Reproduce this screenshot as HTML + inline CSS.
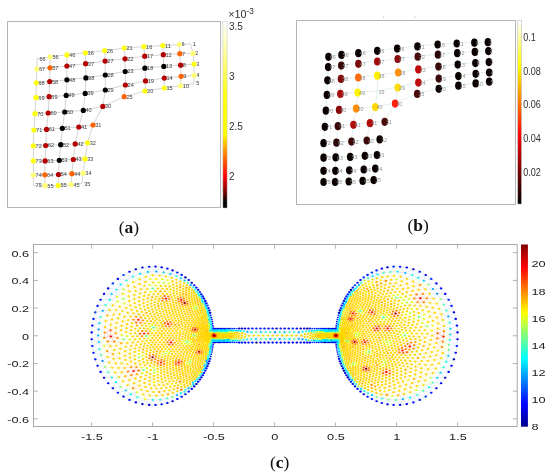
<!DOCTYPE html>
<html><head><meta charset="utf-8"><title>Figure</title>
<style>html,body{margin:0;padding:0;background:#fff}svg{display:block}</style></head>
<body><svg width="550" height="475" viewBox="0 0 550 475">
<defs>
<linearGradient id="gA" x1="0" y1="0" x2="0" y2="1">
<stop offset="0" stop-color="#fff"/><stop offset="0.40" stop-color="#ffff10"/><stop offset="0.605" stop-color="#ffff00"/><stop offset="0.71" stop-color="#ff8000"/><stop offset="0.83" stop-color="#ff0000"/><stop offset="0.91" stop-color="#800000"/><stop offset="0.97" stop-color="#000"/><stop offset="1" stop-color="#000"/>
</linearGradient>
<linearGradient id="gB" x1="0" y1="0" x2="0" y2="1">
<stop offset="0" stop-color="#fff"/><stop offset="0.25" stop-color="#ffff00"/><stop offset="0.625" stop-color="#ff0000"/><stop offset="1" stop-color="#000"/>
</linearGradient>
<linearGradient id="gC" x1="0" y1="0" x2="0" y2="1">
<stop offset="0" stop-color="#800000"/><stop offset="0.125" stop-color="#ff0000"/><stop offset="0.375" stop-color="#ffff00"/><stop offset="0.625" stop-color="#00ffff"/><stop offset="0.875" stop-color="#0000ff"/><stop offset="1" stop-color="#00008f"/>
</linearGradient>
</defs>
<rect width="550" height="475" fill="#fff"/>
<rect x="7.5" y="21.5" width="213" height="186" fill="#fff" stroke="#b4b4b4" stroke-width="1"/>
<path d="M37.2 58.8L50.2 56.9M50.2 56.9L66.9 54.9M66.9 54.9L85.4 52.8M85.4 52.8L104.6 50.6M104.6 50.6L124.2 48.1M124.2 48.1L143.9 46.6M143.9 46.6L162.8 45.6M162.8 45.6L179.3 44.5M179.3 44.5L190.5 43.8M36.8 69.1L50.0 67.8M50.0 67.8L66.9 66.0M66.9 66.0L85.6 63.7M85.6 63.7L105.1 61.1M105.1 61.1L125.0 58.8M125.0 58.8L144.7 56.2M144.7 56.2L163.3 54.7M163.3 54.7L179.8 53.7M179.8 53.7L193.0 53.4M36.3 82.8L49.7 81.6M49.7 81.6L66.9 79.8M66.9 79.8L85.9 77.9M85.9 77.9L105.3 75.0M105.3 75.0L125.2 71.5M125.2 71.5L144.9 68.2M144.9 68.2L163.8 66.4M163.8 66.4L180.6 65.2M180.6 65.2L194.1 64.1M36.1 97.7L49.1 96.7M49.1 96.7L66.2 95.4M66.2 95.4L85.2 93.4M85.2 93.4L105.3 90.0M105.3 90.0L125.4 85.0M125.4 85.0L145.5 80.9M145.5 80.9L164.3 78.1M164.3 78.1L181.1 76.3M181.1 76.3L194.1 75.3M35.0 113.7L48.2 113.0M48.2 113.0L64.7 112.0M64.7 112.0L83.3 110.4M83.3 110.4L102.8 106.4M102.8 106.4L124.2 96.7M124.2 96.7L144.9 91.1M144.9 91.1L164.3 88.0M164.3 88.0L180.6 85.8M180.6 85.8L194.0 83.5M33.9 130.0L46.5 129.4M46.5 129.4L62.3 128.3M62.3 128.3L78.8 127.0M78.8 127.0L93.0 125.0M33.4 145.8L45.7 145.5M45.7 145.5L60.7 144.7M60.7 144.7L75.2 143.9M75.2 143.9L87.5 142.8M33.4 160.9L45.1 160.9M45.1 160.9L59.3 160.3M59.3 160.3L73.3 159.5M73.3 159.5L85.0 158.9M33.4 175.1L44.8 174.8M44.8 174.8L58.5 174.5M58.5 174.5L71.9 173.7M71.9 173.7L83.1 173.2M33.4 185.5L45.1 185.7M45.1 185.7L58.2 185.5M58.2 185.5L71.1 184.7M71.1 184.7L82.0 183.6M37.2 58.8L36.8 69.1M50.2 56.9L50.0 67.8M66.9 54.9L66.9 66.0M85.4 52.8L85.6 63.7M104.6 50.6L105.1 61.1M124.2 48.1L125.0 58.8M143.9 46.6L144.7 56.2M162.8 45.6L163.3 54.7M179.3 44.5L179.8 53.7M190.5 43.8L193.0 53.4M36.8 69.1L36.3 82.8M50.0 67.8L49.7 81.6M66.9 66.0L66.9 79.8M85.6 63.7L85.9 77.9M105.1 61.1L105.3 75.0M125.0 58.8L125.2 71.5M144.7 56.2L144.9 68.2M163.3 54.7L163.8 66.4M179.8 53.7L180.6 65.2M193.0 53.4L194.1 64.1M36.3 82.8L36.1 97.7M49.7 81.6L49.1 96.7M66.9 79.8L66.2 95.4M85.9 77.9L85.2 93.4M105.3 75.0L105.3 90.0M125.2 71.5L125.4 85.0M144.9 68.2L145.5 80.9M163.8 66.4L164.3 78.1M180.6 65.2L181.1 76.3M194.1 64.1L194.1 75.3M36.1 97.7L35.0 113.7M49.1 96.7L48.2 113.0M66.2 95.4L64.7 112.0M85.2 93.4L83.3 110.4M105.3 90.0L102.8 106.4M125.4 85.0L124.2 96.7M145.5 80.9L144.9 91.1M164.3 78.1L164.3 88.0M181.1 76.3L180.6 85.8M194.1 75.3L194.0 83.5M35.0 113.7L33.9 130.0M48.2 113.0L46.5 129.4M64.7 112.0L62.3 128.3M83.3 110.4L78.8 127.0M102.8 106.4L93.0 125.0M33.9 130.0L33.4 145.8M46.5 129.4L45.7 145.5M62.3 128.3L60.7 144.7M78.8 127.0L75.2 143.9M93.0 125.0L87.5 142.8M33.4 145.8L33.4 160.9M45.7 145.5L45.1 160.9M60.7 144.7L59.3 160.3M75.2 143.9L73.3 159.5M87.5 142.8L85.0 158.9M33.4 160.9L33.4 175.1M45.1 160.9L44.8 174.8M59.3 160.3L58.5 174.5M73.3 159.5L71.9 173.7M85.0 158.9L83.1 173.2M33.4 175.1L33.4 185.5M44.8 174.8L45.1 185.7M58.5 174.5L58.2 185.5M71.9 173.7L71.1 184.7M83.1 173.2L82.0 183.6" stroke="#b8b8b8" stroke-width="0.6" fill="none"/>
<g font-family="'Liberation Sans',sans-serif" font-size="5.6" fill="#404040">
<text x="39.4" y="60.7">66</text>
<text x="52.4" y="58.8">56</text>
<text x="69.1" y="56.8">46</text>
<text x="87.6" y="54.7">36</text>
<text x="106.8" y="52.5">26</text>
<text x="126.4" y="50.0">21</text>
<text x="146.1" y="48.5">16</text>
<text x="165.0" y="47.5">11</text>
<text x="181.5" y="46.4">6</text>
<text x="192.7" y="45.7">1</text>
<text x="39.0" y="71.0">67</text>
<text x="52.2" y="69.7">57</text>
<text x="69.1" y="67.9">47</text>
<text x="87.8" y="65.6">37</text>
<text x="107.3" y="63.0">27</text>
<text x="127.2" y="60.7">22</text>
<text x="146.9" y="58.1">17</text>
<text x="165.5" y="56.6">12</text>
<text x="182.0" y="55.6">7</text>
<text x="195.2" y="55.3">2</text>
<text x="38.5" y="84.7">68</text>
<text x="51.9" y="83.5">58</text>
<text x="69.1" y="81.7">48</text>
<text x="88.1" y="79.8">38</text>
<text x="107.5" y="76.9">28</text>
<text x="127.4" y="73.4">23</text>
<text x="147.1" y="70.1">18</text>
<text x="166.0" y="68.3">13</text>
<text x="182.8" y="67.1">8</text>
<text x="196.3" y="66.0">3</text>
<text x="38.3" y="99.6">69</text>
<text x="51.3" y="98.6">59</text>
<text x="68.4" y="97.3">49</text>
<text x="87.4" y="95.3">39</text>
<text x="107.5" y="91.9">29</text>
<text x="127.6" y="86.9">24</text>
<text x="147.7" y="82.8">19</text>
<text x="166.5" y="80.0">14</text>
<text x="183.3" y="78.2">9</text>
<text x="196.3" y="77.2">4</text>
<text x="37.2" y="115.6">70</text>
<text x="50.4" y="114.9">60</text>
<text x="66.9" y="113.9">50</text>
<text x="85.5" y="112.3">40</text>
<text x="105.0" y="108.3">30</text>
<text x="126.4" y="98.6">25</text>
<text x="147.1" y="93.0">20</text>
<text x="166.5" y="89.9">15</text>
<text x="182.8" y="87.7">10</text>
<text x="196.2" y="85.4">5</text>
<text x="36.1" y="131.9">71</text>
<text x="48.7" y="131.3">61</text>
<text x="64.5" y="130.2">51</text>
<text x="81.0" y="128.9">41</text>
<text x="95.2" y="126.9">31</text>
<text x="35.6" y="147.7">72</text>
<text x="47.9" y="147.4">62</text>
<text x="62.9" y="146.6">52</text>
<text x="77.4" y="145.8">42</text>
<text x="89.7" y="144.7">32</text>
<text x="35.6" y="162.8">73</text>
<text x="47.3" y="162.8">63</text>
<text x="61.5" y="162.2">53</text>
<text x="75.5" y="161.4">43</text>
<text x="87.2" y="160.8">33</text>
<text x="35.6" y="177.0">74</text>
<text x="47.0" y="176.7">64</text>
<text x="60.7" y="176.4">54</text>
<text x="74.1" y="175.6">44</text>
<text x="85.3" y="175.1">34</text>
<text x="35.6" y="187.4">75</text>
<text x="47.3" y="187.6">65</text>
<text x="60.4" y="187.4">55</text>
<text x="73.3" y="186.6">45</text>
<text x="84.2" y="185.5">35</text>
</g>
<circle cx="50.2" cy="56.9" r="2.6" fill="#ffff78"/>
<circle cx="66.9" cy="54.9" r="2.6" fill="#ffff10"/>
<circle cx="85.4" cy="52.8" r="2.6" fill="#ffff10"/>
<circle cx="104.6" cy="50.6" r="2.6" fill="#ffff10"/>
<circle cx="124.2" cy="48.1" r="2.6" fill="#ffff10"/>
<circle cx="143.9" cy="46.6" r="2.6" fill="#ffff10"/>
<circle cx="162.8" cy="45.6" r="2.6" fill="#ffff10"/>
<circle cx="179.3" cy="44.5" r="2.6" fill="#ffff78"/>
<circle cx="36.8" cy="69.1" r="2.6" fill="#ffff78"/>
<circle cx="50.0" cy="67.8" r="2.6" fill="#ff6400"/>
<circle cx="66.9" cy="66.0" r="2.6" fill="#b40000"/>
<circle cx="85.6" cy="63.7" r="2.6" fill="#b40000"/>
<circle cx="105.1" cy="61.1" r="2.6" fill="#b40000"/>
<circle cx="125.0" cy="58.8" r="2.6" fill="#b40000"/>
<circle cx="144.7" cy="56.2" r="2.6" fill="#b40000"/>
<circle cx="163.3" cy="54.7" r="2.6" fill="#b40000"/>
<circle cx="179.8" cy="53.7" r="2.6" fill="#ff6400"/>
<circle cx="193.0" cy="53.4" r="2.6" fill="#ffff78"/>
<circle cx="36.3" cy="82.8" r="2.6" fill="#ffff10"/>
<circle cx="49.7" cy="81.6" r="2.6" fill="#b40000"/>
<circle cx="66.9" cy="79.8" r="2.6" fill="#000000"/>
<circle cx="85.9" cy="77.9" r="2.6" fill="#000000"/>
<circle cx="105.3" cy="75.0" r="2.6" fill="#000000"/>
<circle cx="125.2" cy="71.5" r="2.6" fill="#000000"/>
<circle cx="144.9" cy="68.2" r="2.6" fill="#000000"/>
<circle cx="163.8" cy="66.4" r="2.6" fill="#000000"/>
<circle cx="180.6" cy="65.2" r="2.6" fill="#b40000"/>
<circle cx="194.1" cy="64.1" r="2.6" fill="#ffff10"/>
<circle cx="36.1" cy="97.7" r="2.6" fill="#ffff10"/>
<circle cx="49.1" cy="96.7" r="2.6" fill="#b40000"/>
<circle cx="66.2" cy="95.4" r="2.6" fill="#000000"/>
<circle cx="85.2" cy="93.4" r="2.6" fill="#000000"/>
<circle cx="105.3" cy="90.0" r="2.6" fill="#000000"/>
<circle cx="125.4" cy="85.0" r="2.6" fill="#b40000"/>
<circle cx="145.5" cy="80.9" r="2.6" fill="#b40000"/>
<circle cx="164.3" cy="78.1" r="2.6" fill="#b40000"/>
<circle cx="181.1" cy="76.3" r="2.6" fill="#ff6400"/>
<circle cx="194.1" cy="75.3" r="2.6" fill="#ffff78"/>
<circle cx="35.0" cy="113.7" r="2.6" fill="#ffff10"/>
<circle cx="48.2" cy="113.0" r="2.6" fill="#b40000"/>
<circle cx="64.7" cy="112.0" r="2.6" fill="#000000"/>
<circle cx="83.3" cy="110.4" r="2.6" fill="#000000"/>
<circle cx="102.8" cy="106.4" r="2.6" fill="#b40000"/>
<circle cx="124.2" cy="96.7" r="2.6" fill="#ff6400"/>
<circle cx="144.9" cy="91.1" r="2.6" fill="#ffff10"/>
<circle cx="164.3" cy="88.0" r="2.6" fill="#ffff10"/>
<circle cx="180.6" cy="85.8" r="2.6" fill="#ffff78"/>
<circle cx="33.9" cy="130.0" r="2.6" fill="#ffff10"/>
<circle cx="46.5" cy="129.4" r="2.6" fill="#b40000"/>
<circle cx="62.3" cy="128.3" r="2.6" fill="#000000"/>
<circle cx="78.8" cy="127.0" r="2.6" fill="#b40000"/>
<circle cx="93.0" cy="125.0" r="2.6" fill="#ff6400"/>
<circle cx="33.4" cy="145.8" r="2.6" fill="#ffff10"/>
<circle cx="45.7" cy="145.5" r="2.6" fill="#b40000"/>
<circle cx="60.7" cy="144.7" r="2.6" fill="#000000"/>
<circle cx="75.2" cy="143.9" r="2.6" fill="#b40000"/>
<circle cx="87.5" cy="142.8" r="2.6" fill="#ffff10"/>
<circle cx="33.4" cy="160.9" r="2.6" fill="#ffff10"/>
<circle cx="45.1" cy="160.9" r="2.6" fill="#b40000"/>
<circle cx="59.3" cy="160.3" r="2.6" fill="#000000"/>
<circle cx="73.3" cy="159.5" r="2.6" fill="#b40000"/>
<circle cx="85.0" cy="158.9" r="2.6" fill="#ffff10"/>
<circle cx="33.4" cy="175.1" r="2.6" fill="#ffff78"/>
<circle cx="44.8" cy="174.8" r="2.6" fill="#ff6400"/>
<circle cx="58.5" cy="174.5" r="2.6" fill="#b40000"/>
<circle cx="71.9" cy="173.7" r="2.6" fill="#ff6400"/>
<circle cx="83.1" cy="173.2" r="2.6" fill="#ffff78"/>
<circle cx="45.1" cy="185.7" r="2.6" fill="#ffff78"/>
<circle cx="58.2" cy="185.5" r="2.6" fill="#ffff10"/>
<circle cx="71.1" cy="184.7" r="2.6" fill="#ffff78"/>
<rect x="222.9" y="21.5" width="4.2" height="186.5" fill="url(#gA)" stroke="#c0c0c0" stroke-width="0.5"/>
<g font-family="'Liberation Sans',sans-serif" font-size="10" fill="#303030">
<text x="229" y="29.7">3.5</text>
<text x="229" y="79.5">3</text>
<text x="229" y="129.5">2.5</text>
<text x="229" y="179.5">2</text>
<text x="228.2" y="18" font-size="10.8">×10<tspan dy="-4.4" font-size="8.2">-3</tspan></text>
</g>
<text x="128.9" y="232.6" text-anchor="middle" font-family="'Liberation Serif',serif" font-size="17.5" fill="#111">(<tspan font-weight="bold">a</tspan>)</text>
<rect x="296.5" y="20.5" width="219" height="184" fill="#fff" stroke="#b4b4b4" stroke-width="1"/>
<path d="M328.5 56.4L341.5 54.5M341.5 54.5L358.4 52.8M358.4 52.8L377.3 50.4M377.3 50.4L397.2 48.2M397.2 48.2L417.5 46.0M417.5 46.0L437.7 44.1M437.7 44.1L456.8 43.1M456.8 43.1L474.4 42.3M474.4 42.3L487.9 41.8M328.2 66.7L341.3 65.2M341.3 65.2L358.4 63.4M358.4 63.4L377.3 61.1M377.3 61.1L397.7 58.6M397.7 58.6L417.8 56.3M417.8 56.3L438.0 54.3M438.0 54.3L457.3 52.8M457.3 52.8L474.9 51.5M474.9 51.5L488.4 50.7M327.5 79.9L341.0 78.5M341.0 78.5L358.3 77.1M358.3 77.1L377.3 75.3M377.3 75.3L398.2 72.1M398.2 72.1L418.4 69.0M418.4 69.0L438.5 66.2M438.5 66.2L457.8 64.2M457.8 64.2L475.4 62.7M475.4 62.7L488.9 61.7M326.9 94.5L340.4 93.5M340.4 93.5L357.7 92.2M357.7 92.2L377.3 91.0M377.3 91.0L397.7 87.1M397.7 87.1L418.4 82.2M418.4 82.2L438.8 78.2M438.8 78.2L458.4 75.7M458.4 75.7L475.7 73.4M475.7 73.4L489.2 72.1M325.9 110.3L339.1 109.5M339.1 109.5L356.2 108.2M356.2 108.2L375.3 106.7M375.3 106.7L395.1 103.2M395.1 103.2L417.2 93.5M417.2 93.5L438.8 88.4M438.8 88.4L458.4 85.3M458.4 85.3L475.7 83.0M475.7 83.0L489.2 81.3M324.9 126.4L337.9 125.8M337.9 125.8L353.5 124.4M353.5 124.4L370.0 122.8M370.0 122.8L384.7 121.4M323.6 142.8L336.5 142.3M336.5 142.3L351.5 141.2M351.5 141.2L366.8 140.1M366.8 140.1L379.7 139.0M323.6 157.3L335.7 157.0M335.7 157.0L350.2 156.5M350.2 156.5L364.9 155.4M364.9 155.4L377.0 154.6M323.6 170.4L335.4 170.4M335.4 170.4L349.3 169.9M349.3 169.9L363.8 169.1M363.8 169.1L375.3 168.2M323.6 181.6L335.1 181.6M335.1 181.6L348.8 181.1M348.8 181.1L362.7 180.5M362.7 180.5L373.7 179.7M328.5 56.4L328.2 66.7M341.5 54.5L341.3 65.2M358.4 52.8L358.4 63.4M377.3 50.4L377.3 61.1M397.2 48.2L397.7 58.6M417.5 46.0L417.8 56.3M437.7 44.1L438.0 54.3M456.8 43.1L457.3 52.8M474.4 42.3L474.9 51.5M487.9 41.8L488.4 50.7M328.2 66.7L327.5 79.9M341.3 65.2L341.0 78.5M358.4 63.4L358.3 77.1M377.3 61.1L377.3 75.3M397.7 58.6L398.2 72.1M417.8 56.3L418.4 69.0M438.0 54.3L438.5 66.2M457.3 52.8L457.8 64.2M474.9 51.5L475.4 62.7M488.4 50.7L488.9 61.7M327.5 79.9L326.9 94.5M341.0 78.5L340.4 93.5M358.3 77.1L357.7 92.2M377.3 75.3L377.3 91.0M398.2 72.1L397.7 87.1M418.4 69.0L418.4 82.2M438.5 66.2L438.8 78.2M457.8 64.2L458.4 75.7M475.4 62.7L475.7 73.4M488.9 61.7L489.2 72.1M326.9 94.5L325.9 110.3M340.4 93.5L339.1 109.5M357.7 92.2L356.2 108.2M377.3 91.0L375.3 106.7M397.7 87.1L395.1 103.2M418.4 82.2L417.2 93.5M438.8 78.2L438.8 88.4M458.4 75.7L458.4 85.3M475.7 73.4L475.7 83.0M489.2 72.1L489.2 81.3M325.9 110.3L324.9 126.4M339.1 109.5L337.9 125.8M356.2 108.2L353.5 124.4M375.3 106.7L370.0 122.8M395.1 103.2L384.7 121.4M324.9 126.4L323.6 142.8M337.9 125.8L336.5 142.3M353.5 124.4L351.5 141.2M370.0 122.8L366.8 140.1M384.7 121.4L379.7 139.0M323.6 142.8L323.6 157.3M336.5 142.3L335.7 157.0M351.5 141.2L350.2 156.5M366.8 140.1L364.9 155.4M379.7 139.0L377.0 154.6M323.6 157.3L323.6 170.4M335.7 157.0L335.4 170.4M350.2 156.5L349.3 169.9M364.9 155.4L363.8 169.1M377.0 154.6L375.3 168.2M323.6 170.4L323.6 181.6M335.4 170.4L335.1 181.6M349.3 169.9L348.8 181.1M363.8 169.1L362.7 180.5M375.3 168.2L373.7 179.7" stroke="#d2e6e6" stroke-width="0.6" fill="none"/>
<ellipse cx="328.5" cy="56.8" rx="3.3" ry="4.1" fill="#0a0000"/>
<ellipse cx="341.5" cy="54.9" rx="3.3" ry="4.1" fill="#0a0000"/>
<ellipse cx="358.4" cy="53.2" rx="3.3" ry="4.1" fill="#0a0000"/>
<ellipse cx="377.3" cy="50.8" rx="3.3" ry="4.1" fill="#0a0000"/>
<ellipse cx="397.2" cy="48.6" rx="3.3" ry="4.1" fill="#0a0000"/>
<ellipse cx="417.5" cy="46.4" rx="3.3" ry="4.1" fill="#0a0000"/>
<ellipse cx="437.7" cy="44.5" rx="3.3" ry="4.1" fill="#0a0000"/>
<ellipse cx="456.8" cy="43.5" rx="3.3" ry="4.1" fill="#0a0000"/>
<ellipse cx="474.4" cy="42.7" rx="3.3" ry="4.1" fill="#0a0000"/>
<ellipse cx="487.9" cy="42.2" rx="3.3" ry="4.1" fill="#0a0000"/>
<ellipse cx="328.2" cy="67.1" rx="3.3" ry="4.1" fill="#0a0000"/>
<ellipse cx="341.3" cy="65.6" rx="3.3" ry="4.1" fill="#3a0808"/>
<ellipse cx="358.4" cy="63.8" rx="3.3" ry="4.1" fill="#7a0c0c"/>
<ellipse cx="377.3" cy="61.5" rx="3.3" ry="4.1" fill="#a00c0c"/>
<ellipse cx="397.7" cy="59.0" rx="3.3" ry="4.1" fill="#8a0c0c"/>
<ellipse cx="417.8" cy="56.7" rx="3.3" ry="4.1" fill="#4a0a0a"/>
<ellipse cx="438.0" cy="54.7" rx="3.3" ry="4.1" fill="#2a0606"/>
<ellipse cx="457.3" cy="53.2" rx="3.3" ry="4.1" fill="#0a0000"/>
<ellipse cx="474.9" cy="51.9" rx="3.3" ry="4.1" fill="#0a0000"/>
<ellipse cx="488.4" cy="51.1" rx="3.3" ry="4.1" fill="#0a0000"/>
<ellipse cx="327.5" cy="80.3" rx="3.3" ry="4.1" fill="#0a0000"/>
<ellipse cx="341.0" cy="78.9" rx="3.3" ry="4.1" fill="#800c0c"/>
<ellipse cx="358.3" cy="77.5" rx="3.3" ry="4.1" fill="#ff6a10"/>
<ellipse cx="377.3" cy="75.7" rx="3.3" ry="4.1" fill="#fff000"/>
<ellipse cx="398.2" cy="72.5" rx="3.3" ry="4.1" fill="#ff9010"/>
<ellipse cx="418.4" cy="69.4" rx="3.3" ry="4.1" fill="#c00c0c"/>
<ellipse cx="438.5" cy="66.6" rx="3.3" ry="4.1" fill="#3a0808"/>
<ellipse cx="457.8" cy="64.6" rx="3.3" ry="4.1" fill="#0a0000"/>
<ellipse cx="475.4" cy="63.1" rx="3.3" ry="4.1" fill="#0a0000"/>
<ellipse cx="488.9" cy="62.1" rx="3.3" ry="4.1" fill="#0a0000"/>
<ellipse cx="326.9" cy="94.9" rx="3.3" ry="4.1" fill="#0a0000"/>
<ellipse cx="340.4" cy="93.9" rx="3.3" ry="4.1" fill="#a80c0c"/>
<ellipse cx="357.7" cy="92.6" rx="3.3" ry="4.1" fill="#fff200"/>
<ellipse cx="397.7" cy="87.5" rx="3.3" ry="4.1" fill="#ffdc10"/>
<ellipse cx="418.4" cy="82.6" rx="3.3" ry="4.1" fill="#c00c0c"/>
<ellipse cx="438.8" cy="78.6" rx="3.3" ry="4.1" fill="#3a0808"/>
<ellipse cx="458.4" cy="76.1" rx="3.3" ry="4.1" fill="#0a0000"/>
<ellipse cx="475.7" cy="73.8" rx="3.3" ry="4.1" fill="#0a0000"/>
<ellipse cx="489.2" cy="72.5" rx="3.3" ry="4.1" fill="#0a0000"/>
<ellipse cx="325.9" cy="110.7" rx="3.3" ry="4.1" fill="#0a0000"/>
<ellipse cx="339.1" cy="109.9" rx="3.3" ry="4.1" fill="#8a0a0a"/>
<ellipse cx="356.2" cy="108.6" rx="3.3" ry="4.1" fill="#ff8c00"/>
<ellipse cx="375.3" cy="107.1" rx="3.3" ry="4.1" fill="#ffd800"/>
<ellipse cx="395.1" cy="103.6" rx="3.3" ry="4.1" fill="#ff2010"/>
<ellipse cx="417.2" cy="93.9" rx="3.3" ry="4.1" fill="#4a0a0a"/>
<ellipse cx="438.8" cy="88.8" rx="3.3" ry="4.1" fill="#0a0000"/>
<ellipse cx="458.4" cy="85.7" rx="3.3" ry="4.1" fill="#0a0000"/>
<ellipse cx="475.7" cy="83.4" rx="3.3" ry="4.1" fill="#0a0000"/>
<ellipse cx="489.2" cy="81.7" rx="3.3" ry="4.1" fill="#0a0000"/>
<ellipse cx="324.9" cy="126.8" rx="3.3" ry="4.1" fill="#0a0000"/>
<ellipse cx="337.9" cy="126.2" rx="3.3" ry="4.1" fill="#3a0808"/>
<ellipse cx="353.5" cy="124.8" rx="3.3" ry="4.1" fill="#b00c0c"/>
<ellipse cx="370.0" cy="123.2" rx="3.3" ry="4.1" fill="#b00c0c"/>
<ellipse cx="384.7" cy="121.8" rx="3.3" ry="4.1" fill="#4a0a0a"/>
<ellipse cx="323.6" cy="143.2" rx="3.3" ry="4.1" fill="#0a0000"/>
<ellipse cx="336.5" cy="142.7" rx="3.3" ry="4.1" fill="#2a0606"/>
<ellipse cx="351.5" cy="141.6" rx="3.3" ry="4.1" fill="#3a0808"/>
<ellipse cx="366.8" cy="140.5" rx="3.3" ry="4.1" fill="#3a0808"/>
<ellipse cx="379.7" cy="139.4" rx="3.3" ry="4.1" fill="#0a0000"/>
<ellipse cx="323.6" cy="157.7" rx="3.3" ry="4.1" fill="#0a0000"/>
<ellipse cx="335.7" cy="157.4" rx="3.3" ry="4.1" fill="#0a0000"/>
<ellipse cx="350.2" cy="156.9" rx="3.3" ry="4.1" fill="#0a0000"/>
<ellipse cx="364.9" cy="155.8" rx="3.3" ry="4.1" fill="#0a0000"/>
<ellipse cx="377.0" cy="155.0" rx="3.3" ry="4.1" fill="#0a0000"/>
<ellipse cx="323.6" cy="170.8" rx="3.3" ry="4.1" fill="#0a0000"/>
<ellipse cx="335.4" cy="170.8" rx="3.3" ry="4.1" fill="#0a0000"/>
<ellipse cx="349.3" cy="170.3" rx="3.3" ry="4.1" fill="#0a0000"/>
<ellipse cx="363.8" cy="169.5" rx="3.3" ry="4.1" fill="#0a0000"/>
<ellipse cx="375.3" cy="168.6" rx="3.3" ry="4.1" fill="#0a0000"/>
<ellipse cx="323.6" cy="182.0" rx="3.3" ry="4.1" fill="#0a0000"/>
<ellipse cx="335.1" cy="182.0" rx="3.3" ry="4.1" fill="#0a0000"/>
<ellipse cx="348.8" cy="181.5" rx="3.3" ry="4.1" fill="#0a0000"/>
<ellipse cx="362.7" cy="180.9" rx="3.3" ry="4.1" fill="#0a0000"/>
<ellipse cx="373.7" cy="180.1" rx="3.3" ry="4.1" fill="#0a0000"/>
<g font-family="'Liberation Sans',sans-serif" font-size="6.2" fill="#8a8a8a" fill-opacity="0.9">
<text transform="translate(329.8,59.0) scale(0.85,1)">66</text>
<text transform="translate(342.8,57.1) scale(0.85,1)">56</text>
<text transform="translate(359.7,55.4) scale(0.85,1)">46</text>
<text transform="translate(378.6,53.0) scale(0.85,1)">36</text>
<text transform="translate(398.5,50.8) scale(0.85,1)">26</text>
<text transform="translate(418.8,48.6) scale(0.85,1)">21</text>
<text transform="translate(439.0,46.7) scale(0.85,1)">16</text>
<text transform="translate(458.1,45.7) scale(0.85,1)">11</text>
<text transform="translate(475.7,44.9) scale(0.85,1)">6</text>
<text transform="translate(489.2,44.4) scale(0.85,1)">1</text>
<text transform="translate(329.5,69.3) scale(0.85,1)">67</text>
<text transform="translate(342.6,67.8) scale(0.85,1)">57</text>
<text transform="translate(359.7,66.0) scale(0.85,1)">47</text>
<text transform="translate(378.6,63.7) scale(0.85,1)">37</text>
<text transform="translate(399.0,61.2) scale(0.85,1)">27</text>
<text transform="translate(419.1,58.9) scale(0.85,1)">22</text>
<text transform="translate(439.3,56.9) scale(0.85,1)">17</text>
<text transform="translate(458.6,55.4) scale(0.85,1)">12</text>
<text transform="translate(476.2,54.1) scale(0.85,1)">7</text>
<text transform="translate(489.7,53.3) scale(0.85,1)">2</text>
<text transform="translate(328.8,82.5) scale(0.85,1)">68</text>
<text transform="translate(342.3,81.1) scale(0.85,1)">58</text>
<text transform="translate(359.6,79.7) scale(0.85,1)">48</text>
<text transform="translate(378.6,77.9) scale(0.85,1)">38</text>
<text transform="translate(399.5,74.7) scale(0.85,1)">28</text>
<text transform="translate(419.7,71.6) scale(0.85,1)">23</text>
<text transform="translate(439.8,68.8) scale(0.85,1)">18</text>
<text transform="translate(459.1,66.8) scale(0.85,1)">13</text>
<text transform="translate(476.7,65.3) scale(0.85,1)">8</text>
<text transform="translate(490.2,64.3) scale(0.85,1)">3</text>
<text transform="translate(328.2,97.1) scale(0.85,1)">69</text>
<text transform="translate(341.7,96.1) scale(0.85,1)">59</text>
<text transform="translate(359.0,94.8) scale(0.85,1)">49</text>
<text transform="translate(378.6,93.6) scale(0.85,1)">39</text>
<text transform="translate(399.0,89.7) scale(0.85,1)">29</text>
<text transform="translate(419.7,84.8) scale(0.85,1)">24</text>
<text transform="translate(440.1,80.8) scale(0.85,1)">19</text>
<text transform="translate(459.7,78.3) scale(0.85,1)">14</text>
<text transform="translate(477.0,76.0) scale(0.85,1)">9</text>
<text transform="translate(490.5,74.7) scale(0.85,1)">4</text>
<text transform="translate(327.2,112.9) scale(0.85,1)">70</text>
<text transform="translate(340.4,112.1) scale(0.85,1)">60</text>
<text transform="translate(357.5,110.8) scale(0.85,1)">50</text>
<text transform="translate(376.6,109.3) scale(0.85,1)">40</text>
<text transform="translate(396.4,105.8) scale(0.85,1)">30</text>
<text transform="translate(418.5,96.1) scale(0.85,1)">25</text>
<text transform="translate(440.1,91.0) scale(0.85,1)">20</text>
<text transform="translate(459.7,87.9) scale(0.85,1)">15</text>
<text transform="translate(477.0,85.6) scale(0.85,1)">10</text>
<text transform="translate(490.5,83.9) scale(0.85,1)">5</text>
<text transform="translate(326.2,129.0) scale(0.85,1)">71</text>
<text transform="translate(339.2,128.4) scale(0.85,1)">61</text>
<text transform="translate(354.8,127.0) scale(0.85,1)">51</text>
<text transform="translate(371.3,125.4) scale(0.85,1)">41</text>
<text transform="translate(386.0,124.0) scale(0.85,1)">31</text>
<text transform="translate(324.9,145.4) scale(0.85,1)">72</text>
<text transform="translate(337.8,144.9) scale(0.85,1)">62</text>
<text transform="translate(352.8,143.8) scale(0.85,1)">52</text>
<text transform="translate(368.1,142.7) scale(0.85,1)">42</text>
<text transform="translate(381.0,141.6) scale(0.85,1)">32</text>
<text transform="translate(324.9,159.9) scale(0.85,1)">73</text>
<text transform="translate(337.0,159.6) scale(0.85,1)">63</text>
<text transform="translate(351.5,159.1) scale(0.85,1)">53</text>
<text transform="translate(366.2,158.0) scale(0.85,1)">43</text>
<text transform="translate(378.3,157.2) scale(0.85,1)">33</text>
<text transform="translate(324.9,173.0) scale(0.85,1)">74</text>
<text transform="translate(336.7,173.0) scale(0.85,1)">64</text>
<text transform="translate(350.6,172.5) scale(0.85,1)">54</text>
<text transform="translate(365.1,171.7) scale(0.85,1)">44</text>
<text transform="translate(376.6,170.8) scale(0.85,1)">34</text>
<text transform="translate(324.9,184.2) scale(0.85,1)">75</text>
<text transform="translate(336.4,184.2) scale(0.85,1)">65</text>
<text transform="translate(350.1,183.7) scale(0.85,1)">55</text>
<text transform="translate(364.0,183.1) scale(0.85,1)">45</text>
<text transform="translate(375.0,182.3) scale(0.85,1)">35</text>
</g>
<circle cx="383.7" cy="17" r="0.6" fill="#999"/><circle cx="415" cy="17" r="0.6" fill="#999"/>
<rect x="517.8" y="20.5" width="3.6" height="183.5" fill="url(#gB)" stroke="#b0b0b0" stroke-width="0.5"/>
<g font-family="'Liberation Sans',sans-serif" font-size="10.4" fill="#303030">
<text transform="translate(523.3,41.0) scale(0.87,1)">0.1</text>
<text transform="translate(523.3,74.7) scale(0.87,1)">0.08</text>
<text transform="translate(523.3,108.3) scale(0.87,1)">0.06</text>
<text transform="translate(523.3,141.9) scale(0.87,1)">0.04</text>
<text transform="translate(523.3,175.6) scale(0.87,1)">0.02</text>
</g>
<text x="418.2" y="230.6" text-anchor="middle" font-family="'Liberation Serif',serif" font-size="17.5" fill="#111">(<tspan font-weight="bold">b</tspan>)</text>
<rect x="33.5" y="244.5" width="483.7" height="182" fill="#fff" stroke="#a8a8a8" stroke-width="1"/>
<path d="M91.6 426.5v-4.2M91.6 244.5v4.2M152.6 426.5v-4.2M152.6 244.5v4.2M213.6 426.5v-4.2M213.6 244.5v4.2M274.6 426.5v-4.2M274.6 244.5v4.2M335.6 426.5v-4.2M335.6 244.5v4.2M396.6 426.5v-4.2M396.6 244.5v4.2M457.6 426.5v-4.2M457.6 244.5v4.2M33.5 418.9h4.4M517.2 418.9h-4.4M33.5 391.2h4.4M517.2 391.2h-4.4M33.5 363.5h4.4M517.2 363.5h-4.4M33.5 335.8h4.4M517.2 335.8h-4.4M33.5 308.1h4.4M517.2 308.1h-4.4M33.5 280.4h4.4M517.2 280.4h-4.4M33.5 252.7h4.4M517.2 252.7h-4.4" stroke="#a0a0a0" stroke-width="0.8" fill="none"/>
<g stroke-width="0.5" fill="none" stroke-opacity="0.8">
<path d="M196.4 384.0L198.2 381.7M194.2 386.4L196.4 384.0M210.8 356.4L211.4 354.2M343.9 370.7L342.8 368.4M345.1 373.0L343.9 370.7M304.2 328.5L307.2 328.5" stroke="#b4ceee"/>
<path d="M142.4 404.1L149.1 404.9M108.1 288.4L104.1 293.9M454.0 312.3L455.7 318.9M210.8 315.2L210.1 312.8M172.6 270.4L167.4 268.6M448.7 371.9L445.1 377.7M445.1 377.7L441.1 383.2M210.1 358.8L210.8 356.4M455.7 352.7L454.0 359.3M454.0 359.3L451.6 365.7M212.6 323.5L212.3 321.6M212.3 321.6L211.9 319.6M347.8 377.4L346.4 375.2M339.9 310.4L340.7 308.0M339.1 312.8L339.9 310.4M336.6 323.5L336.9 321.6M346.4 375.2L345.1 373.0M300.7 328.5L304.2 328.5M296.8 328.5L300.7 328.5M256.4 342.6L260.5 342.6M252.4 342.6L256.4 342.6M307.2 328.5L309.9 328.5" stroke="#b4ceee"/>
<path d="M149.1 404.9L155.6 405.0M135.8 402.4L142.4 404.1M93.5 318.9L92.3 325.6M92.3 325.6L91.7 332.4M108.1 383.2L112.8 388.2M393.6 405.0L387.5 404.3M387.5 404.3L381.8 403.0M135.8 269.2L129.5 271.7M181.6 396.7L185.4 394.2M100.5 371.9L104.1 377.7M91.7 332.4L91.7 339.2M441.1 383.2L436.4 388.2M381.8 403.0L376.6 401.2M387.5 267.3L393.6 266.6M167.4 268.6L161.7 267.3M177.3 399.1L181.6 396.7M172.6 401.2L177.3 399.1M436.4 283.4L441.1 288.4M112.8 283.4L108.1 288.4M406.8 267.5L413.4 269.2M91.7 339.2L92.3 346.0M104.1 377.7L108.1 383.2M376.6 401.2L371.9 399.1M451.6 305.9L454.0 312.3M381.8 268.6L387.5 267.3M206.4 303.2L205.3 300.9M142.4 267.5L135.8 269.2M177.3 272.5L172.6 270.4M413.4 402.4L406.8 404.1M167.4 403.0L172.6 401.2M441.1 288.4L445.1 293.9M97.6 365.7L100.5 371.9M436.4 388.2L431.3 392.7M204.1 373.0L205.3 370.7M349.3 292.1L351.0 289.9M351.0 289.9L352.8 287.6M204.1 298.6L202.8 296.4M155.6 266.6L149.1 266.7M161.7 267.3L155.6 266.6M406.8 404.1L400.1 404.9M445.1 293.9L448.7 299.7M419.7 271.7L425.7 275.0M413.4 269.2L419.7 271.7M95.2 359.3L97.6 365.7M211.4 317.4L210.8 315.2M360.4 391.6L357.5 388.9M367.6 396.7L363.8 394.2M211.4 354.2L211.9 352.0M191.7 388.9L194.2 386.4M455.7 318.9L456.9 325.6M205.3 300.9L204.1 298.6M149.1 266.7L142.4 267.5M185.4 277.4L181.6 274.9M191.7 282.7L188.8 280.0M400.1 404.9L393.6 405.0M451.6 365.7L448.7 371.9M211.9 319.6L211.4 317.4M363.8 394.2L360.4 391.6M211.9 352.0L212.3 350.0M212.3 350.0L212.6 348.1M198.2 381.7L199.9 379.5M199.9 379.5L201.4 377.4M202.8 375.2L204.1 373.0M457.5 332.4L457.5 339.2M188.8 280.0L185.4 277.4M456.9 346.0L455.7 352.7M340.7 363.6L339.9 361.2M349.3 379.5L347.8 377.4M208.5 363.6L209.3 361.2M207.5 366.1L208.5 363.6M201.4 377.4L202.8 375.2M343.9 300.9L345.1 298.6M338.4 315.2L339.1 312.8M345.1 298.6L346.4 296.4M339.1 358.8L338.4 356.4M339.9 361.2L339.1 358.8M338.4 356.4L337.8 354.2M337.3 319.6L337.8 317.4M337.8 317.4L338.4 315.2M336.9 321.6L337.3 319.6M456.9 325.6L457.5 332.4M357.5 282.7L360.4 280.0M337.8 354.2L337.3 352.0M194.2 285.2L191.7 282.7M210.1 312.8L209.3 310.4M264.5 328.5L268.5 328.5M242.0 328.5L245.0 328.5M245.0 328.5L248.5 328.5M248.5 328.5L252.4 328.5M239.3 328.5L242.0 328.5M268.5 342.6L272.6 342.6M264.5 342.6L268.5 342.6M239.3 342.6L242.0 342.6M272.6 328.5L276.6 328.5M276.6 328.5L280.7 328.5M300.7 342.6L304.2 342.6M260.5 342.6L264.5 342.6M245.0 342.6L248.5 342.6M284.7 328.5L288.7 328.5M280.7 328.5L284.7 328.5M272.6 342.6L276.6 342.6M276.6 342.6L280.7 342.6M284.7 342.6L288.7 342.6M288.7 342.6L292.8 342.6M307.2 342.6L309.9 342.6M304.2 342.6L307.2 342.6M292.8 342.6L296.8 342.6" stroke="#b4ceee"/>
<path d="M92.3 346.0L93.5 352.7M393.6 266.6L400.1 266.7M129.5 271.7L123.5 275.0M104.1 293.9L100.5 299.7M425.7 275.0L431.3 278.9M117.9 278.9L112.8 283.4M117.9 392.7L123.5 396.6M123.5 396.6L129.5 399.9M112.8 388.2L117.9 392.7M360.4 280.0L363.8 277.4M208.5 308.0L207.5 305.5M161.7 404.3L167.4 403.0M155.6 405.0L161.7 404.3M431.3 278.9L436.4 283.4M123.5 275.0L117.9 278.9M400.1 266.7L406.8 267.5M93.5 352.7L95.2 359.3M129.5 399.9L135.8 402.4M376.6 270.4L381.8 268.6M207.5 305.5L206.4 303.2M97.6 305.9L95.2 312.3M100.5 299.7L97.6 305.9M457.5 339.2L456.9 346.0M431.3 392.7L425.7 396.6M205.3 370.7L206.4 368.4M196.4 384.0L195.4 381.2M196.4 384.0L193.3 384.5M181.6 274.9L177.3 272.5M419.7 399.9L413.4 402.4M357.5 388.9L355.0 386.4M371.9 399.1L367.6 396.7M209.3 361.2L210.1 358.8M196.4 384.0L193.0 382.5M185.4 394.2L188.8 391.6M95.2 312.3L93.5 318.9M425.7 396.6L419.7 399.9M448.7 299.7L451.6 305.9M351.0 381.7L349.3 379.5M188.8 391.6L191.7 388.9M340.7 308.0L341.7 305.5M346.4 296.4L347.8 294.2M337.3 352.0L336.9 350.0M352.8 384.0L351.0 381.7M347.8 294.2L349.3 292.1M342.8 368.4L341.7 366.1M341.7 366.1L340.7 363.6M336.9 350.0L336.6 348.1M355.0 386.4L352.8 384.0M206.4 368.4L207.5 366.1M209.3 310.4L208.5 308.0M199.9 292.1L198.2 289.9M202.8 296.4L201.4 294.2M201.4 294.2L199.9 292.1M196.4 287.6L194.2 285.2M198.2 289.9L196.4 287.6M268.5 328.5L272.6 328.5M252.4 328.5L256.4 328.5M260.5 328.5L264.5 328.5M256.4 328.5L260.5 328.5M248.5 342.6L252.4 342.6M300.7 328.5L298.8 332.2M288.7 328.5L292.8 328.5M242.0 342.6L245.0 342.6M296.8 342.6L300.7 342.6M292.8 328.5L296.8 328.5M256.4 342.6L256.0 339.0M280.7 342.6L284.7 342.6" stroke="#b4ceee"/>
<path d="M92.3 325.6L98.6 329.4M91.7 332.4L98.6 329.4M436.4 283.4L433.0 289.0M413.4 269.2L405.2 272.9M455.7 318.9L448.3 316.4M454.0 312.3L448.3 316.4M210.1 312.8L208.7 315.0M445.1 293.9L437.1 293.8M371.9 272.5L376.6 270.4M351.0 289.9L353.9 290.2M161.7 267.3L156.4 271.5M406.8 404.1L402.8 399.2M97.6 365.7L102.6 361.0M210.8 356.4L208.3 357.7M210.8 356.4L208.0 355.9M363.8 277.4L367.6 274.9M367.6 274.9L371.9 272.5M342.8 303.2L343.9 300.9M352.8 287.6L355.0 285.2M185.4 277.4L180.8 278.3M454.0 359.3L448.3 355.8M341.7 305.5L342.8 303.2M185.4 277.4L184.6 280.5M343.9 370.7L345.2 368.9M191.7 282.7L190.8 285.0M355.0 285.2L357.5 282.7M245.0 328.5L247.4 331.8M248.5 328.5L247.4 331.8M268.5 342.6L270.3 338.9M272.6 342.6L270.3 338.9M300.7 328.5L302.6 331.8M276.6 328.5L275.0 332.2M307.2 328.5L309.0 331.1M307.2 328.5L306.1 331.3" stroke="#b4ceee"/>
<path d="M149.1 404.9L152.9 399.9M92.3 325.6L99.4 323.2M93.5 318.9L99.4 323.2M135.8 269.2L132.9 276.6M104.1 293.9L109.7 299.7M181.6 396.7L180.9 393.2M181.6 396.7L176.9 395.1M425.7 275.0L423.8 280.7M117.9 278.9L120.7 284.5M91.7 332.4L98.2 335.5M91.7 339.2L98.2 335.5M123.5 396.6L125.8 390.4M135.8 269.2L140.1 273.8M167.4 268.6L163.7 272.4M161.7 267.3L163.7 272.4M104.1 293.9L111.6 294.0M108.1 288.4L111.6 294.0M177.3 399.1L176.9 395.1M441.1 288.4L433.0 289.0M108.1 288.4L116.4 289.6M400.1 266.7L405.2 272.9M406.8 267.5L405.2 272.9M91.7 339.2L99.0 342.0M436.4 388.2L429.0 387.3M454.0 312.3L446.4 310.4M142.4 267.5L140.1 273.8M167.4 268.6L170.4 274.0M172.6 270.4L170.4 274.0M97.6 305.9L102.7 310.8M95.2 312.3L102.7 310.8M406.8 404.1L410.1 397.5M441.1 288.4L437.1 293.8M425.7 275.0L418.2 277.8M445.1 377.7L440.6 372.7M448.7 371.9L440.6 372.7M211.9 319.6L210.3 321.1M211.9 319.6L209.2 319.8M204.1 373.0L202.7 370.6M205.3 370.7L204.1 368.9M198.2 381.7L195.4 381.2M194.2 386.4L193.3 384.5M455.7 318.9L449.6 322.6M205.3 300.9L202.4 301.8M351.0 289.9L352.0 291.7M352.8 287.6L353.9 290.2M149.1 266.7L156.4 271.5M155.6 266.6L156.4 271.5M400.1 404.9L402.8 399.2M413.4 269.2L412.2 275.1M95.2 359.3L102.6 361.0M445.1 377.7L437.3 377.8M441.1 383.2L437.3 377.8M357.5 388.9L361.1 388.8M360.4 391.6L361.1 388.8M367.6 396.7L372.1 395.0M209.3 361.2L206.4 360.5M198.2 381.7L197.3 379.5M149.1 266.7L147.8 272.0M142.4 267.5L147.8 272.0M181.6 274.9L180.8 278.3M455.7 352.7L448.3 355.8M454.0 359.3L446.2 361.7M349.3 379.5L352.1 380.0M212.3 350.0L210.1 351.3M212.3 350.0L210.6 348.2M209.3 361.2L207.0 362.3M199.9 379.5L197.3 379.5M191.7 388.9L188.5 388.3M188.8 391.6L188.5 388.3M457.5 339.2L450.3 334.4M457.5 332.4L450.3 334.4M340.7 308.0L341.9 309.8M340.7 363.6L341.8 361.9M347.8 377.4L350.5 377.6M207.5 366.1L204.5 365.4M339.1 358.8L341.5 359.7M339.9 361.2L341.5 359.7M337.8 317.4L340.0 316.3M207.5 366.1L205.2 367.1M456.9 325.6L450.4 328.7M457.5 332.4L450.4 328.7M355.0 285.2L358.9 284.9M357.5 282.7L358.9 284.9M345.1 373.0L348.3 374.0M345.1 373.0L346.2 370.7M345.1 373.0L347.6 372.3M194.2 285.2L190.8 285.0M201.4 294.2L200.8 296.1M201.4 294.2L198.8 295.2M210.1 312.8L207.8 311.7M264.5 328.5L260.9 332.1M245.0 328.5L244.0 331.1M248.5 328.5L251.4 332.3M239.3 328.5L240.8 330.9M260.5 328.5L260.9 332.1M272.6 328.5L275.0 332.2M304.2 328.5L302.6 331.8M296.8 328.5L298.8 332.2M312.3 328.5L311.8 330.7M288.7 328.5L284.5 332.2M300.7 342.6L302.5 339.3M304.2 342.6L302.5 339.3M296.8 342.6L298.7 338.8M300.7 342.6L298.7 338.8M239.3 328.5L238.3 330.7M252.4 342.6L256.0 339.0M318.3 328.5L316.6 330.3M314.5 328.5L316.6 330.3M284.7 328.5L284.5 332.2M321.6 342.6L320.1 341.0M318.3 342.6L320.1 341.0M276.6 342.6L279.7 339.0M280.7 342.6L279.7 339.0M314.5 342.6L313.9 340.6M312.3 342.6L313.9 340.6M304.2 342.6L306.0 339.7M234.7 342.6L232.8 340.9" stroke="#b4ceee"/>
<path d="M155.6 405.0L152.9 399.9M108.1 383.2L115.9 382.3M112.8 388.2L115.9 382.3M393.6 266.6L397.7 271.8M400.1 266.7L397.7 271.8M129.5 271.7L132.9 276.6M100.5 299.7L109.7 299.7M185.4 394.2L180.9 393.2M431.3 278.9L423.8 280.7M112.8 283.4L120.7 284.5M100.5 371.9L108.2 372.3M104.1 377.7L108.2 372.3M117.9 392.7L125.8 390.4M129.5 399.9L130.8 394.2M123.5 396.6L130.8 394.2M441.1 383.2L432.6 382.6M436.4 388.2L432.6 382.6M376.6 401.2L382.3 398.4M381.8 403.0L382.3 398.4M387.5 267.3L390.4 271.9M208.5 308.0L205.7 306.5M167.4 403.0L160.2 399.6M155.6 405.0L160.2 399.6M172.6 401.2L172.3 396.9M117.9 278.9L126.3 280.4M112.8 283.4L116.4 289.6M92.3 346.0L99.0 342.0M135.8 402.4L137.5 397.3M104.1 377.7L111.8 377.5M108.1 383.2L111.8 377.5M451.6 305.9L446.4 310.4M381.8 268.6L383.7 272.9M387.5 267.3L383.7 272.9M177.3 272.5L170.4 274.0M97.6 305.9L105.6 304.9M413.4 402.4L410.1 397.5M172.6 401.2L166.8 398.4M457.5 339.2L449.7 339.8M431.3 392.7L429.0 387.3M376.6 270.4L377.7 274.4M349.3 292.1L352.0 291.7M352.8 287.6L355.5 288.7M177.3 272.5L176.4 276.1M181.6 274.9L176.4 276.1M419.7 399.9L410.1 397.5M419.7 271.7L418.2 277.8M419.7 271.7L412.2 275.1M367.6 396.7L367.9 393.1M363.8 394.2L367.9 393.1M371.9 399.1L372.1 395.0M456.9 325.6L449.6 322.6M367.6 274.9L372.6 276.2M343.9 300.9L345.3 303.3M352.8 287.6L357.0 286.9M205.3 300.9L202.3 300.0M191.7 282.7L187.9 282.7M93.5 318.9L100.6 316.9M393.6 405.0L395.7 400.0M451.6 365.7L446.2 361.7M448.7 371.9L443.6 367.3M451.6 365.7L443.6 367.3M360.4 391.6L364.3 391.0M363.8 394.2L364.3 391.0M351.0 381.7L352.1 380.0M199.9 379.5L198.8 377.6M341.7 305.5L343.0 308.0M347.8 294.2L348.6 296.3M188.8 280.0L184.6 280.5M337.3 352.0L338.9 350.1M349.3 379.5L350.5 377.6M201.4 377.4L200.3 375.6M343.9 300.9L346.7 300.0M341.7 305.5L344.1 306.5M346.4 296.4L347.6 298.2M337.3 319.6L339.7 318.1M337.3 319.6L338.9 321.3M352.8 384.0L355.9 384.0M208.5 308.0L207.1 309.8M347.8 294.2L350.5 294.9M360.4 280.0L361.4 282.7M198.2 289.9L196.7 291.6M337.3 352.0L339.5 353.3M201.4 294.2L198.2 293.3M242.0 328.5L240.8 330.9M242.0 328.5L244.0 331.1M268.5 328.5L270.3 332.2M268.5 328.5L265.7 332.1M264.5 328.5L265.7 332.1M252.4 328.5L251.4 332.3M288.7 328.5L289.4 332.1M245.0 342.6L243.5 339.9M312.3 328.5L314.3 330.5M280.7 328.5L284.5 332.2M280.7 328.5L279.7 332.1M276.6 328.5L279.7 332.1M296.8 328.5L294.1 332.1M232.7 328.5L233.9 330.4M234.7 328.5L233.9 330.4M236.9 328.5L238.3 330.7M256.4 342.6L260.9 339.0M245.0 342.6L247.1 339.3M309.9 328.5L309.0 331.1M309.9 328.5L311.8 330.7M304.2 328.5L306.1 331.3M314.5 328.5L314.3 330.5M288.7 342.6L289.4 339.0M288.7 342.6L284.5 338.9M236.9 328.5L235.9 330.6M234.7 328.5L235.9 330.6M316.5 342.6L318.2 340.9M276.6 342.6L275.0 338.9M280.7 342.6L284.5 338.9M292.8 342.6L289.4 339.0M316.5 342.6L316.1 340.7M314.5 342.6L316.1 340.7M312.3 342.6L311.5 340.4M309.9 342.6L311.5 340.4M307.2 342.6L306.0 339.7M239.3 342.6L237.6 340.5M236.9 342.6L237.6 340.5M236.9 342.6L235.1 340.7" stroke="#b4ceee"/>
<path d="M93.5 352.7L99.5 349.2M92.3 346.0L99.5 349.2M99.4 323.2L98.6 329.4M387.5 404.3L388.5 399.6M393.6 405.0L388.5 399.6M123.5 275.0L132.9 276.6M98.6 329.4L98.2 335.5M93.5 352.7L101.0 354.9M112.8 388.2L120.6 386.7M393.6 266.6L390.4 271.9M100.5 299.7L105.6 304.9M161.7 404.3L160.2 399.6M177.3 399.1L172.3 396.9M436.4 283.4L428.3 284.6M123.5 275.0L126.3 280.4M95.2 359.3L101.0 354.9M129.5 399.9L137.5 397.3M376.6 270.4L383.7 272.9M167.4 403.0L166.8 398.4M433.0 289.0L437.1 293.8M97.6 365.7L105.1 366.9M456.9 346.0L449.7 339.8M431.3 392.7L423.2 390.8M425.7 396.6L423.2 390.8M371.9 272.5L377.7 274.4M163.7 272.4L156.4 271.5M194.2 386.4L191.0 386.4M191.7 388.9L191.0 386.4M188.8 391.6L184.4 391.7M185.4 394.2L184.4 391.7M188.8 391.6L185.7 389.6M363.8 277.4L368.2 278.3M367.6 274.9L368.2 278.3M371.9 272.5L372.6 276.2M355.0 285.2L357.0 286.9M188.8 280.0L187.9 282.7M95.2 312.3L100.6 316.9M419.7 399.9L417.2 394.9M425.7 396.6L417.2 394.9M400.1 404.9L395.7 400.0M451.6 305.9L443.8 304.6M448.7 299.7L443.8 304.6M455.7 352.7L448.7 350.0M352.8 384.0L353.9 381.9M351.0 381.7L353.9 381.9M207.0 362.3L206.5 364.4M347.8 294.2L350.3 293.4M341.7 366.1L344.0 367.1M339.8 355.2L340.3 357.3M355.0 386.4L355.9 384.0M357.5 282.7L361.4 282.7M199.9 292.1L196.7 291.6M198.2 289.9L195.2 289.5M194.2 285.2L193.1 287.5M196.4 287.6L195.2 289.5M196.4 287.6L193.1 287.5M272.6 328.5L270.3 332.2M256.4 328.5L256.1 332.2M252.4 328.5L256.1 332.2M260.5 328.5L256.1 332.2M264.5 342.6L265.7 339.0M268.5 342.6L265.7 339.0M239.3 342.6L240.3 340.3M242.0 342.6L243.5 339.9M248.5 342.6L251.2 338.9M252.4 342.6L251.2 338.9M264.5 342.6L260.9 339.0M298.7 338.8L302.5 339.3M292.8 328.5L294.1 332.1M260.5 342.6L260.9 339.0M248.5 342.6L247.1 339.3M272.6 342.6L275.0 338.9M284.7 342.6L284.5 338.9M309.9 342.6L308.8 340.0M307.2 342.6L308.8 340.0M292.8 342.6L294.1 338.9M296.8 342.6L294.1 338.9M232.7 342.6L230.7 341.1" stroke="#b4ceee"/>
<path d="M142.4 404.1L145.3 399.2M149.1 404.9L145.3 399.2M381.8 403.0L388.5 399.6M180.9 393.2L176.9 395.1M431.3 278.9L428.3 284.6M125.8 390.4L130.8 394.2M117.9 392.7L120.6 386.7M360.4 280.0L364.4 280.5M397.7 271.8L405.2 272.9M98.2 335.5L99.0 342.0M376.6 401.2L376.8 396.9M371.9 399.1L376.8 396.9M446.4 310.4L448.3 316.4M205.2 304.6L205.7 306.5M204.5 302.6L205.2 304.6M170.4 274.0L163.7 272.4M105.6 304.9L102.7 310.8M418.2 277.8L423.8 280.7M100.5 371.9L105.1 366.9M456.9 346.0L448.9 344.8M448.3 316.4L449.6 322.6M353.9 290.2L355.5 288.7M410.1 397.5L402.8 399.2M445.1 293.9L440.8 299.1M448.7 299.7L440.8 299.1M405.2 272.9L412.2 275.1M440.6 372.7L437.3 377.8M355.0 386.4L358.2 386.5M357.5 388.9L358.2 386.5M197.3 379.5L195.4 381.2M195.4 381.2L193.0 382.5M193.0 382.5L193.3 384.5M201.6 298.1L202.3 300.0M156.4 271.5L147.8 272.0M147.8 272.0L140.1 273.8M102.7 310.8L100.6 316.9M198.8 377.6L197.3 379.5M184.6 280.5L180.8 278.3M456.9 346.0L448.7 350.0M340.5 314.2L340.0 316.3M341.1 312.0L341.9 309.8M340.3 357.3L341.5 359.7M341.7 366.1L345.1 365.6M205.2 367.1L204.1 368.9M450.4 328.7L450.3 334.4M200.8 296.1L201.6 298.1M357.0 286.9L358.9 284.9M340.7 363.6L343.8 362.7M348.3 374.0L348.9 375.9M345.2 368.9L346.2 370.7M346.2 370.7L347.6 372.3M190.8 285.0L193.1 287.5M244.0 331.1L247.4 331.8M251.4 332.3L247.4 331.8M242.0 342.6L240.3 340.3M270.3 332.2L275.0 332.2M302.6 331.8L298.8 332.2M292.8 328.5L289.4 332.1M279.7 332.1L275.0 332.2M294.1 332.1L298.8 332.2M311.8 330.7L309.0 331.1M306.0 339.7L302.5 339.3" stroke="#b4ceee"/>
<path d="M135.8 402.4L145.3 399.2M176.9 395.1L172.3 396.9M363.8 277.4L364.4 280.5M140.1 273.8L132.9 276.6M111.6 294.0L109.7 299.7M109.7 299.7L105.6 304.9M126.3 280.4L120.7 284.5M132.9 276.6L126.3 280.4M120.7 284.5L116.4 289.6M116.4 289.6L111.6 294.0M99.0 342.0L99.5 349.2M130.8 394.2L137.5 397.3M111.8 377.5L115.9 382.3M204.1 368.9L202.7 370.6M352.0 291.7L353.9 290.2M176.4 276.1L170.4 274.0M412.2 275.1L418.2 277.8M101.0 354.9L102.6 361.0M367.9 393.1L372.1 395.0M180.9 393.2L184.4 391.7M204.1 373.0L201.0 372.0M372.6 276.2L377.7 274.4M357.0 286.9L355.5 288.7M180.8 278.3L176.4 276.1M100.6 316.9L99.4 323.2M402.8 399.2L395.7 400.0M448.3 355.8L446.2 361.7M443.6 367.3L440.6 372.7M446.2 361.7L443.6 367.3M361.1 388.8L364.3 391.0M188.5 388.3L185.7 389.6M450.3 334.4L449.7 339.8M343.0 308.0L341.9 309.8M348.9 375.9L350.5 377.6M350.5 377.6L352.1 380.0M200.3 375.6L198.8 377.6M201.7 373.7L200.3 375.6M341.1 312.0L340.5 314.2M348.6 296.3L347.6 298.2M347.6 298.2L346.7 300.0M341.5 359.7L341.8 361.9M344.0 367.1L345.2 368.9M449.6 322.6L450.4 328.7M190.8 285.0L187.9 282.7M358.9 284.9L361.4 282.7M198.2 293.3L198.8 295.2M240.8 330.9L244.0 331.1M260.9 332.1L265.7 332.1M265.7 339.0L270.3 338.9M279.7 332.1L284.5 332.2M251.2 338.9L256.0 339.0M302.6 331.8L306.1 331.3M306.1 331.3L309.0 331.1M270.3 338.9L275.0 338.9M275.0 338.9L279.7 339.0M279.7 339.0L284.5 338.9M294.1 338.9L298.7 338.8" stroke="#b4ceee"/>
<path d="M120.6 386.7L125.8 390.4M390.4 271.9L397.7 271.8M160.2 399.6L152.9 399.9M428.3 284.6L433.0 289.0M108.2 372.3L111.8 377.5M432.6 382.6L429.0 387.3M429.0 387.3L423.2 390.8M377.7 274.4L383.7 272.9M437.1 293.8L440.8 299.1M102.6 361.0L105.1 366.9M437.3 377.8L432.6 382.6M358.2 386.5L361.1 388.8M193.3 384.5L191.0 386.4M185.7 389.6L184.4 391.7M368.2 278.3L372.6 276.2M417.2 394.9L410.1 397.5M364.3 391.0L367.9 393.1M191.0 386.4L188.5 388.3M187.9 282.7L184.6 280.5M448.7 350.0L448.3 355.8M352.1 380.0L353.9 381.9M207.0 362.3L204.6 363.4M352.0 291.7L350.3 293.4M196.7 291.6L195.2 289.5M193.1 287.5L195.2 289.5M196.7 291.6L198.2 293.3M207.8 311.7L207.1 309.8M270.3 332.2L265.7 332.1M251.4 332.3L256.1 332.2M260.9 332.1L256.1 332.2M289.4 332.1L284.5 332.2M294.1 332.1L289.4 332.1M260.9 339.0L256.0 339.0M247.1 339.3L243.5 339.9M289.4 339.0L284.5 338.9M316.6 330.3L315.8 332.2" stroke="#b4ceee"/>
<path d="M423.8 280.7L428.3 284.6M99.5 349.2L101.0 354.9M115.9 382.3L120.6 386.7M383.7 272.9L390.4 271.9M205.2 304.6L202.8 303.8M160.2 399.6L166.8 398.4M172.3 396.9L166.8 398.4M449.7 339.8L448.9 344.8M202.4 301.8L202.8 303.8M437.3 377.8L430.5 377.6M372.1 395.0L376.8 396.9M423.2 390.8L417.2 394.9M443.8 304.6L446.4 310.4M342.3 315.4L340.0 316.3M204.6 363.4L204.5 365.4M341.5 359.7L344.0 360.7M344.0 360.7L341.8 361.9M353.9 381.9L355.9 384.0M355.9 384.0L358.2 386.5M348.3 374.0L350.9 374.9M198.8 295.2L199.0 297.4M201.6 298.1L199.0 297.4M240.3 340.3L243.5 339.9M275.0 332.2L272.7 335.6M314.3 330.5L313.4 332.4M311.8 330.7L313.4 332.4M277.4 335.5L275.0 332.2M232.0 330.2L233.0 332.0M247.1 339.3L251.2 338.9M314.3 330.5L315.8 332.2M308.8 340.0L311.5 340.4M306.0 339.7L308.8 340.0M289.4 339.0L294.1 338.9M240.3 340.3L237.6 340.5M315.4 338.7L313.9 340.6M233.7 339.1L235.1 340.7" stroke="#b4ceee"/>
<path d="M145.3 399.2L152.9 399.9M172.9 392.9L176.9 395.1M127.7 385.1L125.8 390.4M382.3 398.4L388.5 399.6M99.0 342.0L104.1 345.8M136.8 392.2L130.8 394.2M382.3 398.4L376.8 396.9M177.2 391.3L176.9 395.1M117.0 296.8L109.7 299.7M109.7 299.7L117.5 301.7M111.6 294.0L117.0 296.8M116.4 289.6L117.0 296.8M400.7 276.5L405.2 272.9M405.2 272.9L407.0 278.7M105.1 366.9L108.2 372.3M441.5 314.2L448.3 316.4M109.5 310.0L102.7 310.8M433.0 289.0L425.4 289.3M107.4 357.0L102.6 361.0M102.6 361.0L109.2 362.5M448.3 316.4L443.0 319.9M368.2 278.3L364.4 280.5M156.4 271.5L152.8 275.3M105.0 327.0L98.6 329.4M395.7 400.0L388.5 399.6M398.2 395.3L402.8 399.2M404.2 394.0L402.8 399.2M440.8 299.1L443.8 304.6M429.7 293.8L437.1 293.8M433.0 289.0L429.7 293.8M361.6 386.2L361.1 388.8M207.9 354.0L208.0 355.9M204.6 361.6L207.0 362.3M203.2 305.8L205.7 306.5M346.1 301.7L347.9 303.3M344.0 304.8L346.7 305.0M170.4 274.0L171.6 277.8M159.6 275.6L156.4 271.5M184.6 280.5L184.0 283.4M437.1 293.8L433.5 298.6M448.9 344.8L448.7 350.0M364.7 388.0L361.1 388.8M353.0 378.3L350.5 377.6M203.4 359.9L206.4 360.5M199.2 373.7L200.3 375.6M197.3 379.5L194.5 379.0M193.0 382.5L190.2 384.0M187.7 385.7L188.5 388.3M340.5 314.2L342.9 313.4M341.9 309.8L343.5 311.5M352.0 291.7L352.9 293.7M180.8 278.3L180.5 281.5M120.7 284.5L123.5 289.2M123.5 289.2L116.4 289.6M102.7 310.8L107.2 315.4M196.2 377.3L197.3 379.5M184.7 387.3L188.5 388.3M190.8 285.0L187.1 285.3M343.0 308.0L344.3 309.8M352.9 293.7L350.5 294.9M358.9 284.9L362.6 285.3M361.4 282.7L364.4 280.5M350.9 374.9L350.5 377.6M353.9 290.2L354.9 292.3M358.9 284.9L360.4 287.2M190.8 285.0L189.8 287.2M268.0 335.6L270.3 338.9M270.3 338.9L272.7 335.6M247.4 331.8L248.7 335.7M260.9 339.0L265.7 339.0M298.8 332.2L301.2 335.5M301.2 335.5L302.5 339.3M301.2 335.5L298.7 338.8M298.8 332.2L296.5 335.5M296.5 335.5L298.7 338.8M253.6 335.6L256.0 339.0M247.4 331.8L245.2 334.2M258.4 335.6L256.0 339.0M304.7 337.0L302.5 339.3M277.4 335.5L279.7 339.0M282.2 335.5L279.7 339.0M235.9 338.8L237.6 340.5M235.9 338.8L235.1 340.7M315.4 338.7L316.1 340.7M313.1 338.6L313.9 340.6" stroke="#b4ceee"/>
<path d="M104.8 332.6L98.2 335.5M98.2 335.5L104.2 337.8M98.6 329.4L104.8 332.6M149.9 395.5L152.9 399.9M156.4 395.8L152.9 399.9M133.3 281.9L126.3 280.4M132.9 276.6L133.3 281.9M104.1 345.8L99.5 349.2M136.8 392.2L137.5 397.3M137.5 397.3L145.3 399.2M115.2 372.5L111.8 377.5M111.8 377.5L118.8 377.1M118.8 377.1L115.9 382.3M430.5 377.6L432.6 382.6M177.2 391.3L180.9 393.2M393.9 275.7L397.7 271.8M109.7 299.7L112.9 305.3M112.9 305.3L105.6 304.9M418.2 277.8L413.0 281.4M397.7 271.8L400.7 276.5M115.9 382.3L122.9 381.3M423.4 385.1L429.0 387.3M122.6 293.9L116.4 289.6M105.6 304.9L109.5 310.0M407.0 278.7L412.2 275.1M412.2 275.1L413.0 281.4M433.1 373.0L437.3 377.8M440.6 372.7L433.1 373.0M436.0 368.4L440.6 372.7M376.3 393.0L372.1 395.0M372.0 391.4L372.1 395.0M372.0 391.4L367.9 393.1M205.9 358.8L208.3 357.7M201.5 368.7L202.7 370.6M202.7 366.7L204.1 368.9M192.3 380.4L195.4 381.2M192.3 380.4L193.0 382.5M443.0 319.9L449.6 322.6M377.7 274.4L382.2 277.0M372.6 276.2L372.6 279.6M353.9 290.2L357.0 290.9M355.5 288.7L357.0 290.9M202.3 300.0L199.6 299.3M152.8 275.3L147.8 272.0M147.8 272.0L145.7 276.8M140.1 273.8L145.7 276.8M140.1 273.8L139.5 279.2M139.5 279.2L132.9 276.6M170.4 274.0L165.9 276.4M165.9 276.4L163.7 272.4M99.4 323.2L105.0 327.0M105.8 321.0L99.4 323.2M410.3 392.3L410.1 397.5M392.2 396.1L395.7 400.0M410.1 397.5L404.2 394.0M441.2 358.3L448.3 355.8M441.2 358.3L446.2 361.7M436.0 368.4L443.6 367.3M189.8 381.7L193.0 382.5M199.8 370.2L202.7 370.6M372.6 276.2L377.0 278.3M377.7 274.4L377.0 278.3M345.3 303.3L347.9 303.3M345.3 303.3L346.7 305.0M176.4 276.1L171.6 277.8M163.7 272.4L159.6 275.6M180.8 278.3L176.4 279.6M126.3 280.4L128.2 285.7M128.2 285.7L120.7 284.5M423.2 390.8L416.3 390.1M416.3 390.1L417.2 394.9M438.9 363.4L443.6 367.3M438.9 363.4L446.2 361.7M364.7 388.0L364.3 391.0M204.5 365.4L202.7 366.7M194.5 379.0L195.4 381.2M190.2 384.0L193.3 384.5M346.7 300.0L348.7 301.5M346.7 300.0L349.4 299.8M344.1 306.5L346.7 305.0M355.5 288.7L358.6 289.1M357.0 286.9L358.6 289.1M347.6 298.2L349.4 299.8M155.6 285.5L152.7 288.4M152.7 288.4L150.5 291.7M149.8 285.1L152.7 288.4M184.6 280.5L180.5 281.5M446.4 310.4L439.2 308.9M344.0 367.1L346.8 367.1M346.8 367.1L345.2 368.9M345.8 363.9L343.1 364.5M368.1 389.8L367.9 393.1M353.0 376.3L350.5 377.6M355.1 379.8L352.1 380.0M207.1 309.8L204.5 309.5M196.2 377.3L198.8 377.6M444.0 325.9L449.6 322.6M450.4 328.7L443.9 331.2M444.0 325.9L450.4 328.7M350.5 294.9L353.3 295.5M348.6 296.3L350.2 298.1M442.8 353.0L448.3 355.8M350.5 372.9L348.3 374.0M197.7 375.6L198.8 377.6M344.1 306.5L345.4 308.3M352.0 291.7L354.9 292.3M357.0 286.9L360.4 287.2M344.5 358.9L341.5 359.7M350.5 372.9L347.6 372.3M347.8 368.8L345.2 368.9M347.8 368.8L346.2 370.7M207.1 309.8L205.3 311.2M198.2 293.3L194.3 293.3M196.7 291.6L194.3 293.3M198.8 295.2L196.3 294.5M207.8 311.7L205.3 311.2M383.4 317.3L382.1 319.6M383.4 317.3L385.7 319.4M383.4 317.3L387.3 317.2M380.8 315.1L383.4 317.3M152.1 325.0L153.6 327.4M156.9 327.9L153.6 327.4M153.6 327.4L149.8 326.5M153.6 327.4L151.4 329.0M153.6 327.4L154.1 330.6M207.8 311.7L205.8 313.0M198.8 295.2L196.6 296.5M202.3 300.0L200.0 301.2M385.2 315.3L383.4 317.3M202.4 301.8L200.4 303.1M251.4 332.3L253.6 335.6M240.8 330.9L242.1 333.1M244.0 331.1L242.1 333.1M260.9 332.1L263.2 335.6M268.0 335.6L265.7 332.1M251.4 332.3L248.7 335.7M241.4 337.9L243.5 339.9M284.5 332.2L287.0 335.5M282.2 335.5L284.5 332.2M279.7 332.1L282.2 335.5M277.4 335.5L279.7 332.1M302.6 331.8L301.2 335.5M302.6 331.8L305.0 334.2M294.1 332.1L296.5 335.5M233.9 330.4L234.9 332.7M244.0 331.1L245.2 334.2M305.0 334.2L306.1 331.3M306.1 331.3L308.1 333.8M309.0 331.1L308.1 333.8M289.4 339.0L291.7 335.5M287.0 335.5L289.4 339.0M238.3 330.7L237.1 332.5M235.9 330.6L237.1 332.5M235.9 330.6L234.9 332.7M260.9 332.1L258.4 335.6M240.8 330.9L239.4 333.4M238.3 330.7L239.4 333.4M310.9 333.0L309.0 331.1M311.8 330.7L310.9 333.0M304.7 337.0L306.0 339.7M307.8 336.9L306.0 339.7M238.5 338.3L237.6 340.5M311.5 340.4L313.1 338.6" stroke="#b8ffa0"/>
<path d="M156.4 395.8L160.2 399.6M112.0 367.6L108.2 372.3M115.2 372.5L108.2 372.3M99.0 342.0L107.8 341.5M104.2 337.8L99.0 342.0M147.0 371.9L143.6 370.0M143.6 370.0L142.1 373.3M147.2 368.2L143.6 370.0M143.3 394.4L137.5 397.3M425.4 380.4L432.6 382.6M390.4 271.9L393.9 275.7M181.3 389.7L180.9 393.2M168.1 394.2L166.8 398.4M420.1 284.9L423.8 280.7M418.2 277.8L420.1 284.9M101.0 354.9L107.4 357.0M153.6 367.5L154.5 370.2M133.1 388.2L130.8 394.2M133.1 388.2L125.8 390.4M417.1 385.9L423.2 390.8M423.4 385.1L423.2 390.8M432.6 382.6L423.4 385.1M193.9 335.5L191.0 336.0M193.8 333.4L193.9 335.5M189.9 361.8L189.7 364.2M189.9 361.8L187.1 362.9M446.4 310.4L441.5 314.2M387.7 276.4L390.4 271.9M383.7 272.9L387.7 276.4M127.2 336.2L123.7 339.4M129.7 339.5L123.7 339.4M162.6 395.3L166.8 398.4M160.2 399.6L162.6 395.3M141.5 367.4L143.6 370.0M142.6 355.6L139.0 357.4M138.8 353.9L139.0 357.4M382.3 398.4L381.1 394.4M196.1 334.4L193.9 335.5M193.9 335.5L193.0 337.5M368.2 278.3L372.6 279.6M368.2 278.3L368.4 281.3M383.7 272.9L382.2 277.0M123.2 298.9L117.0 296.8M123.2 298.9L117.5 301.7M121.7 334.9L123.7 339.4M100.6 316.9L105.8 321.0M417.2 394.9L410.3 392.3M392.2 396.1L388.5 399.6M398.2 395.3L395.7 400.0M342.1 356.0L342.4 357.9M190.6 359.6L189.9 361.8M187.1 341.8L185.1 343.6M187.1 341.8L188.3 343.9M187.1 341.8L190.7 342.7M189.7 340.8L187.1 341.8M188.1 339.1L187.1 341.8M193.9 335.5L195.4 337.8M176.4 276.1L176.4 279.6M187.9 282.7L184.0 283.4M123.2 298.9L124.2 303.5M449.7 339.8L442.8 341.7M341.7 354.1L342.1 356.0M187.1 341.8L183.6 341.5M450.3 334.4L443.9 331.2M422.4 323.1L426.8 326.3M426.8 326.3L432.6 325.6M413.8 318.5L418.9 316.9M187.9 282.7L187.1 285.3M342.3 315.4L342.9 313.4M158.0 288.5L152.7 288.4M152.7 288.4L147.3 288.9M107.2 315.4L100.6 316.9M443.8 304.6L439.2 308.9M436.7 303.6L443.8 304.6M418.9 316.9L424.1 314.6M418.9 316.9L423.9 318.9M366.3 350.6L369.2 351.9M369.5 349.6L369.2 351.9M356.6 334.6L356.5 336.7M356.6 334.6L358.9 335.7M368.1 389.8L364.3 391.0M355.9 384.0L359.0 384.1M355.1 379.8L353.9 381.9M185.5 339.9L187.1 341.8M146.3 336.0L148.5 338.3M150.4 335.7L146.3 336.0M184.7 387.3L185.7 389.6M360.3 311.3L363.5 311.0M361.5 309.2L360.3 311.3M360.3 311.3L362.3 313.1M361.4 282.7L362.6 285.3M361.4 282.7L365.3 283.4M152.7 288.4L155.5 291.3M154.5 370.2L154.1 372.9M154.5 370.2L157.8 371.8M369.2 351.9L372.6 350.7M369.2 351.9L371.6 353.4M369.2 351.9L368.6 354.5M369.2 351.9L366.0 353.0M344.0 360.7L343.8 362.7M358.4 309.4L360.3 311.3M357.3 311.5L360.3 311.3M360.3 311.3L359.1 313.4M397.8 294.8L396.4 297.8M396.4 297.8L400.8 297.5M393.5 295.4L396.4 297.8M354.8 333.1L356.6 334.6M357.4 332.5L356.6 334.6M359.2 333.8L356.6 334.6M353.9 381.9L356.9 381.7M356.9 381.7L355.9 384.0M196.6 307.8L194.5 309.3M193.8 307.3L196.6 307.8M404.8 335.5L402.2 337.5M400.9 334.7L404.8 335.5M407.4 333.3L404.8 335.5M195.2 289.5L191.8 289.7M193.1 287.5L191.8 289.7M353.2 363.8L350.5 364.6M355.5 364.9L353.2 363.8M356.1 362.9L353.2 363.8M403.4 332.6L404.8 335.5M193.1 287.5L189.8 287.2M195.2 289.5L193.9 291.3M196.7 291.6L193.9 291.3M379.9 317.5L383.4 317.3M155.7 325.3L153.6 327.4M196.0 305.8L196.6 307.8M265.7 332.1L263.2 335.6M270.3 332.2L268.0 335.6M270.3 332.2L272.7 335.6M268.0 335.6L265.7 339.0M265.7 339.0L263.2 335.6M253.6 335.6L251.2 338.9M248.7 335.7L251.2 338.9M244.8 337.1L243.5 339.9M289.4 332.1L287.0 335.5M289.4 332.1L291.7 335.5M294.1 332.1L291.7 335.5M248.7 335.7L247.1 339.3M244.8 337.1L247.1 339.3M277.4 335.5L275.0 338.9M275.0 338.9L272.7 335.6M282.2 335.5L284.5 338.9M287.0 335.5L284.5 338.9M256.1 332.2L258.4 335.6M310.5 338.0L311.5 340.4M296.5 335.5L294.1 338.9" stroke="#d0ff87"/>
<path d="M172.9 392.9L172.3 396.9M168.1 394.2L172.3 396.9M127.7 385.1L120.6 386.7M107.0 351.1L101.0 354.9M99.5 349.2L107.0 351.1M117.0 296.8L117.5 301.7M117.5 337.9L123.7 339.4M123.7 339.4L121.3 343.3M105.1 366.9L112.0 367.6M109.2 362.5L105.1 366.9M138.8 353.9L142.6 355.6M157.6 368.9L154.5 370.2M150.7 370.0L154.5 370.2M122.9 381.3L120.6 386.7M191.4 334.1L193.9 335.5M187.1 362.9L189.7 364.2M187.7 360.3L189.9 361.8M188.3 343.9L185.1 343.6M167.1 351.3L165.7 353.6M165.7 353.6L162.6 354.5M127.2 336.2L129.7 339.5M428.3 284.6L425.4 289.3M141.5 367.4L147.2 368.2M139.0 357.4L139.2 360.9M139.0 357.4L135.0 359.3M139.0 357.4L143.1 359.0M134.6 355.6L139.0 357.4M127.3 342.9L123.7 339.4M376.3 393.0L376.8 396.9M381.1 394.4L376.8 396.9M196.6 336.2L193.9 335.5M192.9 361.1L189.9 361.8M189.9 361.8L192.3 363.1M181.3 389.7L184.4 391.7M181.3 389.7L185.7 389.6M165.7 353.6L169.0 353.2M167.1 351.3L169.0 353.2M122.6 293.9L123.2 298.9M127.2 336.2L121.7 334.9M344.6 356.9L342.4 357.9M387.2 342.2L389.9 340.3M387.2 342.2L384.4 343.9M387.2 342.2L387.9 344.7M383.7 341.5L387.2 342.2M361.6 386.2L358.2 386.5M359.0 384.1L358.2 386.5M386.8 395.0L382.3 398.4M189.7 340.8L190.7 342.7M190.7 342.7L188.3 343.9M202.8 303.8L203.2 305.8M423.9 318.9L422.4 323.1M128.7 296.3L123.2 298.9M129.2 301.0L123.2 298.9M124.2 303.5L117.5 301.7M418.7 313.0L418.9 316.9M414.2 315.2L418.9 316.9M433.5 298.6L440.8 299.1M442.8 341.7L448.9 344.8M345.1 365.6L347.9 365.3M345.1 365.6L346.8 367.1M384.2 359.9L385.0 362.3M381.9 362.0L385.0 362.3M385.0 362.3L382.8 364.7M387.2 342.2L390.6 342.8M389.9 340.3L390.6 342.8M390.6 342.8L387.9 344.7M342.3 315.4L342.0 317.3M202.4 362.4L204.6 363.4M202.3 364.4L204.6 363.4M183.6 341.5L185.1 343.6M150.4 335.7L148.5 338.3M190.2 384.0L191.0 386.4M187.7 385.7L191.0 386.4M426.8 326.3L428.0 322.0M342.3 315.4L344.8 314.6M155.6 285.5L149.8 285.1M440.8 299.1L436.7 303.6M410.0 313.3L409.6 316.6M410.0 313.3L413.9 311.8M424.1 314.6L423.9 318.9M396.5 279.4L401.7 281.3M369.5 349.6L366.3 350.6M358.9 335.7L356.5 336.7M353.0 378.3L355.6 377.6M185.5 339.9L183.6 341.5M206.8 322.9L209.1 324.0M426.8 326.3L431.7 330.4M426.8 326.3L424.9 330.1M426.8 326.3L421.0 326.9M162.2 279.3L158.8 282.5M158.8 282.5L155.6 285.5M168.7 283.5L163.9 282.8M165.4 286.0L163.9 282.8M163.9 282.8L158.8 282.5M162.2 279.3L163.9 282.8M163.9 282.8L160.7 285.7M393.5 295.4L397.8 294.8M410.0 313.3L411.7 308.9M157.8 371.8L154.1 372.9M448.7 350.0L442.8 353.0M448.9 344.8L442.0 346.9M366.3 350.6L366.0 353.0M356.1 362.9L355.5 364.9M385.0 362.3L386.0 364.5M388.5 362.8L385.0 362.3M193.8 307.3L194.5 309.3M154.1 330.6L151.4 329.0M146.3 336.0L144.3 338.6M410.0 313.3L405.9 314.5M358.4 309.4L357.3 311.5M358.4 309.4L361.5 309.2M167.5 280.1L163.9 282.8M168.7 283.5L167.5 280.1M167.5 280.1L162.2 279.3M397.8 294.8L400.8 297.5M396.4 297.8L399.0 300.8M396.4 297.8L394.8 300.3M391.9 298.3L396.4 297.8M406.8 302.5L409.7 305.3M406.8 302.5L412.0 302.1M354.8 333.1L357.4 332.5M357.4 332.5L359.2 333.8M359.2 333.8L358.9 335.7M344.5 358.9L344.0 360.7M196.6 307.8L197.3 309.9M199.3 308.4L196.6 307.8M156.9 327.9L154.1 330.6M404.8 335.5L406.2 338.3M404.8 335.5L409.2 336.2M400.9 334.7L402.2 337.5M418.9 316.9L418.3 320.5M403.7 300.0L402.0 303.2M402.0 303.2L406.8 302.5M403.7 300.0L406.8 302.5M400.8 297.5L403.7 300.0M406.8 302.5L404.9 305.6M353.2 363.8L352.7 365.9M351.0 362.5L353.2 363.8M353.8 361.6L353.2 363.8M152.1 325.0L149.8 326.5M149.8 326.5L151.4 329.0M198.7 306.4L196.6 307.8M403.4 332.6L400.9 334.7M403.4 332.6L407.4 333.3M344.0 360.7L346.2 361.9M387.3 317.2L385.7 319.4M382.1 319.6L385.7 319.4M196.0 305.8L193.8 307.3M408.8 299.1L412.0 302.1M408.8 299.1L406.8 302.5M403.7 300.0L408.8 299.1M385.2 315.3L387.3 317.2M380.8 315.1L385.2 315.3M256.1 332.2L253.6 335.6M260.9 339.0L263.2 335.6M241.4 337.9L240.3 340.3M313.4 332.4L312.9 334.6M313.4 332.4L315.0 334.2M233.0 332.0L233.3 334.0M258.4 335.6L260.9 339.0M307.8 336.9L308.8 340.0M310.5 338.0L308.8 340.0M315.8 332.2L315.0 334.2M310.9 333.0L313.4 332.4M291.7 335.5L294.1 338.9M238.5 338.3L240.3 340.3" stroke="#e9ff6e"/>
<path d="M149.9 395.5L145.3 399.2M143.3 394.4L145.3 399.2M142.1 373.3L145.8 375.4M142.1 373.3L140.8 377.0M110.4 346.2L104.1 345.8M147.2 368.2L147.0 371.9M147.2 368.2L150.7 370.0M147.0 371.9L142.1 373.3M150.1 365.9L147.2 368.2M136.8 392.2L143.3 394.4M430.5 377.6L425.4 380.4M191.0 336.0L188.5 334.7M191.0 336.0L188.0 336.8M167.1 351.3L163.6 351.6M165.4 349.1L167.1 351.3M117.5 301.7L112.9 305.3M420.1 284.9L428.3 284.6M393.9 275.7L396.5 279.4M396.5 279.4L400.7 276.5M138.8 370.5L143.6 370.0M138.8 353.9L134.6 355.6M134.6 351.9L138.8 353.9M142.8 352.4L142.6 355.6M146.3 354.0L142.6 355.6M142.8 352.4L138.8 353.9M153.6 367.5L157.6 368.9M153.6 367.5L150.1 365.9M153.6 367.5L150.7 370.0M141.4 389.6L136.8 392.2M426.3 374.2L430.5 377.6M433.1 373.0L430.5 377.6M191.4 334.1L191.0 336.0M169.0 349.1L167.1 351.3M167.1 351.3L170.7 351.3M187.1 362.9L187.3 365.5M189.7 364.2L187.3 365.5M187.1 362.9L184.5 364.8M187.7 360.3L187.1 362.9M184.8 360.7L187.1 362.9M185.1 343.6L186.3 345.7M188.3 343.9L186.3 345.7M185.1 343.6L183.1 345.6M163.6 351.6L165.7 353.6M163.6 351.6L162.6 354.5M165.7 353.6L165.1 356.2M162.6 354.5L165.1 356.2M165.7 353.6L168.4 355.4M368.4 281.3L372.3 282.5M372.6 279.6L372.3 282.5M122.6 293.9L117.0 296.8M140.1 364.3L141.5 367.4M142.6 355.6L143.1 359.0M129.7 339.5L132.9 342.5M129.7 339.5L127.3 342.9M139.0 350.6L138.8 353.9M157.4 366.2L153.6 367.5M198.5 332.8L196.1 334.4M192.3 363.1L189.7 364.2M189.7 364.2L192.5 365.1M191.6 339.4L189.7 340.8M189.7 340.8L192.7 341.2M191.0 336.0L193.0 337.5M184.1 362.8L187.1 362.9M188.3 343.9L189.4 345.9M188.3 343.9L191.7 344.6M185.1 343.6L181.7 343.5M135.1 339.4L129.7 339.5M198.2 371.8L199.2 373.7M201.0 372.0L199.2 373.7M189.7 364.2L190.2 366.5M169.0 353.2L168.4 355.4M170.7 351.3L169.0 353.2M172.1 354.0L169.0 353.2M162.6 354.5L162.0 357.1M423.9 318.9L428.0 322.0M429.9 316.6L423.9 318.9M364.4 280.5L368.4 281.3M359.6 307.3L361.5 309.2M362.6 307.0L361.5 309.2M150.4 279.3L145.7 276.8M152.8 275.3L150.4 279.3M156.4 279.0L150.4 279.3M393.5 392.3L392.2 396.1M398.2 395.3L392.2 396.1M181.1 384.0L181.3 386.7M178.1 385.2L181.1 384.0M181.1 384.0L184.3 384.8M144.9 365.4L141.5 367.4M144.9 365.4L147.2 368.2M154.1 364.7L153.6 367.5M342.1 356.0L344.6 356.9M383.7 341.5L384.4 343.9M381.0 343.1L383.7 341.5M386.5 339.7L389.9 340.3M389.2 337.7L389.9 340.3M392.6 338.2L389.9 340.3M386.5 339.7L387.2 342.2M384.4 343.9L387.9 344.7M386.5 339.7L383.7 341.5M386.8 395.0L388.5 399.6M193.5 359.0L190.6 359.6M190.6 359.6L192.9 361.1M190.6 359.6L187.7 360.3M191.2 357.3L190.6 359.6M192.7 341.2L190.7 342.7M190.7 342.7L191.7 344.6M189.7 340.8L188.1 339.1M193.8 343.0L190.7 342.7M203.2 305.8L203.7 307.6M203.2 305.8L201.2 307.0M150.4 335.7L152.4 338.0M154.2 335.5L150.4 335.7M132.7 336.5L127.2 336.2M132.7 336.5L129.7 339.5M162.6 354.5L159.3 355.6M159.9 353.1L162.6 354.5M450.3 334.4L443.5 336.5M443.5 336.5L449.7 339.8M422.4 323.1L428.0 322.0M396.5 279.4L395.9 283.1M391.1 279.8L396.5 279.4M368.4 281.3L369.1 284.2M372.3 282.5L369.1 284.2M372.3 282.5L373.2 285.0M369.1 284.2L373.2 285.0M369.1 284.2L370.0 286.9M150.4 279.3L145.5 281.7M149.8 285.1L144.4 285.8M145.5 281.7L149.8 285.1M162.2 279.3L156.4 279.0M159.6 275.6L162.2 279.3M165.9 276.4L162.2 279.3M155.6 285.5L158.0 288.5M160.7 285.7L155.6 285.5M120.9 330.3L121.7 334.9M129.2 301.0L124.2 303.5M417.1 385.9L416.3 390.1M416.3 390.1L410.3 392.3M410.6 387.4L416.3 390.1M389.3 296.1L393.5 295.4M391.9 298.3L393.5 295.4M390.7 293.0L393.5 295.4M395.1 292.1L393.5 295.4M380.9 359.5L384.2 359.9M384.2 359.9L381.9 362.0M379.6 363.8L382.8 364.7M381.9 362.0L382.8 364.7M385.2 346.4L387.9 344.7M387.9 344.7L388.6 347.3M393.3 340.9L389.9 340.3M393.3 340.9L390.6 342.8M390.6 342.8L394.1 343.5M368.8 382.0L368.1 384.3M380.2 390.7L384.7 391.5M182.5 339.1L183.6 341.5M183.6 341.5L180.4 341.3M183.6 341.5L181.7 343.5M191.0 336.0L190.3 337.8M195.4 337.8L194.2 339.5M194.5 309.3L192.4 310.9M191.7 308.8L194.5 309.3M152.2 333.2L150.4 335.7M152.4 338.0L148.5 338.3M148.5 338.3L150.6 340.4M130.6 333.6L127.2 336.2M433.1 320.8L432.6 325.6M428.0 322.0L432.6 325.6M432.6 325.6L438.3 323.4M414.2 315.2L413.8 318.5M409.6 316.6L413.8 318.5M343.5 311.5L342.9 313.4M149.8 285.1L147.3 288.9M156.4 279.0L153.2 282.4M150.4 279.3L153.2 282.4M155.6 285.5L153.2 282.4M153.2 282.4L149.8 285.1M147.3 288.9L150.5 291.7M168.7 283.5L165.4 286.0M168.7 283.5L169.7 286.5M129.4 291.4L123.5 289.2M123.5 289.2L122.6 293.9M128.2 285.7L123.5 289.2M124.2 303.5L130.4 305.4M410.0 313.3L414.2 315.2M424.1 314.6L429.9 316.6M418.7 313.0L424.1 314.6M369.5 347.2L369.5 349.6M369.5 349.6L372.7 348.2M366.4 348.4L366.3 350.6M366.4 348.4L369.5 349.6M356.5 336.7L358.0 338.9M356.5 336.7L355.3 338.5M356.5 336.7L353.7 336.7M354.1 335.0L356.5 336.7M363.3 351.6L366.3 350.6M390.6 342.8L391.3 345.4M387.9 344.7L391.3 345.4M383.0 339.1L383.7 341.5M353.0 376.3L353.0 378.3M353.0 378.3L355.1 379.8M188.1 339.1L185.5 339.9M185.3 337.8L185.5 339.9M185.5 339.9L182.5 339.1M188.3 357.9L190.6 359.6M194.5 309.3L195.2 311.4M197.3 309.9L194.5 309.3M146.3 336.0L142.0 336.3M148.3 333.5L146.3 336.0M148.5 338.3L146.7 340.8M126.0 332.1L121.7 334.9M126.0 332.1L127.2 336.2M196.6 373.6L199.2 373.7M183.6 382.2L181.1 384.0M432.6 325.6L431.7 330.4M422.4 323.1L421.0 326.9M363.5 311.0L362.3 313.1M362.3 313.1L365.6 312.8M361.5 309.2L363.5 311.0M352.9 293.7L355.6 294.4M364.4 280.5L365.3 283.4M150.5 291.7L145.2 292.2M158.8 282.5L153.2 282.4M158.8 282.5L156.4 279.0M158.8 282.5L160.7 285.7M155.5 291.3L150.5 291.7M153.6 294.2L150.5 291.7M173.0 284.5L168.7 283.5M124.2 303.5L119.7 306.5M117.5 301.7L119.7 306.5M124.2 303.5L126.2 308.0M428.6 311.6L424.1 314.6M395.1 292.1L397.8 294.8M399.6 291.6L397.8 294.8M411.7 308.9L413.9 311.8M411.7 308.9L417.1 309.1M407.5 308.2L411.7 308.9M407.1 311.2L411.7 308.9M407.1 311.2L410.0 313.3M154.1 372.9L157.7 374.7M154.1 372.9L153.9 376.0M150.2 373.9L154.1 372.9M150.7 370.0L154.1 372.9M157.8 371.8L161.2 373.2M161.0 370.4L157.8 371.8M157.8 371.8L157.7 374.7M157.6 368.9L157.8 371.8M442.0 346.9L448.7 350.0M369.5 349.6L372.6 350.7M368.6 354.5L371.6 353.4M371.6 353.4L374.3 355.0M374.4 352.5L371.6 353.4M372.6 350.7L371.6 353.4M366.0 353.0L368.6 354.5M363.3 351.6L366.0 353.0M366.0 353.0L363.0 354.0M356.5 336.7L360.1 337.4M358.0 330.3L357.4 332.5M355.5 331.1L357.4 332.5M360.0 331.6L357.4 332.5M353.8 361.6L356.1 362.9M356.7 360.7L356.1 362.9M359.1 362.1L356.1 362.9M356.1 362.9L358.6 364.2M358.6 364.2L355.5 364.9M355.5 364.9L358.0 366.1M348.4 363.3L350.5 364.6M347.9 365.3L350.5 364.6M382.8 364.7L386.0 364.5M382.8 364.7L386.2 366.8M382.8 364.7L383.1 367.7M358.9 335.7L362.0 335.5M341.1 328.7L339.5 330.5M348.3 342.5L349.9 344.4M368.1 384.3L368.2 386.9M368.1 384.3L364.9 385.4M350.9 374.9L353.0 376.3M353.3 374.2L350.9 374.9M350.5 372.9L350.9 374.9M193.8 307.3L191.7 308.8M154.1 330.6L152.2 333.2M154.1 330.6L155.8 333.0M154.1 330.6L150.1 331.2M151.4 329.0L150.1 331.2M148.5 338.3L144.3 338.6M199.2 373.7L197.7 375.6M432.6 325.6L437.9 328.5M403.0 312.1L405.9 314.5M402.0 315.1L405.9 314.5M405.9 314.5L405.3 317.7M407.1 311.2L405.9 314.5M405.9 314.5L409.6 316.6M417.2 324.1L422.4 323.1M199.0 297.4L196.9 298.5M199.0 297.4L199.6 299.3M356.5 307.7L358.4 309.4M358.4 309.4L355.4 309.7M355.4 309.7L357.3 311.5M359.6 307.3L358.4 309.4M357.3 311.5L359.1 313.4M359.1 313.4L362.3 313.1M342.9 313.4L345.5 312.6M361.5 309.2L364.7 308.8M352.9 293.7L354.9 292.3M360.4 287.2L361.5 289.6M150.5 291.7L148.8 294.9M172.3 281.3L168.7 283.5M171.6 277.8L167.5 280.1M165.9 276.4L167.5 280.1M172.3 281.3L167.5 280.1M414.7 305.6L411.7 308.9M397.8 294.8L402.5 294.0M400.8 297.5L402.5 294.0M400.8 297.5L399.0 300.8M399.0 300.8L402.0 303.2M398.0 304.4L402.0 303.2M402.0 303.2L400.8 306.6M412.0 302.1L409.7 305.3M412.0 302.1L414.7 305.6M409.7 305.3L411.7 308.9M142.6 355.6L146.1 357.1M371.6 353.4L371.4 356.0M355.5 331.1L354.8 333.1M354.8 333.1L354.1 335.0M354.8 333.1L352.3 333.6M360.0 331.6L359.2 333.8M359.2 333.8L362.0 335.5M383.4 357.5L384.2 359.9M351.0 362.5L350.5 364.6M366.0 353.0L365.6 355.4M365.4 382.8L368.1 384.3M382.8 364.7L380.2 366.4M148.9 323.6L149.8 326.5M149.8 326.5L146.2 325.9M193.8 307.3L191.0 306.6M193.3 305.2L193.8 307.3M157.7 330.5L154.1 330.6M156.9 327.9L157.7 330.5M402.2 337.5L403.2 340.3M399.4 339.5L402.2 337.5M398.5 336.8L402.2 337.5M402.2 337.5L406.2 338.3M400.9 334.7L398.5 336.8M397.4 334.0L400.9 334.7M399.7 331.8L400.9 334.7M418.3 320.5L422.4 323.1M418.3 320.5L423.9 318.9M413.8 318.5L418.3 320.5M409.0 319.7L413.8 318.5M407.4 333.3L409.2 336.2M407.4 333.3L411.8 333.5M409.8 330.9L407.4 333.3M406.0 330.4L407.4 333.3M362.3 313.1L364.5 314.9M362.3 313.1L361.0 315.2M363.1 292.9L366.1 292.3M364.4 290.5L366.1 292.3M366.1 292.3L365.9 294.5M366.3 286.1L369.1 284.2M422.7 310.2L424.1 314.6M399.0 300.8L403.7 300.0M402.0 303.2L404.9 305.6M387.5 360.4L385.0 362.3M384.2 359.9L387.5 360.4M386.7 357.8L384.2 359.9M352.7 365.9L350.5 364.6M355.5 364.9L352.7 365.9M346.6 360.0L344.0 360.7M379.9 317.5L382.1 319.6M378.5 319.8L382.1 319.6M155.7 325.3L156.9 327.9M159.1 325.6L156.9 327.9M148.9 323.6L152.1 325.0M153.7 323.1L152.1 325.0M155.7 325.3L152.1 325.0M149.8 326.5L147.8 328.7M151.4 329.0L147.8 328.7M160.1 328.5L156.9 327.9M399.7 331.8L403.4 332.6M402.1 329.8L403.4 332.6M406.0 330.4L403.4 332.6M368.5 291.0L366.1 292.3M366.1 292.3L369.1 293.4M400.8 297.5L405.6 296.5M405.6 296.5L403.7 300.0M346.2 361.9L343.8 362.7M350.5 364.6L349.8 366.9M380.8 315.1L379.9 317.5M377.3 315.6L380.8 315.1M378.0 313.4L380.8 315.1M380.8 312.3L380.8 315.1M383.3 313.6L380.8 315.1M388.6 314.8L387.3 317.2M387.3 317.2L390.8 316.8M198.7 306.4L196.0 305.8M193.3 305.2L196.0 305.8M199.0 297.4L196.6 296.5M405.6 296.5L408.8 299.1M410.6 295.2L408.8 299.1M382.1 319.6L380.5 321.9M385.2 315.3L388.6 314.8M386.4 312.9L385.2 315.3M383.3 313.6L385.2 315.3M413.8 318.5L413.3 321.7M387.3 317.2L389.5 319.2M385.7 319.4L389.5 319.2M385.7 319.4L388.0 321.5M382.1 319.6L384.3 321.7M385.7 319.4L384.3 321.7M202.8 303.8L200.4 303.1M203.2 305.8L200.8 305.1M202.8 303.8L200.8 305.1M195.5 303.8L196.0 305.8M355.5 364.9L355.3 367.0M317.8 331.8L317.2 333.8M323.1 331.7L323.8 333.6M314.6 336.5L315.4 338.7M235.9 338.8L238.5 338.3M236.6 336.7L235.9 338.8M234.3 337.2L233.7 339.1M234.3 337.2L235.9 338.8" stroke="#fffb59"/>
<path d="M153.5 391.9L156.4 395.8M159.3 392.0L156.4 395.8M153.5 391.9L159.3 392.0M168.1 394.2L172.9 392.9M145.8 375.4L149.7 377.4M145.8 375.4L145.0 379.1M149.7 377.4L145.0 379.1M139.8 381.1L144.5 383.0M139.8 381.1L139.3 385.5M144.5 383.0L139.3 385.5M144.5 383.0L145.5 386.9M145.5 386.9L139.3 385.5M145.0 379.1L144.5 383.0M139.8 381.1L145.0 379.1M143.3 394.4L149.9 395.5M149.9 395.5L156.4 395.8M153.5 391.9L149.9 395.5M147.4 391.2L149.9 395.5M147.4 391.2L143.3 394.4M147.4 391.2L153.5 391.9M140.8 377.0L139.8 381.1M140.8 377.0L145.0 379.1M145.8 375.4L140.8 377.0M139.8 381.1L134.0 383.2M134.0 383.2L139.3 385.5M121.7 372.3L118.8 377.1M115.2 372.5L121.7 372.3M115.2 372.5L118.8 377.1M119.6 358.4L125.4 359.9M124.8 355.6L125.4 359.9M124.8 355.6L119.6 358.4M112.0 367.6L115.2 372.5M107.8 341.5L104.1 345.8M104.1 345.8L107.0 351.1M109.2 362.5L112.0 367.6M115.8 363.3L112.0 367.6M109.2 362.5L115.8 363.3M130.1 357.5L125.4 359.9M124.8 355.6L130.1 357.5M150.7 370.0L147.0 371.9M147.0 371.9L145.8 375.4M150.1 365.9L150.7 370.0M130.2 349.6L125.1 351.3M125.7 346.8L130.2 349.6M125.7 346.8L125.1 351.3M125.1 351.3L119.3 353.4M119.3 353.4L124.8 355.6M125.1 351.3L124.8 355.6M119.3 353.4L119.6 358.4M119.3 353.4L112.9 354.3M129.3 380.0L134.0 383.2M129.3 380.0L127.7 385.1M134.0 383.2L127.7 385.1M188.5 334.7L188.0 336.8M188.5 334.7L185.5 335.5M185.5 335.5L188.0 336.8M164.0 366.5L160.8 367.6M160.8 367.6L164.1 369.1M164.0 366.5L164.1 369.1M177.2 391.3L172.9 392.9M162.1 349.0L158.3 349.0M158.3 349.0L160.4 350.9M162.1 349.0L160.4 350.9M160.3 346.8L162.1 349.0M160.3 346.8L158.3 349.0M165.4 349.1L163.6 351.6M162.1 349.0L163.6 351.6M163.6 351.6L160.4 350.9M165.4 349.1L162.1 349.0M172.1 354.0L168.4 355.4M171.1 356.6L168.4 355.4M172.1 354.0L171.1 356.6M384.0 291.5L387.9 290.5M384.0 291.5L386.7 293.7M386.7 293.7L387.9 290.5M384.0 291.5L382.8 294.4M382.8 294.4L386.7 293.7M139.5 284.0L134.6 286.9M139.5 284.0L133.3 281.9M133.3 281.9L134.6 286.9M160.6 296.1L159.2 298.8M151.0 388.2L147.4 391.2M145.5 386.9L151.0 388.2M145.5 386.9L147.4 391.2M151.0 388.2L153.5 391.9M393.9 275.7L400.7 276.5M400.7 276.5L407.0 278.7M142.1 373.3L136.9 374.3M140.8 377.0L135.3 378.5M139.8 381.1L135.3 378.5M129.3 380.0L135.3 378.5M135.3 378.5L134.0 383.2M121.7 372.3L125.3 376.3M125.3 376.3L118.8 377.1M125.3 376.3L129.3 380.0M125.4 359.9L121.6 363.4M127.4 364.1L121.6 363.4M125.4 359.9L127.4 364.1M119.6 358.4L121.6 363.4M119.6 358.4L115.8 363.3M121.6 363.4L115.8 363.3M116.5 345.6L110.4 346.2M121.3 343.3L116.5 345.6M110.4 346.2L114.2 350.0M116.5 345.6L114.2 350.0M119.3 353.4L114.2 350.0M112.9 354.3L107.4 357.0M113.7 358.8L119.6 358.4M113.7 358.8L115.8 363.3M113.7 358.8L109.2 362.5M112.9 354.3L113.7 358.8M107.4 357.0L113.7 358.8M107.4 357.0L109.2 362.5M134.6 355.6L130.1 357.5M135.0 359.3L130.1 357.5M134.6 355.6L135.0 359.3M130.2 349.6L130.0 353.5M134.6 351.9L130.0 353.5M134.6 351.9L130.2 349.6M125.1 351.3L130.0 353.5M130.0 353.5L134.6 355.6M134.6 351.9L134.6 355.6M130.0 353.5L130.1 357.5M130.0 353.5L124.8 355.6M125.4 359.9L131.0 361.5M131.0 361.5L127.4 364.1M130.1 357.5L131.0 361.5M135.0 359.3L131.0 361.5M135.2 363.5L131.0 361.5M135.0 359.3L135.2 363.5M135.2 363.5L140.1 364.3M146.3 354.0L142.8 352.4M139.2 360.9L140.1 364.3M143.6 362.2L140.1 364.3M139.2 360.9L143.6 362.2M139.2 360.9L135.2 363.5M135.0 359.3L139.2 360.9M143.1 359.0L139.2 360.9M143.1 359.0L143.6 362.2M135.1 348.4L130.2 349.6M135.1 348.4L134.6 351.9M149.7 377.4L149.4 380.8M145.0 379.1L149.4 380.8M144.5 383.0L149.4 380.8M141.4 389.6L147.4 391.2M141.4 389.6L143.3 394.4M145.5 386.9L141.4 389.6M139.3 385.5L141.4 389.6M133.1 388.2L136.8 392.2M118.8 377.1L122.9 381.3M129.3 380.0L122.9 381.3M122.9 381.3L127.7 385.1M125.3 376.3L122.9 381.3M423.4 385.1L417.1 385.9M425.4 380.4L423.4 385.1M433.1 373.0L426.3 374.2M426.3 374.2L425.4 380.4M418.7 381.4L423.4 385.1M425.4 380.4L418.7 381.4M418.7 381.4L417.1 385.9M418.7 381.4L412.1 383.0M417.1 385.9L412.1 383.0M418.7 381.4L414.0 378.7M414.0 378.7L412.1 383.0M186.0 333.3L188.5 334.7M189.1 332.6L188.5 334.7M189.1 332.6L186.0 333.3M186.0 333.3L185.5 335.5M198.4 334.7L196.6 336.2M201.4 335.2L198.4 334.7M201.4 335.2L199.1 336.4M191.4 334.1L188.5 334.7M189.1 332.6L191.4 334.1M191.8 332.0L191.4 334.1M191.8 332.0L189.1 332.6M191.8 332.0L193.8 333.4M204.4 330.6L201.8 331.0M194.8 354.6L196.8 356.3M203.7 355.9L203.6 357.9M205.9 356.9L203.6 357.9M203.7 355.9L201.4 356.9M201.4 356.9L203.6 357.9M200.0 365.1L202.7 366.7M172.5 349.3L169.0 349.1M170.8 347.0L172.5 349.3M170.8 347.0L169.0 349.1M165.4 349.1L169.0 349.1M170.7 351.3L172.1 354.0M174.0 351.6L172.1 354.0M174.0 351.6L170.7 351.3M169.0 349.1L170.7 351.3M172.5 349.3L170.7 351.3M172.5 349.3L174.0 351.6M175.7 353.7L172.1 354.0M174.0 351.6L175.7 353.7M177.5 351.6L175.7 353.7M174.0 351.6L177.5 351.6M175.7 353.7L179.2 353.6M177.5 351.6L179.2 353.6M187.3 365.5L184.5 364.8M184.8 360.7L187.7 360.3M186.3 345.7L183.1 345.6M183.1 345.6L184.5 347.7M186.3 345.7L184.5 347.7M193.1 352.9L192.0 355.1M193.1 352.9L190.0 353.4M190.0 353.4L192.0 355.1M194.8 354.6L192.0 355.1M193.1 352.9L194.8 354.6M184.5 347.7L186.0 349.8M184.5 347.7L182.8 349.8M186.0 349.8L182.8 349.8M164.0 366.5L167.1 367.8M167.1 367.8L164.1 369.1M170.4 359.1L170.0 361.7M170.4 359.1L167.4 360.2M167.4 360.2L170.0 361.7M170.0 361.7L167.1 362.8M167.1 362.8L170.0 364.2M170.0 361.7L170.0 364.2M167.4 360.2L167.1 362.8M158.3 349.0L157.0 351.4M160.4 350.9L157.0 351.4M146.9 348.4L150.7 350.1M150.2 347.5L150.7 350.1M150.2 347.5L146.9 348.4M163.8 346.8L162.1 349.0M163.8 346.8L160.3 346.8M163.8 346.8L165.4 349.1M168.4 355.4L165.1 356.2M368.4 281.3L372.6 279.6M387.7 276.4L393.9 275.7M380.2 292.6L384.0 291.5M380.2 292.6L382.8 294.4M112.9 305.3L109.5 310.0M144.1 306.6L140.5 308.6M144.1 306.6L139.6 305.0M139.6 305.0L140.5 308.6M140.5 308.6L145.0 309.8M140.5 308.6L141.9 311.9M145.0 309.8L141.9 311.9M144.1 306.6L145.0 309.8M178.1 385.2L181.3 386.7M156.4 395.8L162.6 395.3M159.3 392.0L162.6 395.3M168.1 394.2L162.6 395.3M407.0 278.7L413.0 281.4M118.6 367.9L121.7 372.3M118.6 367.9L115.2 372.5M112.0 367.6L118.6 367.9M115.8 363.3L118.6 367.9M121.6 363.4L118.6 367.9M120.4 348.7L119.3 353.4M120.4 348.7L125.1 351.3M120.4 348.7L114.2 350.0M116.5 345.6L120.4 348.7M125.7 346.8L120.4 348.7M121.3 343.3L125.7 346.8M121.3 343.3L120.4 348.7M151.2 362.9L147.6 363.3M147.6 363.3L150.1 365.9M151.2 362.9L150.1 365.9M141.5 367.4L136.5 367.1M132.9 342.5L127.3 342.9M127.3 342.9L125.7 346.8M127.3 342.9L121.3 343.3M135.1 348.4L139.0 350.6M134.6 351.9L139.0 350.6M139.0 350.6L142.8 352.4M143.1 349.4L139.0 350.6M139.7 347.4L139.0 350.6M139.7 347.4L143.1 349.4M139.7 347.4L135.1 348.4M135.1 348.4L131.2 345.9M131.2 345.9L130.2 349.6M125.7 346.8L131.2 345.9M127.3 342.9L131.2 345.9M132.9 342.5L131.2 345.9M157.8 377.8L161.7 379.2M157.8 377.8L158.2 381.1M161.7 379.2L158.2 381.1M157.4 366.2L157.6 368.9M157.4 366.2L160.8 367.6M157.6 368.9L160.8 367.6M436.0 368.4L433.1 373.0M386.0 377.7L389.5 379.5M389.5 376.3L389.5 379.5M389.5 376.3L386.0 377.7M372.0 336.8L375.6 337.2M374.2 334.9L375.6 337.2M374.2 334.9L372.0 336.8M371.8 388.1L375.8 389.5M375.2 386.4L375.8 389.5M415.2 374.5L409.8 375.9M410.4 372.0L415.2 374.5M410.4 372.0L409.8 375.9M409.8 375.9L414.0 378.7M415.2 374.5L414.0 378.7M405.6 373.3L409.8 375.9M410.4 372.0L405.6 373.3M376.3 393.0L372.0 391.4M375.8 389.5L376.3 393.0M375.8 389.5L372.0 391.4M371.8 388.1L372.0 391.4M376.3 393.0L381.1 394.4M186.0 333.3L183.1 334.1M183.1 334.1L185.5 335.5M183.1 334.1L182.6 336.6M185.5 335.5L182.6 336.6M182.5 339.1L179.4 339.3M179.4 339.3L180.4 341.3M182.5 339.1L180.4 341.3M198.5 332.8L198.4 334.7M198.9 357.7L196.8 356.3M196.8 356.3L196.2 358.4M198.9 357.7L196.2 358.4M198.9 357.7L198.4 359.8M196.2 358.4L198.4 359.8M192.9 361.1L192.3 363.1M192.3 363.1L192.5 365.1M198.4 359.8L195.7 360.6M195.7 360.6L197.9 361.9M198.4 359.8L197.9 361.9M196.2 358.4L195.7 360.6M193.5 359.0L195.7 360.6M196.2 358.4L193.5 359.0M193.5 359.0L192.9 361.1M195.7 360.6L192.9 361.1M200.7 361.0L198.4 359.8M200.7 361.0L197.9 361.9M198.6 368.4L201.5 368.7M200.3 367.0L201.5 368.7M202.7 366.7L201.5 368.7M200.7 361.0L200.0 363.1M197.9 361.9L200.0 363.1M200.0 365.1L197.7 366.3M197.7 366.3L200.3 367.0M197.7 366.3L198.6 368.4M191.6 339.4L192.7 341.2M196.6 336.2L197.8 337.9M183.5 354.2L181.3 351.9M181.3 351.9L179.2 353.6M183.5 354.2L179.2 353.6M181.3 351.9L177.5 351.6M172.1 354.0L174.3 356.0M171.1 356.6L174.3 356.0M175.7 353.7L174.3 356.0M176.8 357.8L176.1 360.0M183.5 354.2L180.9 355.4M179.2 353.6L180.9 355.4M184.8 360.7L184.1 362.8M184.1 362.8L184.5 364.8M186.8 353.8L189.0 355.6M190.0 353.4L189.0 355.6M190.0 353.4L186.8 353.8M192.0 355.1L189.0 355.6M189.0 355.6L191.2 357.3M192.0 355.1L191.2 357.3M192.0 355.1L194.1 356.8M191.2 357.3L194.1 356.8M194.1 356.8L193.5 359.0M191.2 357.3L193.5 359.0M196.8 356.3L194.1 356.8M194.8 354.6L194.1 356.8M196.2 358.4L194.1 356.8M189.4 345.9L186.3 345.7M191.7 344.6L189.4 345.9M186.3 345.7L187.5 347.7M187.5 347.7L184.5 347.7M187.5 347.7L186.0 349.8M189.4 345.9L187.5 347.7M190.5 347.7L187.5 347.7M189.4 345.9L190.5 347.7M178.2 343.1L176.2 345.1M179.7 345.4L176.2 345.1M178.2 343.1L179.7 345.4M174.3 347.1L170.8 347.0M176.2 345.1L174.3 347.1M174.3 347.1L172.5 349.3M181.7 343.5L183.1 345.6M181.7 343.5L179.7 345.4M183.1 345.6L179.7 345.4M178.2 343.1L181.7 343.5M180.4 341.3L181.7 343.5M180.4 341.3L178.2 343.1M191.1 351.3L193.1 352.9M191.1 351.3L190.0 353.4M153.4 347.2L150.7 350.1M150.2 347.5L153.4 347.2M158.4 344.6L154.9 344.7M156.4 342.4L158.4 344.6M156.4 342.4L154.9 344.7M160.1 342.3L158.4 344.6M160.1 342.3L156.4 342.4M152.8 342.5L154.9 344.7M156.4 342.4L152.8 342.5M154.4 340.2L152.8 342.5M154.4 340.2L156.4 342.4M154.4 340.2L150.6 340.4M150.6 340.4L152.8 342.5M135.1 339.4L132.9 342.5M137.9 341.9L132.9 342.5M135.1 339.4L137.9 341.9M167.0 365.3L167.1 367.8M167.0 365.3L164.0 366.5M167.1 362.8L167.0 365.3M170.0 364.2L167.0 365.3M170.1 366.6L167.1 367.8M167.1 367.8L170.3 369.1M170.1 366.6L170.3 369.1M170.1 366.6L173.0 365.4M170.0 364.2L173.0 365.4M170.0 364.2L170.1 366.6M167.0 365.3L170.1 366.6M170.0 361.7L172.9 363.1M172.9 363.1L170.0 364.2M172.9 363.1L173.0 365.4M198.2 371.8L201.0 372.0M192.5 365.1L193.1 367.3M195.2 365.5L193.1 367.3M195.2 365.5L192.5 365.1M187.3 365.5L190.2 366.5M192.5 365.1L190.2 366.5M190.2 366.5L193.1 367.3M190.2 366.5L190.7 368.7M193.1 367.3L190.7 368.7M150.7 350.1L146.8 351.1M146.9 348.4L146.8 351.1M146.8 351.1L142.8 352.4M146.8 351.1L146.3 354.0M146.9 348.4L143.1 349.4M143.1 349.4L146.8 351.1M157.0 351.4L156.5 353.9M157.0 351.4L153.6 352.0M153.6 352.0L156.5 353.9M162.0 344.5L163.8 346.8M165.6 344.5L163.8 346.8M162.0 344.5L165.6 344.5M162.0 344.5L160.3 346.8M162.0 344.5L158.4 344.6M158.4 344.6L160.3 346.8M160.1 342.3L162.0 344.5M167.3 346.9L169.0 349.1M167.3 346.9L165.4 349.1M167.3 346.9L163.8 346.8M170.8 347.0L167.3 346.9M165.6 344.5L167.3 346.9M164.7 358.7L167.4 360.2M165.1 356.2L162.0 357.1M162.0 357.1L164.7 358.7M165.1 356.2L164.7 358.7M162.0 357.1L158.7 358.2M441.5 314.2L443.0 319.9M436.8 317.5L441.5 314.2M436.8 317.5L443.0 319.9M429.9 316.6L433.1 320.8M436.8 317.5L433.1 320.8M429.9 316.6L436.8 317.5M433.1 320.8L428.0 322.0M429.9 316.6L428.0 322.0M424.9 330.1L422.0 333.7M422.0 333.7L427.5 333.7M424.9 330.1L427.5 333.7M372.3 282.5L376.6 282.0M382.2 277.0L387.7 276.4M382.2 277.0L380.9 280.3M363.7 323.2L365.3 325.4M363.7 323.2L362.5 325.4M362.5 325.4L365.3 325.4M359.6 307.3L362.6 307.0M384.8 288.3L389.0 287.1M384.8 288.3L387.9 290.5M389.0 287.1L387.9 290.5M384.8 288.3L384.0 291.5M139.5 284.0L141.1 289.1M141.1 289.1L134.6 286.9M141.1 289.1L135.7 290.9M135.7 290.9L134.6 286.9M162.7 288.7L158.0 288.5M160.7 285.7L162.7 288.7M160.7 285.7L158.0 288.5M152.8 275.3L145.7 276.8M145.7 276.8L139.5 279.2M139.5 279.2L133.3 281.9M139.5 279.2L139.5 284.0M152.8 275.3L156.4 279.0M135.7 290.9L129.4 291.4M134.4 294.9L129.4 291.4M135.7 290.9L134.4 294.9M134.6 286.9L129.4 291.4M121.7 334.9L117.5 337.9M121.7 334.9L115.8 333.1M110.8 324.6L105.0 327.0M105.8 321.0L105.0 327.0M105.8 321.0L110.8 324.6M105.8 321.0L112.0 319.5M112.0 319.5L110.8 324.6M116.8 322.9L112.0 319.5M118.2 318.3L116.8 322.9M118.2 318.3L112.0 319.5M116.8 322.9L110.8 324.6M110.8 324.6L115.8 327.8M116.8 322.9L115.8 327.8M121.5 325.8L115.8 327.8M121.5 325.8L116.8 322.9M131.6 326.5L126.5 328.2M131.1 330.2L126.5 328.2M131.6 326.5L131.1 330.2M139.1 301.2L143.5 303.2M139.1 301.2L139.6 305.0M143.5 303.2L139.6 305.0M143.5 303.2L144.1 306.6M139.1 301.2L134.7 303.2M139.6 305.0L134.7 303.2M134.2 299.0L134.7 303.2M134.2 299.0L129.2 301.0M129.2 301.0L134.7 303.2M139.1 301.2L134.2 299.0M151.2 303.4L147.6 304.9M147.4 301.6L151.2 303.4M147.4 301.6L147.6 304.9M147.6 304.9L143.5 303.2M147.4 301.6L143.5 303.2M147.6 304.9L144.1 306.6M151.5 306.4L147.6 304.9M151.5 306.4L151.2 303.4M116.0 310.1L109.5 310.0M112.9 305.3L116.0 310.1M148.3 308.0L145.0 309.8M149.2 310.9L145.0 309.8M148.3 308.0L149.2 310.9M152.3 309.2L149.2 310.9M152.3 309.2L148.3 308.0M151.5 306.4L148.3 308.0M151.5 306.4L152.3 309.2M147.6 304.9L148.3 308.0M148.3 308.0L144.1 306.6M398.2 395.3L393.5 392.3M410.3 392.3L404.2 394.0M398.2 395.3L404.2 394.0M184.3 384.8L181.3 386.7M154.0 382.3L159.0 384.7M158.2 381.1L159.0 384.7M158.2 381.1L154.0 382.3M154.0 382.3L154.5 385.5M159.0 384.7L154.5 385.5M144.5 383.0L149.6 384.4M145.5 386.9L149.6 384.4M149.4 380.8L149.6 384.4M149.6 384.4L151.0 388.2M149.6 384.4L154.5 385.5M151.0 388.2L154.5 385.5M154.0 382.3L149.6 384.4M149.4 380.8L154.0 382.3M425.4 289.3L429.7 293.8M393.8 286.3L390.1 283.5M390.1 283.5L389.0 287.1M393.8 286.3L389.0 287.1M393.8 286.3L395.9 283.1M390.1 283.5L395.9 283.1M406.9 283.8L413.0 281.4M407.0 278.7L406.9 283.8M406.9 283.8L408.1 288.0M406.9 283.8L403.0 289.0M403.0 289.0L408.1 288.0M413.0 281.4L413.6 286.3M406.9 283.8L413.6 286.3M413.6 286.3L408.1 288.0M387.9 290.5L390.7 293.0M386.7 293.7L390.7 293.0M389.3 296.1L390.7 293.0M386.7 293.7L389.3 296.1M124.7 367.9L121.7 372.3M124.7 367.9L118.6 367.9M127.4 364.1L124.7 367.9M121.6 363.4L124.7 367.9M144.9 365.4L150.1 365.9M147.6 363.3L144.9 365.4M143.6 362.2L147.6 363.3M143.6 362.2L144.9 365.4M140.1 364.3L144.9 365.4M136.3 345.1L139.7 347.4M136.3 345.1L135.1 348.4M132.9 342.5L136.3 345.1M137.9 341.9L136.3 345.1M136.3 345.1L131.2 345.9M167.6 373.0L170.9 374.1M170.6 371.6L170.9 374.1M170.6 371.6L167.6 373.0M164.3 371.8L167.6 373.0M164.3 371.8L164.5 374.6M167.6 373.0L164.5 374.6M161.0 370.4L164.3 371.8M164.1 369.1L164.3 371.8M164.1 369.1L161.0 370.4M160.8 367.6L161.0 370.4M157.6 368.9L161.0 370.4M173.6 389.2L177.2 391.3M173.6 389.2L172.9 392.9M171.8 383.8L170.3 386.8M167.5 384.0L171.8 383.8M167.5 384.0L170.3 386.8M161.3 376.2L161.7 379.2M161.3 376.2L157.8 377.8M154.1 364.7L157.4 366.2M154.1 364.7L150.1 365.9M151.2 362.9L154.1 364.7M428.2 369.3L426.3 374.2M428.2 369.3L433.1 373.0M436.0 368.4L428.2 369.3M206.6 329.3L204.4 330.6M401.2 345.0L398.3 346.8M400.3 342.3L401.2 345.0M403.9 343.1L401.2 345.0M400.3 342.3L403.9 343.1M395.5 348.5L396.4 350.9M395.5 348.5L392.9 350.5M392.9 350.5L396.4 350.9M398.3 346.8L395.5 348.5M343.8 354.8L344.6 356.9M397.2 373.2L393.3 374.8M393.3 374.8L397.1 376.3M397.2 373.2L397.1 376.3M400.8 368.4L397.1 370.2M396.6 367.3L400.8 368.4M396.6 367.3L397.1 370.2M401.4 371.5L397.1 370.2M400.8 368.4L401.4 371.5M397.1 370.2L397.2 373.2M401.4 371.5L397.2 373.2M382.8 376.0L382.5 378.9M382.8 376.0L379.4 376.9M379.4 376.9L382.5 378.9M386.0 377.7L382.5 378.9M382.8 376.0L386.0 377.7M393.2 369.0L397.1 370.2M396.6 367.3L393.2 369.0M377.2 351.3L377.2 353.7M377.2 351.3L374.4 352.5M374.4 352.5L377.2 353.7M377.6 342.2L378.3 344.8M381.0 343.1L378.3 344.8M377.6 342.2L381.0 343.1M377.6 342.2L375.0 344.0M375.0 344.0L378.3 344.8M370.7 334.5L372.0 336.8M370.7 334.5L374.2 334.9M375.6 337.2L373.2 339.1M372.0 336.8L373.2 339.1M373.2 339.1L376.7 339.7M375.6 337.2L376.7 339.7M381.0 343.1L384.4 343.9M389.2 337.7L386.5 339.7M389.2 337.7L392.6 338.2M360.0 326.6L358.7 328.4M356.7 327.0L360.0 326.6M356.7 327.0L358.7 328.4M374.1 323.9L371.9 325.9M370.5 323.7L374.1 323.9M370.5 323.7L371.9 325.9M373.8 316.0L377.3 315.6M368.5 325.7L371.9 325.9M370.5 323.7L368.5 325.7M368.5 325.7L366.4 327.6M365.3 325.4L368.5 325.7M365.3 325.4L366.4 327.6M385.8 384.2L382.1 385.0M382.0 381.9L385.8 384.2M382.0 381.9L382.1 385.0M382.1 385.0L384.7 387.8M385.8 384.2L384.7 387.8M359.0 384.1L361.6 386.2M369.3 379.5L368.8 382.0M371.9 381.5L368.8 382.0M369.3 379.5L371.9 381.5M369.3 379.5L372.5 378.7M372.5 378.7L371.9 381.5M372.5 378.7L375.2 380.4M375.2 380.4L371.9 381.5M378.9 379.5L375.2 380.4M375.2 380.4L378.1 382.0M378.9 379.5L378.1 382.0M382.5 378.9L378.9 379.5M379.4 376.9L378.9 379.5M382.0 381.9L378.1 382.0M378.9 379.5L382.0 381.9M382.5 378.9L382.0 381.9M414.0 378.7L408.2 380.1M408.2 380.1L412.1 383.0M409.8 375.9L408.2 380.1M393.1 377.9L389.5 379.5M389.5 376.3L393.1 377.9M393.3 374.8L393.1 377.9M397.1 376.3L393.1 377.9M393.3 374.8L389.5 376.3M417.1 385.9L410.6 387.4M412.1 383.0L410.6 387.4M420.5 377.0L418.7 381.4M420.5 377.0L414.0 378.7M415.2 374.5L420.5 377.0M420.5 377.0L425.4 380.4M426.3 374.2L420.5 377.0M405.6 373.3L405.1 377.1M409.8 375.9L405.1 377.1M405.1 377.1L408.2 380.1M389.2 390.1L393.5 392.3M386.8 395.0L392.2 396.1M384.7 387.8L384.7 391.5M389.2 390.1L384.7 391.5M384.7 387.8L389.2 390.1M384.7 391.5L381.1 394.4M183.1 334.1L179.9 335.0M183.1 334.1L180.7 332.7M180.7 332.7L179.9 335.0M179.9 335.0L182.6 336.6M199.3 355.6L196.8 356.3M199.3 355.6L198.9 357.7M201.4 356.9L198.9 357.7M199.3 355.6L201.4 356.9M203.7 352.0L203.7 353.9M195.2 362.9L192.5 365.1M195.2 362.9L195.2 365.5M195.2 362.9L192.3 363.1M195.7 360.6L195.2 362.9M197.9 361.9L195.2 362.9M192.9 361.1L195.2 362.9M203.6 357.9L201.1 358.9M201.4 356.9L201.1 358.9M198.9 357.7L201.1 358.9M201.1 358.9L198.4 359.8M201.1 358.9L200.7 361.0M202.3 364.4L202.7 366.7M200.0 363.1L202.3 364.4M202.4 362.4L202.3 364.4M200.0 363.1L200.0 365.1M191.6 339.4L188.1 339.1M192.7 341.2L193.8 343.0M193.8 343.0L191.7 344.6M184.7 351.9L181.3 351.9M184.7 351.9L183.5 354.2M183.5 354.2L186.8 353.8M184.7 351.9L186.8 353.8M186.0 349.8L184.7 351.9M182.8 349.8L184.7 351.9M182.8 349.8L181.3 351.9M174.3 356.0L173.5 358.3M176.8 357.8L173.5 358.3M174.3 356.0L176.8 357.8M173.5 358.3L176.1 360.0M173.5 358.3L170.4 359.1M171.1 356.6L173.5 358.3M171.1 356.6L170.4 359.1M173.0 360.7L170.0 361.7M170.4 359.1L173.0 360.7M173.5 358.3L173.0 360.7M176.1 360.0L173.0 360.7M173.0 360.7L172.9 363.1M177.7 355.7L180.9 355.4M179.2 353.6L177.7 355.7M175.7 353.7L177.7 355.7M177.7 355.7L174.3 356.0M177.7 355.7L176.8 357.8M179.9 357.6L176.8 357.8M177.7 355.7L179.9 357.6M180.9 355.4L179.9 357.6M183.5 354.2L186.0 356.1M186.8 353.8L186.0 356.1M189.0 355.6L186.0 356.1M187.5 347.7L189.2 349.7M190.5 347.7L189.2 349.7M186.0 349.8L189.2 349.7M178.2 343.1L176.7 340.9M179.4 339.3L176.7 340.9M180.4 341.3L176.7 340.9M174.3 347.1L175.9 349.5M175.9 349.5L172.5 349.3M175.9 349.5L174.0 351.6M175.9 349.5L177.5 351.6M162.4 309.1L163.2 311.6M165.8 309.9L163.2 311.6M165.8 309.9L162.4 309.1M149.2 310.9L153.2 311.8M152.3 309.2L153.2 311.8M156.1 310.1L153.2 311.8M156.1 310.1L152.3 309.2M156.9 312.7L153.2 311.8M156.1 310.1L156.9 312.7M145.0 309.8L146.3 312.9M146.3 312.9L141.9 311.9M149.2 310.9L146.3 312.9M160.5 313.4L157.9 315.1M160.5 313.4L156.9 312.7M156.9 312.7L157.9 315.1M161.5 315.9L157.9 315.1M160.5 313.4L161.5 315.9M156.7 346.9L153.4 347.2M154.9 344.7L156.7 346.9M154.9 344.7L153.4 347.2M158.4 344.6L156.7 346.9M156.7 346.9L158.3 349.0M160.3 346.8L156.7 346.9M154.6 349.4L157.0 351.4M154.6 349.4L153.6 352.0M154.6 349.4L150.7 350.1M150.7 350.1L153.6 352.0M154.6 349.4L153.4 347.2M158.3 349.0L154.6 349.4M156.7 346.9L154.6 349.4M155.8 333.0L158.0 335.4M155.8 333.0L154.2 335.5M158.0 335.4L154.2 335.5M158.0 340.1L160.1 342.3M158.0 340.1L156.4 342.4M158.0 340.1L154.4 340.2M154.2 335.5L152.4 338.0M152.4 338.0L154.4 340.2M152.4 338.0L150.6 340.4M132.7 336.5L135.1 339.4M169.1 330.9L165.6 330.8M165.6 330.8L167.2 333.2M169.1 330.9L167.2 333.2M167.4 328.5L169.1 330.9M167.4 328.5L165.6 330.8M193.3 376.9L189.4 376.9M191.7 375.2L193.3 376.9M191.7 375.2L189.4 376.9M192.3 380.4L189.8 381.7M189.3 379.4L192.3 380.4M189.3 379.4L189.8 381.7M180.7 376.8L180.8 379.3M180.7 376.8L178.1 378.2M178.1 378.2L180.8 379.3M176.8 380.4L180.8 379.3M178.1 378.2L176.8 380.4M180.1 374.4L180.7 376.8M183.3 375.3L180.7 376.8M180.1 374.4L183.3 375.3M170.1 366.6L173.2 367.8M173.2 367.8L170.3 369.1M173.0 365.4L173.2 367.8M189.4 376.9L186.7 378.4M186.7 378.4L189.3 379.4M189.4 376.9L189.3 379.4M188.7 374.6L189.4 376.9M188.7 374.6L191.7 375.2M195.5 371.7L193.7 373.5M193.0 371.5L193.7 373.5M196.8 369.9L195.5 371.7M195.5 371.7L198.2 371.8M196.8 369.9L198.2 371.8M201.5 368.7L199.8 370.2M198.6 368.4L199.8 370.2M196.8 369.9L199.8 370.2M198.6 368.4L196.8 369.9M199.8 370.2L198.2 371.8M199.8 370.2L201.0 372.0M197.7 366.3L195.8 367.9M195.2 365.5L197.7 366.3M195.2 365.5L195.8 367.9M193.1 367.3L195.8 367.9M195.8 367.9L198.6 368.4M195.8 367.9L196.8 369.9M159.3 355.6L162.0 357.1M159.3 355.6L158.7 358.2M157.0 351.4L159.9 353.1M160.4 350.9L159.9 353.1M159.9 353.1L156.5 353.9M159.9 353.1L159.3 355.6M156.5 353.9L159.3 355.6M163.6 351.6L159.9 353.1M163.8 342.3L162.0 344.5M163.8 342.3L165.6 344.5M165.7 340.1L163.8 342.3M160.1 342.3L163.8 342.3M167.8 357.7L170.4 359.1M167.8 357.7L167.4 360.2M167.8 357.7L164.7 358.7M165.1 356.2L167.8 357.7M168.4 355.4L167.8 357.7M171.1 356.6L167.8 357.7M443.0 319.9L438.3 323.4M436.8 317.5L438.3 323.4M433.1 320.8L438.3 323.4M372.6 279.6L377.0 278.3M377.0 278.3L376.6 282.0M376.6 282.0L380.9 280.3M377.0 278.3L380.9 280.3M377.0 278.3L382.2 277.0M391.1 279.8L390.1 283.5M387.7 276.4L391.1 279.8M391.1 279.8L395.9 283.1M391.1 279.8L393.9 275.7M385.3 284.8L390.1 283.5M385.3 284.8L389.0 287.1M385.3 284.8L384.8 288.3M385.3 284.8L381.2 286.6M381.2 286.6L384.8 288.3M346.7 305.0L349.0 306.7M363.7 323.2L367.1 323.4M367.1 323.4L365.3 325.4M367.1 323.4L368.5 325.7M367.1 323.4L370.5 323.7M370.7 301.6L373.0 303.2M370.7 301.6L370.0 304.0M370.0 304.0L373.0 303.2M373.0 303.2L376.0 302.4M373.0 303.2L375.6 304.8M376.0 302.4L375.6 304.8M367.7 302.5L366.9 304.6M366.9 304.6L370.0 304.0M367.7 302.5L370.0 304.0M367.7 302.5L370.7 301.6M389.3 296.1L388.0 299.1M388.0 299.1L391.9 298.3M389.3 296.1L391.9 298.3M366.9 304.6L369.1 306.2M370.0 304.0L369.1 306.2M373.0 303.2L372.4 305.6M372.4 305.6L375.6 304.8M370.0 304.0L372.4 305.6M369.1 306.2L372.4 305.6M369.1 306.2L371.4 307.9M372.4 305.6L371.4 307.9M349.6 304.9L349.0 306.7M349.0 306.7L351.7 306.4M349.6 304.9L351.7 306.4M349.6 304.9L350.7 303.0M347.9 303.3L350.7 303.0M347.9 303.3L349.6 304.9M346.7 305.0L349.6 304.9M348.7 301.5L350.7 303.0M373.2 285.0L376.6 282.0M373.2 285.0L370.0 286.9M144.4 285.8L141.1 289.1M139.5 284.0L144.4 285.8M162.7 293.7L158.2 293.8M158.2 293.8L160.6 296.1M162.7 293.7L160.6 296.1M162.7 288.7L160.4 291.2M162.7 293.7L160.4 291.2M160.4 291.2L158.2 293.8M165.0 291.4L160.4 291.2M165.0 291.4L162.7 288.7M165.0 291.4L162.7 293.7M139.5 279.2L145.5 281.7M145.7 276.8L145.5 281.7M145.5 281.7L139.5 284.0M145.5 281.7L144.4 285.8M171.6 277.8L165.9 276.4M159.6 275.6L152.8 275.3M159.6 275.6L156.4 279.0M165.9 276.4L159.6 275.6M173.6 287.5L173.8 290.5M176.9 288.8L173.8 290.5M176.9 288.8L173.6 287.5M165.4 286.0L162.7 288.7M165.4 286.0L160.7 285.7M176.4 279.6L171.6 277.8M169.7 291.9L167.0 293.9M169.7 291.9L165.0 291.4M165.0 291.4L167.0 293.9M167.0 293.9L162.7 293.7M167.0 289.0L169.7 291.9M167.0 289.0L165.0 291.4M165.4 286.0L167.0 289.0M169.7 286.5L167.0 289.0M169.7 286.5L165.4 286.0M167.0 289.0L162.7 288.7M175.6 311.8L173.1 313.5M175.6 311.8L172.4 311.2M172.4 311.2L173.1 313.5M168.5 308.2L169.1 310.6M168.5 308.2L165.8 309.9M169.1 310.6L165.8 309.9M164.2 302.7L161.2 303.9M164.6 305.1L161.2 303.9M164.6 305.1L164.2 302.7M170.6 304.1L171.1 306.5M173.7 304.7L171.1 306.5M173.7 304.7L170.6 304.1M129.4 291.4L128.7 296.3M134.4 294.9L128.7 296.3M129.4 291.4L122.6 293.9M128.7 296.3L122.6 293.9M128.7 296.3L129.2 301.0M128.7 296.3L134.2 299.0M134.4 294.9L134.2 299.0M128.2 285.7L129.4 291.4M134.6 286.9L128.2 285.7M133.3 281.9L128.2 285.7M122.7 321.2L116.8 322.9M122.7 321.2L118.2 318.3M122.7 321.2L121.5 325.8M124.6 316.7L122.7 321.2M124.6 316.7L118.2 318.3M128.2 320.1L122.7 321.2M124.6 316.7L128.2 320.1M131.9 323.1L128.2 320.1M120.9 330.3L115.8 327.8M121.5 325.8L120.9 330.3M126.5 328.2L120.9 330.3M121.5 325.8L126.5 328.2M140.5 308.6L135.6 307.2M139.6 305.0L135.6 307.2M134.7 303.2L135.6 307.2M154.7 304.9L151.2 303.4M154.7 304.9L151.5 306.4M154.7 302.1L154.7 304.9M154.7 302.1L151.2 303.4M140.5 308.6L137.0 310.9M141.9 311.9L137.0 310.9M135.6 307.2L137.0 310.9M133.6 313.4L130.5 316.5M133.6 313.4L127.8 312.8M127.8 312.8L130.5 316.5M130.5 316.5L124.6 316.7M127.8 312.8L124.6 316.7M130.5 316.5L128.2 320.1M116.0 310.1L113.5 314.6M109.5 310.0L113.5 314.6M113.5 314.6L112.0 319.5M118.2 318.3L113.5 314.6M410.6 387.4L410.3 392.3M399.3 390.8L398.2 395.3M399.3 390.8L393.5 392.3M399.3 390.8L404.2 394.0M161.7 379.2L162.4 382.3M158.2 381.1L162.4 382.3M162.4 382.3L159.0 384.7M413.9 311.8L418.7 313.0M417.1 309.1L418.7 313.0M417.1 309.1L413.9 311.8M418.7 313.0L414.2 315.2M413.9 311.8L414.2 315.2M429.7 293.8L433.5 298.6M392.3 289.6L390.7 293.0M392.3 289.6L387.9 290.5M395.1 292.1L390.7 293.0M392.3 289.6L395.1 292.1M389.0 287.1L392.3 289.6M393.8 286.3L392.3 289.6M392.3 289.6L397.3 288.6M397.3 288.6L395.1 292.1M393.8 286.3L397.3 288.6M400.6 285.4L406.9 283.8M400.6 285.4L403.0 289.0M400.6 285.4L397.3 288.6M397.3 288.6L403.0 289.0M393.8 286.3L400.6 285.4M395.9 283.1L400.6 285.4M413.6 286.3L412.4 291.0M408.1 288.0L412.4 291.0M146.8 351.1L150.0 352.8M150.0 352.8L146.3 354.0M150.7 350.1L150.0 352.8M153.6 352.0L150.0 352.8M152.8 342.5L149.0 342.9M150.6 340.4L149.0 342.9M140.9 344.3L136.3 345.1M137.9 341.9L140.9 344.3M140.9 344.3L139.7 347.4M142.4 341.4L140.9 344.3M142.4 341.4L137.9 341.9M145.0 343.5L140.9 344.3M142.4 341.4L145.0 343.5M167.3 370.4L167.6 373.0M167.3 370.4L164.3 371.8M167.1 367.8L167.3 370.4M170.3 369.1L167.3 370.4M167.3 370.4L170.6 371.6M170.3 369.1L170.6 371.6M164.1 369.1L167.3 370.4M174.8 377.9L176.8 380.4M178.1 378.2L174.8 377.9M167.6 373.0L167.9 375.7M164.5 374.6L167.9 375.7M170.9 374.1L167.9 375.7M147.0 371.9L150.2 373.9M150.7 370.0L150.2 373.9M150.2 373.9L153.9 376.0M150.2 373.9L149.7 377.4M149.7 377.4L153.9 376.0M150.2 373.9L145.8 375.4M153.9 376.0L153.9 379.2M157.8 377.8L153.9 379.2M153.9 376.0L157.8 377.8M153.9 379.2L158.2 381.1M153.9 379.2L154.0 382.3M149.7 377.4L153.9 379.2M153.9 379.2L149.4 380.8M169.3 390.4L168.1 394.2M169.3 390.4L172.9 392.9M169.3 390.4L173.6 389.2M170.3 386.8L173.6 389.2M170.3 386.8L169.3 390.4M174.5 386.0L173.6 389.2M174.5 386.0L170.3 386.8M171.8 383.8L174.5 386.0M174.5 386.0L178.1 385.2M159.0 384.7L156.6 388.6M154.5 385.5L156.6 388.6M156.6 388.6L161.4 388.2M159.0 384.7L161.4 388.2M156.6 388.6L159.3 392.0M156.6 388.6L153.5 391.9M151.0 388.2L156.6 388.6M176.0 383.1L174.5 386.0M176.0 383.1L178.1 385.2M171.8 383.8L176.0 383.1M169.4 381.4L171.8 383.8M169.4 381.4L167.5 384.0M161.3 376.2L164.9 377.5M164.9 377.5L161.7 379.2M164.5 374.6L164.9 377.5M164.5 374.6L161.3 376.2M167.9 375.7L164.9 377.5M164.9 377.5L168.3 378.5M167.9 375.7L168.3 378.5M161.0 370.4L161.2 373.2M164.3 371.8L161.2 373.2M161.2 373.2L164.5 374.6M161.2 373.2L161.3 376.2M441.2 358.3L436.3 355.3M436.3 355.3L434.4 360.0M441.2 358.3L434.4 360.0M431.8 364.7L428.2 369.3M431.8 364.7L436.0 368.4M415.8 370.4L415.2 374.5M415.8 370.4L410.4 372.0M438.9 363.4L436.0 368.4M438.9 363.4L431.8 364.7M438.9 363.4L434.4 360.0M434.4 360.0L431.8 364.7M441.2 358.3L438.9 363.4M414.9 354.8L412.7 358.1M410.0 355.0L414.9 354.8M410.0 355.0L412.7 358.1M405.6 369.7L405.6 373.3M405.6 369.7L401.4 371.5M401.4 371.5L405.6 373.3M405.6 369.7L400.8 368.4M405.6 369.7L410.4 372.0M403.6 366.1L405.6 369.7M403.6 366.1L400.8 368.4M407.6 366.6L405.6 369.7M407.6 366.6L403.6 366.1M406.8 363.5L407.6 366.6M406.8 363.5L403.6 366.1M410.1 361.0L406.8 363.5M405.3 360.5L410.1 361.0M405.3 360.5L406.8 363.5M411.6 364.4L407.6 366.6M406.8 363.5L411.6 364.4M410.1 361.0L411.6 364.4M416.7 333.6L419.2 336.7M422.0 333.7L419.2 336.7M422.0 333.7L416.7 333.6M366.4 346.3L369.1 344.9M360.6 348.0L363.4 349.1M360.6 348.0L360.5 350.3M363.4 349.1L360.5 350.3M371.6 343.2L372.3 345.7M371.6 343.2L369.1 344.9M369.1 344.9L372.3 345.7M375.0 344.0L372.3 345.7M371.6 343.2L375.0 344.0M370.7 340.9L371.6 343.2M369.7 338.6L370.7 340.9M369.7 338.6L373.2 339.1M372.0 336.8L369.7 338.6M370.7 340.9L373.2 339.1M363.1 337.7L361.0 339.5M352.3 333.6L354.1 335.0M359.0 341.1L359.8 343.3M361.0 339.5L359.0 341.1M392.0 363.7L395.7 364.5M394.7 361.8L395.7 364.5M394.7 361.8L392.0 363.7M395.7 364.5L399.5 365.3M395.7 364.5L396.6 367.3M399.5 365.3L396.6 367.3M399.5 365.3L400.8 368.4M399.5 365.3L403.6 366.1M396.4 350.9L394.8 352.9M392.9 350.5L394.8 352.9M394.8 352.9L391.0 352.7M392.9 350.5L391.0 352.7M397.5 344.2L401.2 345.0M397.5 344.2L398.3 346.8M400.3 342.3L397.5 344.2M397.5 344.2L394.1 343.5M396.7 341.5L397.5 344.2M396.7 341.5L394.1 343.5M400.3 342.3L396.7 341.5M394.7 346.0L395.5 348.5M394.7 346.0L398.3 346.8M397.5 344.2L394.7 346.0M394.1 343.5L394.7 346.0M394.8 352.9L397.3 354.8M397.3 354.8L395.6 357.1M399.3 357.4L395.6 357.1M397.3 354.8L399.3 357.4M347.9 365.3L346.8 367.1M345.8 363.9L347.9 365.3M360.2 355.1L359.9 357.5M360.2 355.1L357.5 356.2M357.5 356.2L359.9 357.5M361.0 366.1L358.1 367.9M360.8 368.5L358.1 367.9M361.0 366.1L360.8 368.5M352.0 358.3L349.2 359.1M349.2 359.1L351.5 360.4M352.0 358.3L351.5 360.4M352.7 353.9L350.3 355.1M350.4 353.0L352.7 353.9M350.4 353.0L350.3 355.1M352.7 353.9L355.1 355.0M355.2 352.7L355.1 355.0M355.2 352.7L352.7 353.9M352.7 351.7L355.2 350.5M352.7 351.7L355.2 352.7M355.2 350.5L355.2 352.7M350.2 351.0L352.7 351.7M350.2 351.0L350.4 353.0M352.7 351.7L350.4 353.0M352.7 351.7L352.7 353.9M389.5 379.5L385.8 380.9M386.0 377.7L385.8 380.9M382.5 378.9L385.8 380.9M385.8 380.9L382.0 381.9M385.8 380.9L385.8 384.2M367.0 364.2L369.7 365.6M380.9 359.5L381.9 362.0M393.2 369.0L393.4 371.8M397.2 373.2L393.4 371.8M393.4 371.8L393.3 374.8M397.1 370.2L393.4 371.8M381.9 362.0L379.6 363.8M360.4 352.7L360.2 355.1M363.0 354.0L360.2 355.1M360.4 352.7L363.0 354.0M379.7 349.8L377.2 351.3M376.0 349.1L379.7 349.8M376.0 349.1L377.2 351.3M378.3 344.8L381.7 345.6M381.0 343.1L381.7 345.6M384.4 343.9L381.7 345.6M392.0 348.0L395.5 348.5M392.0 348.0L392.9 350.5M394.7 346.0L392.0 348.0M381.7 345.6L385.2 346.4M381.7 345.6L382.4 348.1M385.2 346.4L382.4 348.1M384.4 343.9L385.2 346.4M385.2 346.4L388.6 347.3M392.6 338.2L393.3 340.9M393.3 340.9L394.1 343.5M393.3 340.9L396.7 341.5M399.4 339.5L400.3 342.3M399.4 339.5L396.7 341.5M385.9 337.3L389.2 337.7M388.3 335.2L389.2 337.7M385.9 337.3L388.3 335.2M385.9 337.3L386.5 339.7M381.9 330.6L379.7 332.8M379.7 332.8L383.4 332.8M381.9 330.6L383.4 332.8M379.7 332.8L381.2 334.9M383.4 332.8L381.2 334.9M376.3 332.8L379.7 332.8M377.8 335.2L375.6 337.2M374.2 334.9L377.8 335.2M376.3 332.8L377.8 335.2M376.3 332.8L374.2 334.9M379.7 332.8L377.8 335.2M381.2 334.9L377.8 335.2M360.0 326.6L363.0 327.5M362.5 325.4L363.0 327.5M362.5 325.4L360.0 326.6M363.0 327.5L365.3 325.4M363.0 327.5L366.4 327.6M360.0 331.6L361.7 333.4M363.0 331.4L361.7 333.4M363.0 331.4L360.0 331.6M355.7 328.9L358.7 328.4M356.7 327.0L355.7 328.9M372.9 321.8L374.1 323.9M372.9 321.8L370.5 323.7M377.3 315.6L376.3 317.8M373.8 316.0L376.3 317.8M365.6 312.8L367.8 314.7M372.7 318.0L376.3 317.8M372.7 318.0L373.8 316.0M372.7 318.0L374.9 319.9M376.3 317.8L374.9 319.9M371.9 325.9L369.8 327.9M368.5 325.7L369.8 327.9M366.4 327.6L369.8 327.9M366.4 327.6L367.9 329.8M369.8 327.9L367.9 329.8M355.3 346.1L355.2 348.3M355.3 346.1L353.0 347.1M353.0 347.1L355.2 348.3M359.8 343.3L357.6 344.8M364.7 388.0L361.6 386.2M364.9 385.4L364.7 388.0M364.9 385.4L361.6 386.2M378.1 382.0L378.2 384.6M382.0 381.9L378.2 384.6M378.2 384.6L382.1 385.0M371.5 385.0L368.1 384.3M369.7 377.0L372.5 378.7M373.0 376.1L372.5 378.7M369.7 377.0L373.0 376.1M369.7 377.0L369.3 379.5M379.7 374.3L376.3 375.3M376.3 375.3L379.4 376.9M379.7 374.3L379.4 376.9M376.7 372.8L379.7 374.3M376.7 372.8L376.3 375.3M379.7 374.3L382.8 376.0M375.8 377.8L372.5 378.7M373.0 376.1L375.8 377.8M376.3 375.3L375.8 377.8M376.3 375.3L373.0 376.1M375.8 377.8L375.2 380.4M379.4 376.9L375.8 377.8M375.8 377.8L378.9 379.5M405.1 377.1L403.1 381.5M400.8 378.4L405.1 377.1M400.8 378.4L403.1 381.5M408.2 380.1L403.1 381.5M394.6 388.3L393.5 392.3M394.6 388.3L389.2 390.1M394.6 388.3L399.3 390.8M394.2 384.8L394.6 388.3M400.1 386.4L394.6 388.3M400.1 386.4L394.2 384.8M400.1 386.4L399.3 390.8M384.7 387.8L389.6 386.4M389.6 386.4L389.2 390.1M385.8 384.2L389.6 386.4M394.6 388.3L389.6 386.4M385.8 380.9L389.7 382.9M389.5 379.5L389.7 382.9M389.7 382.9L385.8 384.2M389.7 382.9L389.6 386.4M389.7 382.9L394.2 384.8M400.8 378.4L396.9 379.6M397.1 376.3L400.8 378.4M397.1 376.3L396.9 379.6M393.1 377.9L396.9 379.6M401.2 374.8L405.6 373.3M401.4 371.5L401.2 374.8M401.2 374.8L405.1 377.1M397.2 373.2L401.2 374.8M401.2 374.8L397.1 376.3M401.2 374.8L400.8 378.4M384.7 387.8L380.2 390.7M380.2 390.7L376.3 393.0M380.2 390.7L375.8 389.5M380.2 390.7L381.1 394.4M179.9 335.0L179.3 337.1M182.6 336.6L179.3 337.1M179.3 337.1L182.5 339.1M182.6 336.6L182.5 339.1M179.3 337.1L179.4 339.3M177.6 333.3L179.9 335.0M180.7 332.7L177.6 333.3M205.8 355.0L205.9 356.9M203.7 353.9L203.7 355.9M205.8 353.0L205.8 355.0M201.6 354.8L201.4 356.9M200.0 363.1L197.5 364.1M197.5 364.1L200.0 365.1M195.2 362.9L197.5 364.1M197.5 364.1L195.2 365.5M197.9 361.9L197.5 364.1M197.5 364.1L197.7 366.3M201.1 358.9L203.4 359.9M203.6 357.9L203.4 359.9M205.9 358.8L203.4 359.9M203.4 359.9L200.7 361.0M203.4 359.9L202.4 362.4M190.3 337.8L188.1 339.1M190.3 337.8L188.0 336.8M188.0 336.8L188.1 339.1M193.0 337.5L190.3 337.8M193.0 337.5L191.6 339.4M185.3 337.8L188.1 339.1M188.0 336.8L185.3 337.8M182.6 336.6L185.3 337.8M185.3 337.8L182.5 339.1M185.5 335.5L185.3 337.8M193.0 337.5L194.2 339.5M194.2 339.5L192.7 341.2M199.4 342.8L201.3 344.1M197.9 341.3L196.7 343.1M199.4 342.8L196.7 343.1M189.4 345.9L192.9 346.7M192.9 346.7L190.5 347.7M191.7 344.6L192.9 346.7M196.7 344.9L195.7 346.8M198.3 346.4L195.7 346.8M179.9 357.6L182.3 359.2M184.8 360.7L182.3 359.2M185.4 358.5L187.7 360.3M185.4 358.5L184.8 360.7M185.4 358.5L182.3 359.2M191.1 351.3L187.9 351.7M187.9 351.7L190.0 353.4M189.2 349.7L187.9 351.7M189.2 349.7L191.1 351.3M187.9 351.7L186.8 353.8M186.0 349.8L187.9 351.7M187.9 351.7L184.7 351.9M177.8 347.4L175.9 349.5M177.8 347.4L174.3 347.1M176.2 345.1L177.8 347.4M179.7 345.4L177.8 347.4M169.2 319.6L165.7 319.0M159.0 317.6L162.3 318.5M161.5 315.9L162.3 318.5M161.5 315.9L159.0 317.6M157.9 315.1L159.0 317.6M159.0 317.6L155.3 316.9M155.3 316.9L156.6 319.1M159.0 317.6L156.6 319.1M157.9 315.1L155.3 316.9M159.0 317.6L159.6 320.4M156.6 319.1L159.6 320.4M162.3 318.5L159.6 320.4M163.3 320.9L162.3 318.5M165.7 319.0L163.3 320.9M165.7 319.0L162.3 318.5M163.3 320.9L159.6 320.4M158.7 301.3L161.2 303.9M159.2 298.8L158.7 301.3M159.2 298.8L155.4 299.4M158.7 301.3L155.4 299.4M158.7 301.3L154.7 302.1M155.4 299.4L154.7 302.1M164.0 314.1L160.5 313.4M164.0 314.1L161.5 315.9M163.2 311.6L164.0 314.1M163.2 311.6L160.5 313.4M164.8 316.6L162.3 318.5M161.5 315.9L164.8 316.6M165.7 319.0L164.8 316.6M164.0 314.1L164.8 316.6M167.3 314.7L164.8 316.6M167.3 314.7L164.0 314.1M166.5 312.3L163.2 311.6M165.8 309.9L166.5 312.3M169.1 310.6L166.5 312.3M166.5 312.3L164.0 314.1M166.5 312.3L167.3 314.7M161.2 303.9L161.8 306.6M164.6 305.1L161.8 306.6M161.2 303.9L158.4 306.0M161.8 306.6L158.4 306.0M138.1 331.0L135.1 333.2M153.2 311.8L150.4 313.7M149.2 310.9L150.4 313.7M150.4 313.7L146.3 312.9M155.3 316.9L153.0 318.9M156.6 319.1L153.0 318.9M155.3 316.9L151.6 316.4M153.0 318.9L151.6 316.4M161.8 306.6L159.0 308.4M158.4 306.0L159.0 308.4M162.4 309.1L159.0 308.4M161.8 306.6L162.4 309.1M157.9 315.1L154.2 314.4M156.9 312.7L154.2 314.4M155.3 316.9L154.2 314.4M153.2 311.8L154.2 314.4M154.2 314.4L151.6 316.4M154.2 314.4L150.4 313.7M150.4 313.7L151.6 316.4M190.3 312.6L191.2 314.8M193.2 313.1L191.2 314.8M193.2 313.1L190.3 312.6M203.7 307.6L204.5 309.5M172.5 320.1L169.2 319.6M171.5 317.7L172.5 320.1M171.5 317.7L169.2 319.6M184.3 311.4L181.2 310.8M183.5 309.1L184.3 311.4M183.5 309.1L181.2 310.8M192.4 310.9L190.3 312.6M192.4 310.9L193.2 313.1M191.7 308.8L192.4 310.9M156.1 337.8L158.0 340.1M156.1 337.8L154.4 340.2M156.1 337.8L152.4 338.0M154.2 335.5L156.1 337.8M158.0 335.4L156.1 337.8M152.2 333.2L154.2 335.5M155.8 333.0L152.2 333.2M139.9 339.0L142.4 341.4M139.9 339.0L137.9 341.9M139.9 339.0L135.1 339.4M135.1 333.2L130.6 333.6M131.1 330.2L135.1 333.2M131.1 330.2L130.6 333.6M130.6 333.6L132.7 336.5M135.1 333.2L132.7 336.5M170.9 328.7L169.1 330.9M170.9 328.7L167.4 328.5M194.5 379.0L192.3 380.4M193.7 373.5L194.9 375.3M193.7 373.5L191.7 375.2M194.9 375.3L191.7 375.2M194.9 375.3L193.3 376.9M186.7 380.8L189.8 381.7M189.3 379.4L186.7 380.8M186.7 378.4L186.7 380.8M183.9 379.9L186.7 378.4M183.9 379.9L186.7 380.8M186.7 380.8L187.0 383.2M189.8 381.7L187.0 383.2M189.8 381.7L190.2 384.0M187.0 383.2L190.2 384.0M190.2 384.0L187.7 385.7M187.0 383.2L187.7 385.7M187.0 383.2L184.3 384.8M184.3 384.8L187.7 385.7M183.9 379.9L180.8 379.3M176.8 380.4L176.0 383.1M179.9 381.7L181.1 384.0M177.4 375.9L180.7 376.8M177.4 375.9L178.1 378.2M180.1 374.4L177.4 375.9M177.4 375.9L174.8 377.9M173.5 370.2L170.6 371.6M170.3 369.1L173.5 370.2M173.2 367.8L173.5 370.2M184.5 364.8L181.8 366.1M181.8 366.1L179.1 367.4M173.0 365.4L176.1 366.5M176.1 366.5L173.2 367.8M176.1 366.5L179.1 367.4M180.7 376.8L183.6 377.6M183.3 375.3L183.6 377.6M183.6 377.6L186.7 378.4M183.6 377.6L183.9 379.9M183.6 377.6L180.8 379.3M190.9 373.1L188.7 374.6M188.2 372.3L190.9 373.1M188.2 372.3L188.7 374.6M190.9 373.1L193.7 373.5M193.0 371.5L190.9 373.1M190.9 373.1L191.7 375.2M190.5 370.8L190.9 373.1M190.5 370.8L188.2 372.3M185.8 373.8L188.7 374.6M188.2 372.3L185.8 373.8M186.3 376.1L186.7 378.4M186.3 376.1L189.4 376.9M188.7 374.6L186.3 376.1M185.8 373.8L186.3 376.1M185.8 373.8L183.3 375.3M186.3 376.1L183.6 377.6M190.2 366.5L187.7 367.8M187.7 367.8L190.7 368.7M187.3 365.5L187.7 367.8M187.9 370.0L190.5 370.8M187.9 370.0L188.2 372.3M187.7 367.8L187.9 370.0M187.7 367.8L185.0 369.3M185.0 369.3L187.9 370.0M190.7 368.7L190.5 370.8M190.7 368.7L187.9 370.0M195.8 367.9L193.7 369.5M193.7 369.5L196.8 369.9M193.7 369.5L195.5 371.7M193.7 369.5L193.0 371.5M193.1 367.3L193.7 369.5M193.7 369.5L190.7 368.7M193.7 369.5L190.5 370.8M414.2 315.2L409.6 316.6M419.2 330.4L424.9 330.1M419.2 330.4L422.0 333.7M419.2 330.4L416.7 333.6M411.8 333.5L413.7 336.4M413.7 336.4L416.7 333.6M411.8 333.5L416.7 333.6M413.7 336.4L419.2 336.7M380.9 280.3L381.1 283.5M187.1 285.3L184.0 283.4M349.6 304.9L352.6 304.5M352.6 304.5L351.7 306.4M350.7 303.0L352.6 304.5M357.6 305.6L360.7 305.1M357.6 305.6L359.6 307.3M360.7 305.1L359.6 307.3M360.7 305.1L362.6 307.0M363.6 305.0L362.6 307.0M360.7 305.1L363.6 305.0M367.1 323.4L369.3 321.5M369.3 321.5L370.5 323.7M369.3 321.5L372.9 321.8M366.1 321.1L363.7 323.2M363.1 320.8L366.1 321.1M363.1 320.8L363.7 323.2M366.1 321.1L367.1 323.4M366.1 321.1L369.3 321.5M368.4 319.0L369.3 321.5M368.4 319.0L366.1 321.1M354.5 321.8L353.1 323.8M351.6 322.2L354.5 321.8M375.9 309.3L378.4 310.9M378.5 308.4L378.4 310.9M375.9 309.3L378.5 308.4M378.0 313.4L377.3 315.6M385.5 296.5L388.0 299.1M385.5 296.5L389.3 296.1M381.4 296.9L385.5 296.5M382.8 294.4L385.5 296.5M382.8 294.4L381.4 296.9M386.7 293.7L385.5 296.5M369.1 306.2L365.8 306.7M366.9 304.6L365.8 306.7M363.6 305.0L366.9 304.6M363.6 305.0L365.8 306.7M362.6 307.0L365.8 306.7M358.6 289.1L360.3 291.7M357.0 290.9L358.6 289.1M357.0 290.9L360.3 291.7M358.1 295.4L357.9 297.7M357.9 297.7L360.5 296.6M358.1 295.4L360.5 296.6M357.9 297.7L360.2 299.0M360.5 296.6L360.2 299.0M352.3 299.4L355.2 298.7M352.3 299.4L354.4 300.6M355.2 298.7L354.4 300.6M348.7 301.5L351.5 301.2M351.5 301.2L350.7 303.0M351.5 301.2L354.4 300.6M349.4 299.8L352.3 299.4M349.4 299.8L351.5 301.2M147.3 288.9L144.4 285.8M147.3 288.9L141.1 289.1M153.2 282.4L145.5 281.7M173.6 287.5L170.6 289.4M173.8 290.5L170.6 289.4M173.6 287.5L169.7 286.5M169.7 286.5L170.6 289.4M170.6 289.4L167.0 289.0M170.6 289.4L169.7 291.9M173.8 290.5L169.7 291.9M180.3 284.5L176.8 285.9M176.6 282.8L180.3 284.5M176.6 282.8L176.8 285.9M176.8 285.9L173.6 287.5M176.8 285.9L176.9 288.8M180.5 281.5L180.3 284.5M180.5 281.5L176.6 282.8M184.0 283.4L180.3 284.5M184.0 283.4L180.5 281.5M180.5 281.5L176.4 279.6M176.6 282.8L176.4 279.6M168.5 308.2L165.2 307.5M165.2 307.5L165.8 309.9M165.2 307.5L162.4 309.1M165.2 307.5L161.8 306.6M164.6 305.1L165.2 307.5M167.9 305.8L168.5 308.2M171.1 306.5L168.5 308.2M171.1 306.5L167.9 305.8M170.6 304.1L167.9 305.8M167.9 305.8L165.2 307.5M164.6 305.1L167.9 305.8M174.3 307.1L171.1 306.5M173.7 304.7L174.3 307.1M176.8 305.4L174.3 307.1M176.8 305.4L173.7 304.7M177.4 307.8L174.3 307.1M177.4 307.8L176.8 305.4M176.2 303.0L176.8 305.4M176.2 303.0L173.7 304.7M179.2 303.8L176.8 305.4M179.2 303.8L176.2 303.0M122.4 310.9L124.6 316.7M127.8 312.8L122.4 310.9M122.7 321.2L127.0 324.2M127.0 324.2L121.5 325.8M127.0 324.2L126.5 328.2M128.2 320.1L127.0 324.2M131.9 323.1L127.0 324.2M131.6 326.5L127.0 324.2M131.9 323.1L131.6 326.5M154.7 304.9L155.3 307.6M158.4 306.0L155.3 307.6M158.4 306.0L154.7 304.9M159.0 308.4L155.3 307.6M155.3 307.6L156.1 310.1M159.0 308.4L156.1 310.1M155.3 307.6L152.3 309.2M155.3 307.6L151.5 306.4M109.5 310.0L107.2 315.4M113.5 314.6L107.2 315.4M107.2 315.4L112.0 319.5M107.2 315.4L105.8 321.0M135.6 307.2L130.4 305.4M134.7 303.2L130.4 305.4M129.2 301.0L130.4 305.4M404.8 389.2L399.3 390.8M404.8 389.2L404.2 394.0M404.8 389.2L410.3 392.3M410.6 387.4L404.8 389.2M400.1 386.4L404.8 389.2M165.6 380.6L162.4 382.3M161.7 379.2L165.6 380.6M164.9 377.5L165.6 380.6M168.3 378.5L165.6 380.6M165.6 380.6L169.4 381.4M168.3 378.5L169.4 381.4M162.4 382.3L167.5 384.0M165.6 380.6L167.5 384.0M163.6 385.2L161.4 388.2M159.0 384.7L163.6 385.2M162.4 382.3L163.6 385.2M167.5 384.0L163.6 385.2M434.6 312.8L441.5 314.2M434.6 312.8L436.8 317.5M434.6 312.8L429.9 316.6M434.6 312.8L439.2 308.9M432.7 307.8L439.2 308.9M432.7 307.8L434.6 312.8M439.2 308.9L441.5 314.2M433.5 298.6L436.7 303.6M436.7 303.6L439.2 308.9M436.7 303.6L432.7 307.8M397.3 288.6L399.6 291.6M399.6 291.6L403.0 289.0M395.1 292.1L399.6 291.6M401.7 281.3L406.9 283.8M401.7 281.3L407.0 278.7M401.7 281.3L400.6 285.4M400.7 276.5L401.7 281.3M395.9 283.1L401.7 281.3M413.6 286.3L418.6 289.8M412.4 291.0L418.6 289.8M418.6 289.8L425.4 289.3M403.6 309.0L407.5 308.2M403.6 309.0L407.1 311.2M407.5 308.2L407.1 311.2M147.2 360.4L151.2 362.9M147.2 360.4L147.6 363.3M147.2 360.4L143.6 362.2M143.1 359.0L147.2 360.4M149.0 342.9L147.6 345.6M149.0 342.9L145.0 343.5M147.6 345.6L145.0 343.5M147.6 345.6L146.9 348.4M147.6 345.6L150.2 347.5M152.8 342.5L151.3 345.0M154.9 344.7L151.3 345.0M149.0 342.9L151.3 345.0M151.3 345.0L153.4 347.2M151.3 345.0L150.2 347.5M147.6 345.6L151.3 345.0M167.9 375.7L171.3 376.7M171.3 376.7L168.3 378.5M170.9 374.1L171.3 376.7M161.4 388.2L164.5 391.3M159.3 392.0L164.5 391.3M164.5 391.3L169.3 390.4M164.5 391.3L168.1 394.2M164.5 391.3L162.6 395.3M171.8 379.1L169.4 381.4M168.3 378.5L171.8 379.1M171.3 376.7L171.8 379.1M171.8 379.1L174.8 377.9M171.3 376.7L174.8 377.9M161.2 373.2L157.7 374.7M157.7 374.7L161.3 376.2M157.7 374.7L153.9 376.0M157.7 374.7L157.8 377.8M425.5 364.9L431.8 364.7M425.5 364.9L428.2 369.3M428.2 369.3L420.9 372.5M420.9 372.5L426.3 374.2M420.9 372.5L420.5 377.0M420.9 372.5L415.2 374.5M415.8 370.4L420.9 372.5M407.6 366.6L411.1 368.4M411.6 364.4L411.1 368.4M411.1 368.4L415.8 370.4M411.1 368.4L410.4 372.0M405.6 369.7L411.1 368.4M412.0 352.0L414.9 354.8M412.0 352.0L410.0 355.0M401.2 355.1L403.4 357.7M401.2 355.1L399.3 357.4M399.3 357.4L403.4 357.7M397.3 354.8L401.2 355.1M401.2 355.1L405.6 355.2M405.6 355.2L403.4 357.7M425.1 337.6L424.9 341.9M430.8 340.0L424.9 341.9M425.1 337.6L430.8 340.0M425.1 337.6L420.3 340.2M420.3 340.2L424.9 341.9M419.2 336.7L425.1 337.6M419.2 336.7L420.3 340.2M422.0 333.7L425.1 337.6M427.5 333.7L425.1 337.6M208.1 328.2L208.5 330.2M366.4 346.3L369.5 347.2M369.1 344.9L369.5 347.2M372.3 345.7L369.5 347.2M369.5 347.2L372.7 348.2M372.3 345.7L372.7 348.2M360.6 348.0L357.8 349.3M357.8 349.3L360.5 350.3M357.8 349.3L355.2 350.5M355.2 348.3L357.8 349.3M355.2 348.3L355.2 350.5M359.8 343.3L360.4 345.7M357.6 344.8L360.4 345.7M363.3 346.6L360.6 348.0M363.3 346.6L363.4 349.1M360.4 345.7L363.3 346.6M360.4 345.7L360.6 348.0M366.4 346.3L363.3 346.6M366.4 348.4L363.4 349.1M363.4 349.1L366.3 350.6M363.3 346.6L366.4 348.4M366.4 346.3L366.4 348.4M366.4 348.4L369.5 347.2M373.2 339.1L374.2 341.5M370.7 340.9L374.2 341.5M374.2 341.5L371.6 343.2M374.2 341.5L377.6 342.2M376.7 339.7L377.6 342.2M376.7 339.7L374.2 341.5M374.2 341.5L375.0 344.0M368.5 336.3L370.7 334.5M368.5 336.3L372.0 336.8M368.5 336.3L369.7 338.6M355.3 338.5L358.0 338.9M358.0 338.9L359.0 341.1M358.0 338.9L361.0 339.5M351.1 336.9L353.7 336.7M351.6 335.3L353.7 336.7M353.7 336.7L355.3 338.5M352.6 338.3L355.3 338.5M388.5 362.8L392.0 363.7M388.5 362.8L389.3 365.4M392.0 363.7L389.3 365.4M392.0 363.7L392.8 366.3M392.8 366.3L395.7 364.5M392.8 366.3L396.6 367.3M392.8 366.3L393.2 369.0M392.8 366.3L389.3 365.4M403.4 357.7L401.0 360.1M399.3 357.4L401.0 360.1M401.0 360.1L405.3 360.5M403.4 357.7L405.3 360.5M398.4 362.4L395.7 364.5M394.7 361.8L398.4 362.4M398.4 362.4L399.5 365.3M389.4 350.0L391.0 352.7M389.4 350.0L392.9 350.5M392.0 348.0L389.4 350.0M388.6 347.3L392.0 348.0M388.6 347.3L389.4 350.0M405.6 355.2L410.0 355.0M409.4 349.5L412.0 352.0M348.4 363.3L347.9 365.3M348.4 363.3L345.8 363.9M347.9 356.2L344.6 356.9M367.4 361.8L364.4 362.8M364.4 362.8L367.0 364.2M367.4 361.8L367.0 364.2M364.4 362.8L361.5 363.7M362.0 361.3L364.4 362.8M362.0 361.3L361.5 363.7M370.1 363.3L369.7 365.6M370.1 363.3L367.0 364.2M367.4 361.8L370.1 363.3M359.1 362.1L361.5 363.7M362.0 361.3L359.1 362.1M361.0 366.1L358.0 366.1M360.8 368.5L360.9 370.9M361.1 373.2L361.2 375.4M364.2 374.2L361.2 375.4M361.1 373.2L364.2 374.2M360.9 370.9L361.1 373.2M360.9 370.9L358.4 372.2M358.4 372.2L361.1 373.2M361.1 373.2L358.4 374.4M358.4 372.2L358.4 374.4M361.2 375.4L358.4 374.4M352.7 353.9L352.5 356.1M355.1 355.0L352.5 356.1M359.9 357.5L357.1 358.5M357.5 356.2L357.1 358.5M352.5 349.6L352.7 351.7M352.5 349.6L355.2 350.5M355.2 348.3L352.5 349.6M352.5 349.6L350.2 351.0M353.0 347.1L352.5 349.6M380.2 369.0L377.1 370.3M377.4 367.8L380.2 369.0M377.4 367.8L377.1 370.3M373.4 373.7L376.3 375.3M373.4 373.7L373.0 376.1M376.7 372.8L373.4 373.7M364.4 362.8L364.0 365.1M361.5 363.7L364.0 365.1M361.5 363.7L361.0 366.1M364.0 365.1L361.0 366.1M367.0 364.2L364.0 365.1M380.9 359.5L378.7 361.3M378.7 361.3L381.9 362.0M378.7 361.3L379.6 363.8M378.7 361.3L376.1 363.1M376.1 363.1L379.6 363.8M377.2 353.7L377.0 356.3M379.7 354.8L377.0 356.3M377.2 353.7L379.7 354.8M374.3 355.0L377.0 356.3M374.3 355.0L374.2 357.6M377.0 356.3L374.2 357.6M377.2 353.7L374.3 355.0M374.4 352.5L374.3 355.0M393.2 369.0L389.6 367.9M392.8 366.3L389.6 367.9M389.3 365.4L389.6 367.9M386.2 366.8L389.6 367.9M389.3 365.4L386.2 366.8M377.1 365.3L379.6 363.8M377.1 365.3L374.7 366.5M374.7 366.5L377.4 367.8M377.1 365.3L377.4 367.8M363.3 351.6L360.4 352.7M363.3 351.6L363.0 354.0M363.3 351.6L360.5 350.3M360.5 350.3L360.4 352.7M363.4 349.1L363.3 351.6M360.4 352.7L357.7 353.9M357.7 353.9L360.2 355.1M357.7 353.9L355.1 355.0M355.2 352.7L357.7 353.9M355.1 355.0L357.5 356.2M357.7 353.9L357.5 356.2M355.2 350.5L357.8 351.5M357.8 351.5L355.2 352.7M357.8 351.5L357.7 353.9M357.8 351.5L360.4 352.7M357.8 349.3L357.8 351.5M360.5 350.3L357.8 351.5M378.3 344.8L375.6 346.6M375.0 344.0L375.6 346.6M372.3 345.7L375.6 346.6M375.6 346.6L372.7 348.2M372.7 348.2L376.0 349.1M375.6 346.6L376.0 349.1M379.7 349.8L383.1 350.6M382.4 348.1L383.1 350.6M382.4 348.1L379.7 349.8M381.7 345.6L378.9 347.4M378.3 344.8L378.9 347.4M375.6 346.6L378.9 347.4M378.9 347.4L379.7 349.8M378.9 347.4L382.4 348.1M378.9 347.4L376.0 349.1M391.3 345.4L392.0 348.0M391.3 345.4L394.7 346.0M391.3 345.4L388.6 347.3M394.1 343.5L391.3 345.4M385.2 346.4L385.9 348.9M385.9 348.9L388.6 347.3M385.9 348.9L389.4 350.0M385.9 348.9L386.5 351.2M386.5 351.2L389.4 350.0M382.4 348.1L385.9 348.9M385.9 348.9L383.1 350.6M383.1 350.6L386.5 351.2M409.2 336.2L413.7 336.4M411.8 333.5L409.2 336.2M400.3 342.3L403.2 340.3M403.2 340.3L403.9 343.1M399.4 339.5L403.2 340.3M372.8 332.5L370.7 334.5M369.4 332.1L372.8 332.5M369.4 332.1L370.7 334.5M372.8 332.5L374.2 334.9M372.8 332.5L376.3 332.8M383.4 332.8L384.8 334.9M381.2 334.9L384.8 334.9M384.8 334.9L385.9 337.3M384.8 334.9L388.3 335.2M383.0 339.1L386.5 339.7M385.9 337.3L383.0 339.1M342.6 325.6L343.8 327.7M346.5 330.7L346.3 333.0M349.0 322.6L347.9 324.4M351.6 322.2L350.5 324.1M349.0 322.6L351.6 322.2M350.5 324.1L353.1 323.8M357.8 325.1L360.0 326.6M357.8 325.1L356.7 327.0M354.5 321.8L355.6 323.6M354.5 321.8L358.0 322.9M355.6 323.6L357.8 325.1M358.0 322.9L357.8 325.1M360.6 322.0L363.7 323.2M360.6 322.0L363.1 320.8M363.0 327.5L364.6 329.6M366.4 327.6L364.6 329.6M364.6 329.6L367.9 329.8M355.5 331.1L352.9 331.8M355.7 328.9L355.5 331.1M364.3 333.7L361.7 333.4M363.0 331.4L364.3 333.7M361.2 329.5L360.0 331.6M361.2 329.5L363.0 331.4M360.0 326.6L361.2 329.5M358.7 328.4L361.2 329.5M363.0 327.5L361.2 329.5M361.2 329.5L364.6 329.6M363.0 331.4L364.6 329.6M355.7 328.9L358.0 330.3M358.7 328.4L358.0 330.3M358.0 330.3L355.5 331.1M361.2 329.5L358.0 330.3M358.0 330.3L360.0 331.6M370.0 316.7L373.8 316.0M370.0 316.7L372.7 318.0M367.8 314.7L370.0 316.7M366.6 316.8L370.0 316.7M367.8 314.7L366.6 316.8M366.6 316.8L368.4 319.0M370.0 316.7L368.4 319.0M372.7 318.0L368.4 319.0M355.3 346.1L357.6 344.8M352.7 345.2L355.3 346.1M352.7 345.2L353.0 347.1M347.6 350.5L350.2 351.0M349.4 349.3L352.5 349.6M348.7 347.4L349.4 349.3M364.7 388.0L368.1 389.8M368.1 389.8L372.0 391.4M371.8 388.1L368.1 389.8M374.6 383.3L375.2 386.4M378.2 384.6L374.6 383.3M378.1 382.0L374.6 383.3M371.9 381.5L374.6 383.3M375.2 380.4L374.6 383.3M353.0 376.3L355.6 377.6M355.6 377.6L355.1 379.8M383.2 370.4L380.0 371.7M380.0 371.7L379.7 374.3M380.2 369.0L380.0 371.7M377.1 370.3L380.0 371.7M380.0 371.7L376.7 372.8M377.1 370.3L376.7 372.8M405.9 384.7L410.6 387.4M412.1 383.0L405.9 384.7M408.2 380.1L405.9 384.7M403.1 381.5L405.9 384.7M405.9 384.7L404.8 389.2M403.1 381.5L400.1 386.4M405.9 384.7L400.1 386.4M398.4 382.8L403.1 381.5M400.8 378.4L398.4 382.8M396.9 379.6L398.4 382.8M398.4 382.8L400.1 386.4M398.4 382.8L394.2 384.8M393.1 377.9L393.4 381.3M389.5 379.5L393.4 381.3M396.9 379.6L393.4 381.3M393.4 381.3L389.7 382.9M393.4 381.3L394.2 384.8M398.4 382.8L393.4 381.3M378.2 384.6L379.6 387.6M382.1 385.0L379.6 387.6M379.6 387.6L384.7 387.8M379.6 387.6L380.2 390.7M379.6 387.6L375.8 389.5M379.6 387.6L375.2 386.4M176.4 338.4L176.7 340.9M176.4 338.4L179.4 339.3M179.3 337.1L176.4 338.4M170.9 328.7L172.7 331.1M174.4 329.0L172.7 331.1M174.4 329.0L170.9 328.7M172.7 331.1L169.1 330.9M176.3 335.7L179.3 337.1M179.9 335.0L176.3 335.7M177.6 333.3L176.3 335.7M176.3 335.7L176.4 338.4M194.1 350.8L191.1 351.3M194.1 350.8L193.1 352.9M194.2 339.5L195.4 341.3M195.4 341.3L192.7 341.2M195.4 341.3L196.7 343.1M195.4 341.3L193.8 343.0M196.7 343.1L193.8 343.0M195.4 337.8L196.7 339.6M197.8 337.9L199.0 339.7M196.7 339.6L195.4 341.3M193.8 343.0L194.3 344.9M196.7 343.1L194.3 344.9M194.3 344.9L191.7 344.6M194.3 344.9L192.9 346.7M192.9 346.7L195.7 346.8M194.3 344.9L195.7 346.8M196.7 343.1L199.0 344.5M199.0 344.5L198.3 346.4M198.3 346.4L197.6 348.3M195.7 346.8L197.6 348.3M199.1 336.4L200.1 338.1M183.1 356.8L185.4 358.5M183.1 356.8L182.3 359.2M183.1 356.8L179.9 357.6M183.1 356.8L180.9 355.4M186.0 356.1L185.4 358.5M183.1 356.8L186.0 356.1M183.5 354.2L183.1 356.8M188.3 357.9L187.7 360.3M188.3 357.9L185.4 358.5M191.2 357.3L188.3 357.9M189.0 355.6L188.3 357.9M186.0 356.1L188.3 357.9M177.8 347.4L181.2 347.6M179.7 345.4L181.2 347.6M183.1 345.6L181.2 347.6M184.5 347.7L181.2 347.6M181.2 347.6L182.8 349.8M175.9 349.5L179.4 349.7M179.4 349.7L177.5 351.6M177.8 347.4L179.4 349.7M181.2 347.6L179.4 349.7M179.4 349.7L182.8 349.8M179.4 349.7L181.3 351.9M161.2 303.9L157.8 303.6M157.8 303.6L158.4 306.0M158.7 301.3L157.8 303.6M157.8 303.6L154.7 304.9M157.8 303.6L154.7 302.1M168.2 317.2L164.8 316.6M167.3 314.7L168.2 317.2M170.6 315.3L168.2 317.2M171.5 317.7L168.2 317.2M170.6 315.3L171.5 317.7M170.6 315.3L167.3 314.7M168.2 317.2L169.2 319.6M168.2 317.2L165.7 319.0M169.8 312.9L166.5 312.3M169.1 310.6L169.8 312.9M169.8 312.9L170.6 315.3M173.1 313.5L170.6 315.3M173.1 313.5L169.8 312.9M169.8 312.9L167.3 314.7M172.4 311.2L169.8 312.9M172.4 311.2L169.1 310.6M139.9 328.2L138.1 331.0M135.3 328.8L135.1 333.2M135.3 328.8L131.1 330.2M138.1 331.0L135.3 328.8M131.6 326.5L135.3 328.8M139.9 328.2L135.3 328.8M153.0 318.9L149.2 318.6M151.6 316.4L149.2 318.6M149.2 318.6L145.2 318.0M145.2 318.0L147.1 320.9M149.2 318.6L147.1 320.9M144.8 323.2L142.1 325.6M146.2 325.9L142.1 325.6M144.8 323.2L146.2 325.9M150.4 313.7L147.7 315.8M151.6 316.4L147.7 315.8M147.7 315.8L149.2 318.6M147.7 315.8L145.2 318.0M146.3 312.9L147.7 315.8M146.3 312.9L143.5 315.0M141.9 311.9L143.5 315.0M147.7 315.8L143.5 315.0M143.5 315.0L145.2 318.0M159.7 310.9L160.5 313.4M159.7 310.9L156.9 312.7M159.7 310.9L156.1 310.1M159.0 308.4L159.7 310.9M163.2 311.6L159.7 310.9M162.4 309.1L159.7 310.9M205.6 321.2L206.8 322.9M203.3 317.8L204.4 319.5M194.1 315.1L191.2 314.8M193.2 313.1L194.1 315.1M198.8 313.8L199.8 315.7M198.8 313.8L197.0 315.4M199.8 315.7L197.0 315.4M199.8 315.7L198.1 317.3M197.0 315.4L198.1 317.3M201.5 314.1L202.3 316.0M201.5 314.1L199.8 315.7M201.5 314.1L198.8 313.8M198.8 313.8L196.1 313.4M198.8 313.8L198.0 311.9M198.0 311.9L196.1 313.4M196.1 313.4L197.0 315.4M196.1 313.4L194.1 315.1M196.1 313.4L193.2 313.1M197.0 315.4L194.1 315.1M202.3 316.0L203.3 317.8M204.0 314.5L202.3 316.0M204.0 314.5L204.8 316.3M200.0 310.4L197.3 309.9M197.3 309.9L198.0 311.9M200.0 310.4L198.0 311.9M199.3 308.4L200.0 310.4M199.3 308.4L197.3 309.9M200.0 310.4L200.7 312.3M202.6 310.8L200.7 312.3M202.6 310.8L200.0 310.4M200.7 312.3L198.0 311.9M200.7 312.3L198.8 313.8M200.7 312.3L201.5 314.1M201.9 309.0L204.5 309.5M201.9 309.0L202.6 310.8M201.9 309.0L200.0 310.4M201.9 309.0L199.3 308.4M201.2 307.0L201.9 309.0M201.2 307.0L199.3 308.4M191.8 332.0L189.7 330.5M189.7 330.5L189.1 332.6M192.4 310.9L195.2 311.4M197.3 309.9L195.2 311.4M198.0 311.9L195.2 311.4M195.2 311.4L196.1 313.4M195.2 311.4L193.2 313.1M165.6 330.8L163.8 332.9M163.8 332.9L167.2 333.2M163.8 332.9L165.1 335.4M167.2 333.2L165.1 335.4M163.8 332.9L161.5 334.3M161.5 334.3L165.1 335.4M161.5 334.3L161.6 336.3M161.5 334.3L158.0 335.4M161.6 336.3L158.0 335.4M165.1 335.4L161.6 336.3M137.4 336.3L139.9 339.0M135.1 333.2L137.4 336.3M137.4 336.3L132.7 336.5M137.4 336.3L135.1 339.4M146.3 336.0L144.2 333.6M146.7 340.8L149.0 342.9M150.6 340.4L146.7 340.8M146.7 340.8L145.0 343.5M146.7 340.8L142.4 341.4M120.9 330.3L126.0 332.1M126.5 328.2L126.0 332.1M131.1 330.2L126.0 332.1M130.6 333.6L126.0 332.1M191.6 378.3L194.5 379.0M191.6 378.3L192.3 380.4M193.3 376.9L194.5 379.0M191.6 378.3L189.3 379.4M189.4 376.9L191.6 378.3M196.2 377.3L194.5 379.0M196.2 377.3L193.3 376.9M194.9 375.3L196.2 377.3M196.6 373.6L194.9 375.3M196.6 373.6L193.7 373.5M195.5 371.7L196.6 373.6M198.2 371.8L196.6 373.6M186.7 380.8L183.6 382.2M183.9 379.9L183.6 382.2M183.6 382.2L187.0 383.2M183.6 382.2L184.3 384.8M187.7 385.7L184.7 387.3M184.3 384.8L184.7 387.3M181.3 386.7L184.7 387.3M173.8 372.7L170.9 374.1M170.6 371.6L173.8 372.7M173.5 370.2L173.8 372.7M181.8 366.1L184.8 367.0M184.5 364.8L184.8 367.0M184.8 367.0L187.7 367.8M184.8 367.0L185.0 369.3M187.3 365.5L184.8 367.0M176.3 368.8L173.5 370.2M173.2 367.8L176.3 368.8M176.1 366.5L176.3 368.8M179.1 367.4L176.3 368.8M187.9 370.0L185.3 371.5M185.3 371.5L188.2 372.3M185.0 369.3L185.3 371.5M185.3 371.5L182.4 370.7M185.0 369.3L182.4 370.7M185.3 371.5L185.8 373.8M179.3 369.8L182.4 370.7M179.3 369.8L179.7 372.1M182.4 370.7L179.7 372.1M176.3 368.8L179.3 369.8M179.1 367.4L179.3 369.8M181.8 366.1L182.1 368.4M182.1 368.4L179.1 367.4M182.1 368.4L179.3 369.8M182.1 368.4L182.4 370.7M182.1 368.4L185.0 369.3M184.8 367.0L182.1 368.4M182.4 370.7L182.8 373.0M179.7 372.1L182.8 373.0M182.8 373.0L180.1 374.4M182.8 373.0L183.3 375.3M179.7 372.1L180.1 374.4M182.8 373.0L185.8 373.8M185.3 371.5L182.8 373.0M443.0 319.9L444.0 325.9M438.3 323.4L444.0 325.9M424.9 330.1L431.7 330.4M431.7 330.4L427.5 333.7M403.6 309.0L403.0 312.1M403.0 312.1L407.1 311.2M400.0 309.9L403.6 309.0M400.0 309.9L403.0 312.1M391.7 335.6L389.2 337.7M388.3 335.2L391.7 335.6M391.7 335.6L392.6 338.2M421.0 326.9L424.9 330.1M421.0 326.9L419.2 330.4M414.1 330.6L411.8 333.5M414.1 330.6L416.7 333.6M419.2 330.4L414.1 330.6M413.7 336.4L415.4 339.1M415.4 339.1L419.2 336.7M415.4 339.1L420.3 340.2M415.5 342.0L420.3 340.2M373.2 285.0L377.2 285.2M183.5 286.1L180.3 284.5M184.0 283.4L183.5 286.1M187.1 285.3L183.5 286.1M177.0 291.6L173.8 290.5M176.9 288.8L177.0 291.6M357.6 305.6L356.5 307.7M356.5 307.7L359.6 307.3M349.0 306.7L350.6 308.4M351.7 306.4L350.6 308.4M358.7 303.5L360.7 305.1M358.7 303.5L357.6 305.6M355.6 304.0L358.7 303.5M355.6 304.0L357.6 305.6M356.6 302.0L358.7 303.5M356.6 302.0L355.6 304.0M359.6 301.3L358.7 303.5M356.6 302.0L359.6 301.3M371.4 319.8L369.3 321.5M371.4 319.8L372.9 321.8M374.9 319.9L372.9 321.8M371.4 319.8L374.9 319.9M372.7 318.0L371.4 319.8M368.4 319.0L371.4 319.8M366.6 316.8L365.2 318.9M365.2 318.9L368.4 319.0M365.2 318.9L366.1 321.1M363.1 320.8L365.2 318.9M374.9 307.2L375.9 309.3M374.9 307.2L378.5 308.4M372.4 305.6L374.9 307.2M375.6 304.8L374.9 307.2M371.4 307.9L374.9 307.2M378.4 310.9L378.0 313.4M378.0 313.4L380.8 312.3M378.4 310.9L380.8 312.3M361.8 302.8L360.7 305.1M361.8 302.8L363.6 305.0M358.7 303.5L361.8 302.8M359.6 301.3L361.8 302.8M380.2 292.6L378.6 295.0M378.6 295.0L382.8 294.4M378.6 295.0L381.4 296.9M376.9 299.9L379.0 301.5M380.7 299.5L379.0 301.5M376.9 299.9L380.7 299.5M376.9 299.9L376.0 302.4M376.0 302.4L379.0 301.5M360.3 291.7L363.1 292.9M364.4 290.5L363.1 292.9M360.3 291.7L364.4 290.5M368.5 298.0L371.2 299.3M371.7 296.9L371.2 299.3M368.5 298.0L371.7 296.9M384.0 298.7L388.0 299.1M384.0 298.7L385.0 301.0M385.0 301.0L388.0 299.1M385.5 296.5L384.0 298.7M380.7 299.5L384.0 298.7M380.7 299.5L385.0 301.0M381.4 296.9L384.0 298.7M381.4 296.9L380.7 299.5M381.3 309.8L384.4 308.7M381.3 309.8L383.9 311.2M384.4 308.7L383.9 311.2M381.3 309.8L378.4 310.9M378.5 308.4L381.3 309.8M381.3 309.8L380.8 312.3M383.9 311.2L380.8 312.3M384.7 306.2L384.4 308.7M384.4 308.7L387.6 307.8M384.7 306.2L387.6 307.8M363.5 311.0L365.6 312.8M369.1 306.2L368.0 308.4M368.0 308.4L371.4 307.9M365.8 306.7L368.0 308.4M353.3 295.5L355.6 294.4M360.2 299.0L362.5 300.3M360.2 299.0L359.6 301.3M362.5 300.3L359.6 301.3M362.5 300.3L361.8 302.8M361.8 302.8L365.1 301.1M362.5 300.3L365.1 301.1M355.6 296.5L355.2 298.7M357.9 297.7L355.2 298.7M355.6 296.5L357.9 297.7M355.6 296.5L358.1 295.4M355.6 294.4L355.6 296.5M353.3 295.5L355.6 296.5M355.6 294.4L358.1 295.4M357.4 299.9L356.6 302.0M357.4 299.9L359.6 301.3M360.2 299.0L357.4 299.9M354.4 300.6L357.4 299.9M354.4 300.6L356.6 302.0M355.2 298.7L357.4 299.9M357.9 297.7L357.4 299.9M355.6 296.5L353.1 297.6M353.3 295.5L353.1 297.6M350.2 298.1L352.3 299.4M350.2 298.1L353.1 297.6M365.3 283.4L368.4 281.3M365.3 283.4L369.1 284.2M362.6 285.3L365.3 283.4M373.2 285.0L373.9 287.6M370.0 286.9L373.9 287.6M373.9 287.6L377.2 285.2M373.9 287.6L377.6 288.3M373.9 287.6L374.5 290.3M374.5 290.3L377.6 288.3M377.6 288.3L377.2 285.2M377.6 288.3L381.2 286.6M153.6 294.2L156.5 296.6M158.2 293.8L156.5 296.6M158.2 293.8L153.6 294.2M160.6 296.1L156.5 296.6M159.2 298.8L156.5 296.6M156.5 296.6L155.4 299.4M156.5 296.6L152.2 297.3M155.4 299.4L152.2 297.3M153.6 294.2L152.2 297.3M140.1 293.4L135.7 290.9M140.1 293.4L134.4 294.9M141.1 289.1L140.1 293.4M147.3 288.9L145.2 292.2M145.2 292.2L140.1 293.4M144.1 296.0L140.1 293.4M145.2 292.2L144.1 296.0M141.1 289.1L145.2 292.2M143.5 299.6L143.5 303.2M143.5 299.6L147.4 301.6M143.5 299.6L139.1 301.2M158.0 288.5L155.5 291.3M155.5 291.3L153.6 294.2M158.2 293.8L155.5 291.3M160.4 291.2L155.5 291.3M173.0 284.5L169.7 286.5M173.0 284.5L173.6 287.5M173.0 284.5L176.8 285.9M176.6 282.8L173.0 284.5M175.6 311.8L176.4 314.1M176.4 314.1L173.1 313.5M192.4 310.9L189.5 310.4M189.5 310.4L190.3 312.6M191.7 308.8L189.5 310.4M188.8 308.2L189.5 310.4M191.7 308.8L188.8 308.2M182.9 306.8L180.5 308.5M183.5 309.1L180.5 308.5M182.9 306.8L183.5 309.1M180.5 308.5L181.2 310.8M180.5 308.5L178.1 310.1M181.2 310.8L178.1 310.1M177.4 307.8L180.5 308.5M177.4 307.8L178.1 310.1M188.8 308.2L185.8 307.5M188.1 306.0L188.8 308.2M188.1 306.0L185.8 307.5M185.8 307.5L182.9 306.8M185.8 307.5L183.5 309.1M167.4 303.4L167.9 305.8M170.6 304.1L167.4 303.4M169.9 301.6L170.6 304.1M169.9 301.6L167.4 303.4M167.4 303.4L164.2 302.7M167.4 303.4L164.6 305.1M166.5 300.9L167.4 303.4M174.3 307.1L171.7 308.8M171.7 308.8L171.1 306.5M171.7 308.8L168.5 308.2M171.7 308.8L169.1 310.6M171.7 308.8L172.4 311.2M170.8 294.6L167.0 293.9M170.8 294.6L169.7 291.9M176.2 303.0L173.1 302.3M175.6 300.6L176.2 303.0M175.6 300.6L173.1 302.3M173.1 302.3L173.7 304.7M173.1 302.3L170.6 304.1M173.1 302.3L169.9 301.6M119.7 306.5L122.4 310.9M119.7 306.5L116.0 310.1M122.4 310.9L116.0 310.1M119.7 306.5L112.9 305.3M124.6 316.7L119.6 314.2M119.6 314.2L118.2 318.3M122.4 310.9L119.6 314.2M119.6 314.2L113.5 314.6M116.0 310.1L119.6 314.2M130.4 305.4L131.7 309.7M135.6 307.2L131.7 309.7M131.7 309.7L133.6 313.4M131.7 309.7L127.8 312.8M137.0 310.9L131.7 309.7M137.0 310.9L133.6 313.4M130.4 305.4L126.2 308.0M126.2 308.0L119.7 306.5M126.2 308.0L122.4 310.9M131.7 309.7L126.2 308.0M126.2 308.0L127.8 312.8M163.6 385.2L166.2 387.8M161.4 388.2L166.2 387.8M166.2 387.8L164.5 391.3M166.2 387.8L169.3 390.4M170.3 386.8L166.2 387.8M167.5 384.0L166.2 387.8M428.6 311.6L434.6 312.8M428.6 311.6L432.7 307.8M428.6 311.6L429.9 316.6M408.1 288.0L406.8 292.1M403.0 289.0L406.8 292.1M406.8 292.1L412.4 291.0M397.2 307.7L400.8 306.6M398.0 304.4L400.8 306.6M398.0 304.4L397.2 307.7M397.2 307.7L400.0 309.9M400.8 306.6L400.0 309.9M400.8 306.6L403.6 309.0M388.0 299.1L391.1 301.1M391.9 298.3L391.1 301.1M391.1 301.1L394.8 300.3M391.9 298.3L394.8 300.3M399.0 300.8L394.7 302.9M394.7 302.9L398.0 304.4M399.0 300.8L398.0 304.4M394.8 300.3L399.0 300.8M394.8 300.3L394.7 302.9M391.1 301.1L394.7 302.9M391.1 301.1L391.2 304.0M391.2 304.0L394.7 302.9M154.8 361.9L151.2 362.9M154.8 361.9L154.1 364.7M140.9 344.3L143.8 346.4M145.0 343.5L143.8 346.4M147.6 345.6L143.8 346.4M143.8 346.4L139.7 347.4M143.8 346.4L143.1 349.4M143.8 346.4L146.9 348.4M174.2 375.2L177.4 375.9M174.2 375.2L174.8 377.9M174.2 375.2L171.3 376.7M170.9 374.1L174.2 375.2M173.8 372.7L174.2 375.2M169.4 381.4L173.5 381.2M173.5 381.2L171.8 383.8M171.8 379.1L173.5 381.2M173.5 381.2L176.0 383.1M176.8 380.4L173.5 381.2M174.8 377.9L173.5 381.2M442.8 353.0L441.2 358.3M442.8 353.0L436.3 355.3M442.8 353.0L437.8 350.6M437.8 350.6L436.3 355.3M421.4 368.3L420.9 372.5M421.4 368.3L415.8 370.4M425.5 364.9L421.4 368.3M421.4 368.3L428.2 369.3M430.0 356.5L436.3 355.3M430.0 356.5L434.4 360.0M403.4 357.7L407.9 358.0M407.9 358.0L405.3 360.5M405.6 355.2L407.9 358.0M410.0 355.0L407.9 358.0M407.9 358.0L410.1 361.0M407.9 358.0L412.7 358.1M412.7 358.1L410.1 361.0M434.2 347.4L437.8 350.6M436.2 343.1L434.2 347.4M430.8 340.0L436.2 343.1M372.7 348.2L372.6 350.7M376.0 349.1L372.6 350.7M377.2 351.3L372.6 350.7M372.6 350.7L374.4 352.5M357.8 347.1L357.8 349.3M357.8 347.1L360.6 348.0M355.3 346.1L357.8 347.1M357.6 344.8L357.8 347.1M357.8 347.1L355.2 348.3M360.4 345.7L357.8 347.1M363.1 337.7L366.3 338.1M366.3 338.1L369.7 338.6M368.5 336.3L366.3 338.1M360.1 337.4L358.0 338.9M360.1 337.4L361.0 339.5M360.1 337.4L363.1 337.7M401.0 360.1L397.1 359.7M399.3 357.4L397.1 359.7M395.6 357.1L397.1 359.7M397.1 359.7L398.4 362.4M397.1 359.7L394.7 361.8M401.0 360.1L398.4 362.4M402.4 363.0L399.5 365.3M402.4 363.0L403.6 366.1M398.4 362.4L402.4 363.0M402.4 363.0L406.8 363.5M401.0 360.1L402.4 363.0M405.3 360.5L402.4 363.0M377.0 356.3L380.2 357.1M379.7 354.8L380.2 357.1M389.4 350.0L387.7 353.3M387.7 353.3L391.0 352.7M386.5 351.2L387.7 353.3M387.7 353.3L389.4 355.6M391.0 352.7L389.4 355.6M387.7 353.3L385.8 355.4M385.8 355.4L389.4 355.6M349.2 359.1L348.8 361.2M351.5 360.4L348.8 361.2M362.4 358.9L364.9 360.4M362.4 358.9L362.0 361.3M364.9 360.4L362.0 361.3M364.9 360.4L367.4 361.8M367.8 359.4L367.4 361.8M367.8 359.4L364.9 360.4M364.9 360.4L364.4 362.8M367.8 359.4L365.3 357.9M368.2 356.9L367.8 359.4M368.2 356.9L365.3 357.9M365.3 357.9L364.9 360.4M356.7 360.7L353.8 361.6M356.7 360.7L359.1 362.1M354.3 359.5L353.8 361.6M354.3 359.5L356.7 360.7M357.1 358.5L354.3 359.5M357.1 358.5L356.7 360.7M352.0 358.3L354.3 359.5M354.3 359.5L351.5 360.4M351.5 360.4L353.8 361.6M345.9 353.5L343.8 354.8M349.9 357.2L352.0 358.3M349.9 357.2L349.2 359.1M352.5 356.1L349.9 357.2M352.5 356.1L352.0 358.3M350.3 355.1L349.9 357.2M350.3 355.1L347.9 356.2M347.9 356.2L346.9 358.0M344.6 356.9L346.9 358.0M349.9 357.2L346.9 358.0M346.9 358.0L349.2 359.1M373.0 364.6L377.1 365.3M376.1 363.1L373.0 364.6M373.0 364.6L374.7 366.5M370.1 363.3L373.0 364.6M373.0 364.6L369.7 365.6M370.3 360.8L367.4 361.8M367.8 359.4L370.3 360.8M370.3 360.8L370.1 363.3M359.1 362.1L358.6 364.2M361.5 363.7L358.6 364.2M358.6 364.2L361.0 366.1M358.6 364.2L358.0 366.1M358.4 374.4L358.3 376.6M361.2 375.4L358.3 376.6M355.8 373.3L358.4 374.4M358.4 372.2L355.8 373.3M362.2 383.6L361.6 386.2M362.2 383.6L364.9 385.4M362.2 383.6L359.0 384.1M367.0 375.4L363.9 376.5M364.2 374.2L367.0 375.4M364.2 374.2L363.9 376.5M361.2 375.4L363.9 376.5M363.6 372.1L361.1 373.2M360.9 370.9L363.6 372.1M363.6 372.1L364.2 374.2M362.4 358.9L359.5 359.8M359.9 357.5L362.4 358.9M359.9 357.5L359.5 359.8M357.1 358.5L359.5 359.8M359.5 359.8L362.0 361.3M359.5 359.8L359.1 362.1M356.7 360.7L359.5 359.8M373.9 371.3L377.1 370.3M373.9 371.3L376.7 372.8M373.9 371.3L373.4 373.7M371.9 367.3L371.5 369.7M369.7 365.6L371.9 367.3M373.0 364.6L371.9 367.3M374.7 366.5L371.9 367.3M370.1 374.5L369.7 377.0M370.1 374.5L367.0 375.4M367.0 375.4L369.7 377.0M370.1 374.5L373.0 376.1M370.1 374.5L373.4 373.7M377.0 356.3L377.5 358.8M374.2 357.6L377.5 358.8M377.5 358.8L378.7 361.3M377.5 358.8L380.9 359.5M380.2 357.1L377.5 358.8M380.2 357.1L380.9 359.5M386.0 364.5L386.2 366.8M388.5 362.8L386.0 364.5M386.0 364.5L389.3 365.4M386.2 366.8L383.1 367.7M383.1 367.7L380.2 369.0M383.1 350.6L380.5 352.4M379.7 349.8L380.5 352.4M377.2 351.3L380.5 352.4M380.5 352.4L377.2 353.7M380.5 352.4L379.7 354.8M407.2 341.1L403.9 343.1M403.2 340.3L407.2 341.1M371.3 330.2L372.8 332.5M371.3 330.2L369.4 332.1M367.9 329.8L371.3 330.2M367.9 329.8L369.4 332.1M369.8 327.9L371.3 330.2M384.8 334.9L382.4 336.9M381.2 334.9L382.4 336.9M385.9 337.3L382.4 336.9M382.4 336.9L383.0 339.1M383.4 332.8L387.0 332.9M384.8 334.9L387.0 332.9M387.0 332.9L388.3 335.2M348.1 337.4L348.7 339.5M348.1 337.4L351.1 336.9M348.2 332.5L347.7 334.3M346.5 330.7L348.2 332.5M353.8 327.3L355.7 328.9M353.8 327.3L356.7 327.0M360.4 324.2L360.0 326.6M360.4 324.2L362.5 325.4M357.8 325.1L360.4 324.2M358.0 322.9L360.4 324.2M360.6 322.0L360.4 324.2M360.6 322.0L358.0 322.9M363.7 323.2L360.4 324.2M354.8 325.5L357.8 325.1M354.8 325.5L356.7 327.0M355.6 323.6L354.8 325.5M354.8 325.5L353.8 327.3M353.1 323.8L354.8 325.5M366.1 331.8L364.3 333.7M363.0 331.4L366.1 331.8M366.1 331.8L369.4 332.1M366.1 331.8L367.9 329.8M364.6 329.6L366.1 331.8M367.4 334.1L370.7 334.5M369.4 332.1L367.4 334.1M366.1 331.8L367.4 334.1M364.3 333.7L367.4 334.1M367.4 334.1L368.5 336.3M364.3 333.7L362.0 335.5M361.7 333.4L362.0 335.5M362.0 335.5L360.1 337.4M362.0 335.5L363.1 337.7M380.8 312.3L383.3 313.6M383.9 311.2L383.3 313.6M349.9 344.4L352.7 345.2M347.3 344.0L349.9 344.4M368.2 386.9L368.1 389.8M368.2 386.9L364.7 388.0M368.2 386.9L364.9 385.4M371.8 388.1L368.2 386.9M353.3 374.2L353.0 376.3M350.5 372.9L353.3 374.2M359.8 381.8L362.2 383.6M359.8 381.8L359.0 384.1M363.0 381.2L362.2 383.6M363.0 381.2L359.8 381.8M176.3 331.2L172.7 331.1M174.4 329.0L176.3 331.2M169.1 330.9L170.7 333.2M170.7 333.2L167.2 333.2M172.7 331.1L170.7 333.2M176.3 335.7L173.8 337.6M176.4 338.4L173.8 337.6M173.8 337.6L170.6 337.8M167.2 337.8L165.7 340.1M167.2 337.8L170.6 337.8M192.9 346.7L194.9 348.7M195.7 346.8L194.9 348.7M197.6 348.3L194.9 348.7M200.1 347.8L197.6 348.3M200.7 345.9L200.1 347.8M200.1 347.8L199.5 349.7M197.6 348.3L199.5 349.7M162.5 324.7L162.3 326.8M159.6 320.4L155.2 321.1M156.6 319.1L155.2 321.1M153.0 318.9L155.2 321.1M148.9 323.6L144.8 323.2M148.9 323.6L146.2 325.9M148.9 323.6L147.1 320.9M147.1 320.9L144.8 323.2M151.0 321.2L149.2 318.6M151.0 321.2L147.1 320.9M153.0 318.9L151.0 321.2M151.0 321.2L148.9 323.6M153.7 323.1L148.9 323.6M151.0 321.2L153.7 323.1M155.2 321.1L151.0 321.2M155.2 321.1L153.7 323.1M144.1 328.4L139.9 328.2M142.1 325.6L144.1 328.4M146.2 325.9L144.1 328.4M142.1 325.6L139.9 328.2M137.0 325.6L135.3 328.8M137.0 325.6L139.9 328.2M142.1 325.6L137.0 325.6M137.0 325.6L131.6 326.5M131.9 323.1L137.0 325.6M143.5 315.0L138.8 314.2M141.9 311.9L138.8 314.2M137.0 310.9L138.8 314.2M138.8 314.2L133.6 313.4M201.9 319.3L199.2 319.1M199.2 319.1L200.5 320.8M203.1 321.0L200.5 320.8M202.9 323.9L200.3 323.9M204.3 322.6L201.7 322.4M194.1 315.1L192.2 316.8M191.2 314.8L192.2 316.8M191.2 314.8L189.1 316.6M192.2 316.8L189.1 316.6M195.2 317.1L192.2 316.8M192.2 316.8L193.5 318.8M195.2 317.1L193.5 318.8M194.1 315.1L195.2 317.1M198.1 317.3L195.2 317.1M197.0 315.4L195.2 317.1M199.8 315.7L200.8 317.5M200.8 317.5L198.1 317.3M198.1 317.3L199.2 319.1M200.8 317.5L199.2 319.1M202.3 316.0L200.8 317.5M200.8 317.5L201.9 319.3M203.3 312.6L200.7 312.3M203.3 312.6L201.5 314.1M200.3 323.9L199.3 325.8M199.3 325.8L200.0 327.9M186.8 331.2L186.0 333.3M186.8 331.2L189.1 332.6M189.7 330.5L186.8 331.2M187.3 312.1L185.2 313.8M187.3 312.1L184.3 311.4M184.3 311.4L185.2 313.8M189.5 310.4L187.3 312.1M190.3 312.6L187.3 312.1M191.2 314.8L188.2 314.3M190.3 312.6L188.2 314.3M187.3 312.1L188.2 314.3M188.2 314.3L185.2 313.8M188.2 314.3L186.1 316.1M185.2 313.8L186.1 316.1M188.2 314.3L189.1 316.6M189.1 316.6L186.1 316.1M184.3 311.4L182.0 313.1M181.2 310.8L182.0 313.1M185.2 313.8L182.0 313.1M167.4 328.5L163.9 328.7M163.9 328.7L165.6 330.8M162.3 326.8L163.9 328.7M161.7 330.8L163.8 332.9M165.6 330.8L161.7 330.8M163.9 328.7L161.7 330.8M156.1 337.8L159.6 338.0M159.6 338.0L158.0 340.1M158.0 335.4L159.6 338.0M161.6 336.3L159.6 338.0M150.1 331.2L152.2 333.2M144.3 338.6L146.7 340.8M144.3 338.6L142.4 341.4M144.3 338.6L139.9 339.0M197.7 375.6L196.2 377.3M194.9 375.3L197.7 375.6M196.6 373.6L197.7 375.6M179.3 369.8L176.6 371.2M176.6 371.2L179.7 372.1M176.3 368.8L176.6 371.2M176.6 371.2L173.8 372.7M173.5 370.2L176.6 371.2M438.3 323.4L437.9 328.5M437.9 328.5L444.0 325.9M437.9 328.5L431.7 330.4M403.0 312.1L402.0 315.1M402.0 315.1L405.3 317.7M405.3 317.7L409.6 316.6M398.5 336.8L396.0 338.8M396.0 338.8L399.4 339.5M398.5 336.8L399.4 339.5M396.0 338.8L396.7 341.5M396.0 338.8L393.3 340.9M392.6 338.2L396.0 338.8M417.2 324.1L421.0 326.9M409.8 330.9L414.1 330.6M409.8 330.9L411.8 333.5M415.7 327.5L421.0 326.9M415.7 327.5L419.2 330.4M415.7 327.5L414.1 330.6M417.2 324.1L415.7 327.5M409.2 336.2L410.8 339.2M413.7 336.4L410.8 339.2M410.8 339.2L415.4 339.1M410.8 339.2L407.2 341.1M410.8 339.2L415.5 342.0M180.1 287.3L176.8 285.9M180.3 284.5L180.1 287.3M183.5 286.1L180.1 287.3M180.1 287.3L176.9 288.8M186.3 287.7L183.5 286.1M187.1 285.3L186.3 287.7M199.6 299.3L196.9 298.5M356.5 307.7L355.4 309.7M363.3 316.8L365.2 318.9M363.3 316.8L366.6 316.8M359.9 319.9L360.6 322.0M359.9 319.9L363.1 320.8M344.8 314.6L346.7 316.0M347.3 314.1L346.7 316.0M344.8 314.6L347.3 314.1M354.3 311.6L357.3 311.5M357.3 311.5L356.0 313.6M345.5 312.6L348.2 312.1M345.5 312.6L347.3 314.1M348.2 312.1L347.3 314.1M345.5 312.6L344.8 314.6M349.4 310.3L348.2 312.1M350.6 308.4L353.6 308.0M351.7 306.4L353.6 308.0M353.6 308.0L356.5 307.7M353.6 308.0L355.4 309.7M346.6 310.5L348.2 312.1M346.6 310.5L349.4 310.3M345.4 308.3L346.6 310.5M346.6 310.5L345.5 312.6M343.5 311.5L346.6 310.5M342.2 324.0L340.3 325.8M345.3 324.7L346.5 323.0M345.3 324.7L347.9 324.4M345.3 324.7L342.6 325.6M342.2 324.0L345.3 324.7M342.7 322.1L342.2 324.0M355.6 304.0L354.6 306.0M352.6 304.5L355.6 304.0M352.6 304.5L354.6 306.0M354.6 306.0L353.6 308.0M354.6 306.0L356.5 307.7M354.6 306.0L357.6 305.6M351.7 306.4L354.6 306.0M353.6 302.6L355.6 304.0M353.6 302.6L352.6 304.5M351.5 301.2L353.6 302.6M354.4 300.6L353.6 302.6M353.6 302.6L356.6 302.0M350.7 303.0L353.6 302.6M361.8 302.8L364.7 303.1M364.7 303.1L363.6 305.0M365.1 301.1L364.7 303.1M364.7 303.1L366.9 304.6M364.7 303.1L367.7 302.5M365.1 301.1L367.7 302.5M377.6 288.3L377.6 291.1M374.5 290.3L377.6 291.1M378.0 297.6L378.6 295.0M375.1 295.9L378.6 295.0M375.1 295.9L378.0 297.6M378.0 297.6L381.4 296.9M378.0 297.6L380.7 299.5M378.0 297.6L376.9 299.9M373.7 300.8L376.9 299.9M373.7 300.8L376.0 302.4M371.2 299.3L373.7 300.8M371.2 299.3L370.7 301.6M370.7 301.6L373.7 300.8M373.7 300.8L373.0 303.2M375.1 295.9L374.4 298.3M371.7 296.9L375.1 295.9M371.7 296.9L374.4 298.3M374.4 298.3L373.7 300.8M374.4 298.3L376.9 299.9M374.4 298.3L378.0 297.6M371.2 299.3L374.4 298.3M365.4 299.0L368.5 298.0M365.7 296.8L368.5 298.0M365.7 296.8L365.4 299.0M362.5 300.3L365.4 299.0M365.4 299.0L365.1 301.1M381.5 307.3L381.3 309.8M381.5 307.3L378.5 308.4M381.5 307.3L384.4 308.7M381.5 307.3L384.7 306.2M388.0 302.4L391.1 301.1M388.0 302.4L391.2 304.0M388.0 299.1L388.0 302.4M385.0 301.0L388.0 302.4M387.9 305.1L384.7 306.2M387.9 305.1L387.6 307.8M387.9 305.1L390.9 306.8M387.6 307.8L390.9 306.8M391.2 304.0L390.9 306.8M387.9 305.1L391.2 304.0M388.0 302.4L387.9 305.1M380.7 299.5L381.9 302.3M385.0 301.0L381.9 302.3M379.0 301.5L381.9 302.3M364.7 308.8L368.0 308.4M364.7 308.8L365.8 306.7M364.7 308.8L363.5 311.0M362.6 307.0L364.7 308.8M354.9 292.3L355.6 294.4M354.9 292.3L357.0 290.9M357.8 293.1L360.3 291.7M357.0 290.9L357.8 293.1M354.9 292.3L357.8 293.1M355.6 294.4L357.8 293.1M357.8 293.1L358.1 295.4M363.8 287.9L361.5 289.6M361.5 289.6L364.4 290.5M363.8 287.9L364.4 290.5M361.5 289.6L360.3 291.7M358.6 289.1L361.5 289.6M360.4 287.2L363.8 287.9M362.6 285.3L363.8 287.9M362.6 285.3L360.4 287.2M360.4 287.2L358.6 289.1M371.0 289.4L373.9 287.6M371.0 289.4L370.0 286.9M371.0 289.4L374.5 290.3M371.0 289.4L371.9 292.0M374.5 290.3L371.9 292.0M363.1 295.4L365.9 294.5M363.1 295.4L365.7 296.8M365.9 294.5L365.7 296.8M363.1 292.9L365.9 294.5M363.1 292.9L363.1 295.4M372.2 294.5L375.1 295.9M372.2 294.5L371.7 296.9M139.2 297.3L134.2 299.0M139.2 297.3L134.4 294.9M140.1 293.4L139.2 297.3M144.1 296.0L139.2 297.3M139.2 297.3L139.1 301.2M139.2 297.3L143.5 299.6M144.1 296.0L143.5 299.6M145.2 292.2L148.8 294.9M148.8 294.9L144.1 296.0M153.6 294.2L148.8 294.9M148.8 294.9L152.2 297.3M147.9 298.3L143.5 299.6M147.9 298.3L147.4 301.6M148.8 294.9L147.9 298.3M152.2 297.3L147.9 298.3M144.1 296.0L147.9 298.3M173.0 284.5L172.3 281.3M176.4 279.6L172.3 281.3M171.6 277.8L172.3 281.3M176.6 282.8L172.3 281.3M176.4 314.1L173.9 315.8M173.1 313.5L173.9 315.8M173.9 315.8L170.6 315.3M173.9 315.8L171.5 317.7M178.1 310.1L178.8 312.4M178.1 310.1L175.6 311.8M175.6 311.8L178.8 312.4M178.8 312.4L176.4 314.1M181.2 310.8L178.8 312.4M182.0 313.1L178.8 312.4M175.9 320.6L174.0 322.5M177.7 322.9L174.0 322.5M175.9 320.6L177.7 322.9M172.5 320.1L174.0 322.5M175.9 320.6L172.5 320.1M175.9 320.6L178.9 320.8M178.9 320.8L177.7 322.9M192.2 316.8L190.4 318.7M189.1 316.6L190.4 318.7M193.5 318.8L190.4 318.7M186.5 309.8L184.3 311.4M186.5 309.8L183.5 309.1M189.5 310.4L186.5 309.8M188.8 308.2L186.5 309.8M186.5 309.8L187.3 312.1M185.8 307.5L186.5 309.8M189.5 300.2L189.9 302.3M179.8 306.1L180.5 308.5M179.8 306.1L182.9 306.8M179.8 306.1L176.8 305.4M179.2 303.8L179.8 306.1M179.8 306.1L177.4 307.8M174.9 309.5L171.7 308.8M174.3 307.1L174.9 309.5M178.1 310.1L174.9 309.5M174.9 309.5L175.6 311.8M174.9 309.5L172.4 311.2M177.4 307.8L174.9 309.5M173.6 293.0L169.7 291.9M173.8 290.5L173.6 293.0M173.6 293.0L170.8 294.6M177.0 291.6L173.6 293.0M170.8 294.6L171.7 297.3M426.5 306.8L428.6 311.6M426.5 306.8L432.7 307.8M414.7 305.6L417.1 309.1M430.1 302.9L433.5 298.6M430.1 302.9L436.7 303.6M430.1 302.9L426.5 306.8M430.1 302.9L432.7 307.8M399.6 291.6L402.5 294.0M403.0 289.0L402.5 294.0M402.5 294.0L406.8 292.1M406.8 292.1L410.6 295.2M412.4 291.0L410.6 295.2M394.4 305.8L397.2 307.7M394.4 305.8L393.7 308.7M393.7 308.7L397.2 307.7M390.9 306.8L394.4 305.8M390.9 306.8L393.7 308.7M398.0 304.4L394.4 305.8M394.7 302.9L394.4 305.8M391.2 304.0L394.4 305.8M409.7 305.3L414.7 305.6M409.7 305.3L407.5 308.2M146.1 357.1L147.2 360.4M146.1 357.1L143.1 359.0M146.3 354.0L146.1 357.1M410.1 361.0L415.3 361.6M415.3 361.6L411.6 364.4M412.7 358.1L415.3 361.6M429.7 344.4L427.9 348.8M427.9 348.8L434.2 347.4M429.7 344.4L434.2 347.4M424.9 341.9L429.7 344.4M430.8 340.0L429.7 344.4M429.7 344.4L436.2 343.1M427.9 348.8L431.8 352.0M427.9 348.8L425.9 353.1M425.9 353.1L431.8 352.0M431.8 352.0L430.0 356.5M431.8 352.0L436.3 355.3M425.9 353.1L430.0 356.5M431.8 352.0L437.8 350.6M434.2 347.4L431.8 352.0M429.7 344.4L423.7 346.1M424.9 341.9L423.7 346.1M423.7 346.1L427.9 348.8M430.0 356.5L423.9 357.3M425.9 353.1L423.9 357.3M420.1 354.2L423.9 357.3M425.9 353.1L420.1 354.2M421.7 361.0L427.9 360.8M421.7 361.0L425.5 364.9M427.9 360.8L425.5 364.9M430.0 356.5L427.9 360.8M427.9 360.8L434.4 360.0M423.9 357.3L427.9 360.8M423.9 357.3L421.7 361.0M427.9 360.8L431.8 364.7M420.1 354.2L418.0 358.0M420.1 354.2L414.9 354.8M414.9 354.8L418.0 358.0M418.0 358.0L412.7 358.1M418.0 358.0L423.9 357.3M418.0 358.0L421.7 361.0M418.0 358.0L415.3 361.6M421.7 361.0L415.3 361.6M432.2 335.6L430.8 340.0M425.1 337.6L432.2 335.6M427.5 333.7L432.2 335.6M431.7 330.4L432.2 335.6M368.6 354.5L371.4 356.0M374.3 355.0L371.4 356.0M368.6 354.5L368.2 356.9M368.2 356.9L371.4 356.0M371.4 356.0L374.2 357.6M383.4 357.5L380.9 359.5M380.2 357.1L383.4 357.5M394.8 352.9L393.1 354.9M391.0 352.7L393.1 354.9M393.1 354.9L389.4 355.6M397.3 354.8L393.1 354.9M393.1 354.9L395.6 357.1M353.8 361.6L351.0 362.5M351.5 360.4L351.0 362.5M348.8 361.2L351.0 362.5M348.8 361.2L348.4 363.3M348.4 363.3L351.0 362.5M365.6 355.4L365.3 357.9M365.6 355.4L368.2 356.9M368.6 354.5L365.6 355.4M363.0 354.0L365.6 355.4M362.7 356.5L362.4 358.9M362.7 356.5L359.9 357.5M362.7 356.5L365.3 357.9M360.2 355.1L362.7 356.5M362.7 356.5L365.6 355.4M363.0 354.0L362.7 356.5M354.7 357.3L354.3 359.5M354.7 357.3L357.1 358.5M354.7 357.3L357.5 356.2M352.5 356.1L354.7 357.3M354.7 357.3L352.0 358.3M355.1 355.0L354.7 357.3M344.6 356.9L344.5 358.9M346.9 358.0L344.5 358.9M370.3 360.8L373.0 362.2M373.0 362.2L370.1 363.3M373.0 362.2L373.0 364.6M373.0 362.2L376.1 363.1M353.3 372.2L350.5 372.9M353.3 372.2L353.3 374.2M353.3 372.2L355.8 373.3M355.8 373.3L353.3 374.2M355.8 373.3L355.7 375.4M358.4 374.4L355.7 375.4M355.7 375.4L358.3 376.6M355.7 375.4L355.6 377.6M358.3 376.6L355.6 377.6M353.0 376.3L355.7 375.4M353.3 374.2L355.7 375.4M365.4 382.8L362.2 383.6M363.0 381.2L365.4 382.8M368.8 382.0L365.4 382.8M365.4 382.8L364.9 385.4M360.9 377.6L358.3 376.6M361.2 375.4L360.9 377.6M363.9 376.5L360.9 377.6M366.2 380.3L365.4 382.8M363.0 381.2L366.2 380.3M366.2 380.3L368.8 382.0M369.3 379.5L366.2 380.3M369.7 377.0L366.7 377.9M367.0 375.4L366.7 377.9M363.9 376.5L366.7 377.9M366.7 377.9L369.3 379.5M366.7 377.9L366.2 380.3M374.4 368.9L373.9 371.3M371.5 369.7L374.4 368.9M371.5 369.7L373.9 371.3M374.4 368.9L377.1 370.3M371.9 367.3L374.4 368.9M374.7 366.5L374.4 368.9M377.4 367.8L374.4 368.9M373.9 371.3L370.7 372.2M371.5 369.7L370.7 372.2M370.7 372.2L373.4 373.7M370.7 372.2L370.1 374.5M367.3 373.1L370.1 374.5M367.3 373.1L367.0 375.4M367.3 373.1L364.2 374.2M370.7 372.2L367.3 373.1M363.6 372.1L367.3 373.1M380.2 366.4L383.1 367.7M377.1 365.3L380.2 366.4M380.2 366.4L377.4 367.8M380.2 366.4L380.2 369.0M379.6 363.8L380.2 366.4M384.1 353.0L387.7 353.3M386.5 351.2L384.1 353.0M384.1 353.0L385.8 355.4M383.1 350.6L384.1 353.0M380.5 352.4L384.1 353.0M396.3 331.0L399.7 331.8M396.3 331.0L397.4 334.0M399.7 331.8L397.4 334.0M394.8 328.4L396.3 331.0M394.8 328.4L392.8 330.8M392.8 330.8L396.3 331.0M398.5 328.6L399.7 331.8M398.5 328.6L396.3 331.0M394.8 328.4L398.5 328.6M396.3 331.0L394.1 333.3M394.1 333.3L397.4 334.0M392.8 330.8L394.1 333.3M377.8 335.2L379.2 337.8M381.2 334.9L379.2 337.8M379.2 337.8L382.4 336.9M375.6 337.2L379.2 337.8M379.2 337.8L376.7 339.7M379.2 337.8L383.0 339.1M346.1 342.2L347.3 344.0M341.8 327.1L343.0 329.1M362.0 335.5L365.2 335.9M365.2 335.9L363.1 337.7M364.3 333.7L365.2 335.9M365.2 335.9L366.3 338.1M365.2 335.9L368.5 336.3M367.4 334.1L365.2 335.9M376.3 317.8L378.5 319.8M374.9 319.9L378.5 319.8M350.5 346.2L353.0 347.1M348.7 370.6L350.5 372.9M347.8 368.8L348.7 370.6M355.1 379.8L356.9 381.7M356.9 381.7L359.0 384.1M356.9 381.7L359.8 381.8M172.5 335.4L173.8 337.6M176.3 335.7L172.5 335.4M172.5 335.4L170.6 337.8M192.9 346.7L192.3 349.2M190.5 347.7L192.3 349.2M194.9 348.7L192.3 349.2M192.3 349.2L194.1 350.8M194.9 348.7L194.1 350.8M192.3 349.2L191.1 351.3M192.3 349.2L189.2 349.7M162.5 324.7L159.1 325.6M162.3 326.8L159.1 325.6M136.0 316.7L130.5 316.5M199.3 325.8L201.7 326.7M191.0 306.6L191.7 308.8M191.0 306.6L188.8 308.2M191.0 306.6L188.1 306.0M193.3 305.2L191.0 306.6M195.2 317.1L196.4 318.9M196.4 318.9L193.5 318.8M198.1 317.3L196.4 318.9M199.2 319.1L196.4 318.9M201.7 322.4L199.0 322.4M190.4 318.7L192.1 320.6M193.5 318.8L192.1 320.6M205.3 311.2L202.6 310.8M205.3 311.2L203.3 312.6M199.3 325.8L196.6 325.8M186.8 331.2L183.5 331.6M183.5 331.6L186.0 333.3M183.5 331.6L183.1 334.1M183.5 331.6L180.7 332.7M176.4 326.9L173.0 326.6M173.0 326.6L174.4 329.0M176.4 326.9L174.4 329.0M173.0 326.6L170.9 328.7M186.1 316.1L183.0 315.4M185.2 313.8L183.0 315.4M182.0 313.1L183.0 315.4M183.0 315.4L183.9 317.7M183.0 315.4L180.6 317.0M183.9 317.7L180.6 317.0M186.1 316.1L183.9 317.7M157.7 330.5L155.8 333.0M163.8 332.9L159.3 332.7M159.3 332.7L161.5 334.3M161.7 330.8L159.3 332.7M157.7 330.5L159.3 332.7M161.7 330.8L157.7 330.5M159.3 332.7L155.8 333.0M159.3 332.7L158.0 335.4M163.8 338.0L159.6 338.0M161.6 336.3L163.8 338.0M167.2 337.8L163.8 338.0M163.8 338.0L165.7 340.1M165.1 335.4L163.8 338.0M165.1 335.4L167.2 337.8M176.6 371.2L176.9 373.6M173.8 372.7L176.9 373.6M176.9 373.6L174.2 375.2M176.9 373.6L177.4 375.9M176.9 373.6L180.1 374.4M179.7 372.1L176.9 373.6M401.8 327.1L405.5 327.7M404.2 324.7L405.5 327.7M404.2 324.7L401.8 327.1M405.5 327.7L402.1 329.8M402.1 329.8L406.0 330.4M405.5 327.7L406.0 330.4M401.8 327.1L402.1 329.8M402.1 329.8L399.7 331.8M398.5 328.6L402.1 329.8M398.5 328.6L401.8 327.1M395.1 336.1L396.0 338.8M395.1 336.1L398.5 336.8M397.4 334.0L398.5 336.8M397.4 334.0L395.1 336.1M391.7 335.6L395.1 336.1M395.1 336.1L392.6 338.2M394.1 333.3L395.1 336.1M394.1 333.3L391.7 335.6M406.2 338.3L407.2 341.1M406.2 338.3L403.2 340.3M409.2 336.2L406.2 338.3M406.2 338.3L410.8 339.2M418.3 320.5L417.2 324.1M409.0 319.7L409.6 316.6M405.3 317.7L409.0 319.7M405.3 317.7L405.4 321.6M405.4 321.6L409.0 319.7M406.0 330.4L409.8 330.9M410.7 328.0L409.8 330.9M410.7 328.0L414.1 330.6M410.7 328.0L415.7 327.5M410.7 328.0L406.0 330.4M405.5 327.7L410.7 328.0M180.1 290.1L177.0 291.6M180.1 290.1L176.9 288.8M180.1 287.3L180.1 290.1M183.1 288.8L180.1 287.3M183.5 286.1L183.1 288.8M186.3 287.7L183.1 288.8M183.1 288.8L180.1 290.1M188.8 293.6L186.1 294.8M186.1 294.8L188.9 295.8M188.8 293.6L188.9 295.8M186.1 294.8L186.3 297.1M188.9 295.8L186.3 297.1M194.3 293.3L194.0 295.6M196.3 294.5L194.0 295.6M365.6 312.8L364.5 314.9M364.5 314.9L367.8 314.7M364.5 314.9L366.6 316.8M364.5 314.9L363.3 316.8M357.4 320.9L360.6 322.0M357.4 320.9L358.0 322.9M357.4 320.9L359.9 319.9M357.4 320.9L354.5 321.8M363.3 316.8L362.1 318.7M362.1 318.7L365.2 318.9M362.1 318.7L363.1 320.8M359.9 319.9L362.1 318.7M359.9 317.2L363.3 316.8M359.9 317.2L362.1 318.7M359.9 317.2L359.9 319.9M359.1 313.4L361.0 315.2M361.0 315.2L363.3 316.8M361.0 315.2L359.9 317.2M361.0 315.2L364.5 314.9M344.8 314.6L344.3 316.6M359.1 313.4L357.7 315.6M361.0 315.2L357.7 315.6M357.7 315.6L359.9 317.2M347.3 314.1L349.2 315.5M352.4 310.0L355.4 309.7M353.6 308.0L352.4 310.0M350.6 308.4L352.4 310.0M350.6 308.4L349.4 310.3M349.4 310.3L352.4 310.0M347.9 308.6L346.6 310.5M347.9 308.6L349.4 310.3M347.9 308.6L350.6 308.4M349.0 306.7L347.9 308.6M346.6 306.8L347.9 308.6M371.9 292.0L375.5 293.2M374.5 290.3L375.5 293.2M377.6 291.1L375.5 293.2M372.2 294.5L375.5 293.2M371.9 292.0L372.2 294.5M375.1 295.9L375.5 293.2M375.5 293.2L378.6 295.0M375.5 293.2L380.2 292.6M377.6 291.1L380.2 292.6M377.6 291.1L381.0 289.7M377.6 288.3L381.0 289.7M381.2 286.6L381.0 289.7M381.0 289.7L380.2 292.6M381.0 289.7L384.0 291.5M381.0 289.7L384.8 288.3M365.4 299.0L368.2 300.2M368.5 298.0L368.2 300.2M368.2 300.2L367.7 302.5M368.2 300.2L370.7 301.6M365.1 301.1L368.2 300.2M368.2 300.2L371.2 299.3M362.9 297.9L362.5 300.3M360.2 299.0L362.9 297.9M362.9 297.9L365.4 299.0M360.5 296.6L362.9 297.9M362.9 297.9L365.7 296.8M362.9 297.9L363.1 295.4M360.5 296.6L363.1 295.4M384.9 303.7L387.9 305.1M384.9 303.7L384.7 306.2M388.0 302.4L384.9 303.7M385.0 301.0L384.9 303.7M381.9 302.3L384.9 303.7M378.4 306.1L381.5 307.3M378.4 306.1L378.5 308.4M378.4 306.1L374.9 307.2M375.6 304.8L378.4 306.1M368.0 308.4L366.8 310.6M364.7 308.8L366.8 310.6M366.8 310.6L365.6 312.8M363.5 311.0L366.8 310.6M357.8 293.1L360.5 294.1M358.1 295.4L360.5 294.1M360.5 294.1L363.1 295.4M360.5 294.1L363.1 292.9M360.5 294.1L360.3 291.7M360.5 294.1L360.5 296.6M363.8 287.9L366.3 286.1M365.3 283.4L366.3 286.1M366.3 286.1L370.0 286.9M362.6 285.3L366.3 286.1M147.9 298.3L151.4 300.3M151.4 300.3L147.4 301.6M152.2 297.3L151.4 300.3M151.4 300.3L151.2 303.4M154.7 302.1L151.4 300.3M155.4 299.4L151.4 300.3M177.2 316.3L173.9 315.8M176.4 314.1L177.2 316.3M178.8 312.4L179.7 314.7M182.0 313.1L179.7 314.7M183.0 315.4L179.7 314.7M179.7 314.7L180.6 317.0M179.7 314.7L177.2 316.3M180.6 317.0L177.2 316.3M179.7 314.7L176.4 314.1M174.0 322.5L175.3 324.7M176.4 326.9L175.3 324.7M178.9 325.1L176.4 326.9M175.3 324.7L173.0 326.6M183.9 317.7L181.3 319.2M180.6 317.0L181.3 319.2M184.1 320.1L181.3 319.2M183.9 317.7L184.1 320.1M181.6 321.7L178.9 320.8M181.6 321.7L177.7 322.9M181.3 319.2L181.6 321.7M184.1 320.1L181.6 321.7M181.3 319.2L178.9 320.8M181.7 323.9L178.9 325.1M181.7 323.9L177.7 322.9M181.6 321.7L181.7 323.9M189.5 300.2L186.6 299.3M186.3 297.1L186.6 299.3M189.1 298.0L186.3 297.1M188.9 295.8L189.1 298.0M191.6 296.8L189.1 298.0M191.6 296.8L188.9 295.8M189.1 298.0L186.6 299.3M189.1 298.0L189.5 300.2M191.9 298.9L189.5 300.2M189.1 298.0L191.9 298.9M191.6 296.8L191.9 298.9M173.6 293.0L174.3 295.6M174.3 295.6L170.8 294.6M174.3 295.6L171.7 297.3M171.7 297.3L172.5 299.8M172.5 299.8L173.1 302.3M175.6 300.6L172.5 299.8M172.5 299.8L169.9 301.6M420.5 305.9L426.5 306.8M414.7 305.6L420.5 305.9M420.5 305.9L417.1 309.1M418.7 313.0L422.7 310.2M417.1 309.1L422.7 310.2M420.5 305.9L422.7 310.2M426.5 306.8L422.7 310.2M422.7 310.2L428.6 311.6M412.0 302.1L417.6 302.1M400.8 306.6L404.9 305.6M404.9 305.6L403.6 309.0M404.9 305.6L407.5 308.2M404.9 305.6L409.7 305.3M419.4 364.3L415.3 361.6M421.7 361.0L419.4 364.3M419.4 364.3L421.4 368.3M419.4 364.3L425.5 364.9M415.5 342.0L419.5 343.9M420.3 340.2L419.5 343.9M419.5 343.9L424.9 341.9M419.5 343.9L423.7 346.1M422.1 350.2L420.1 354.2M422.1 350.2L425.9 353.1M427.9 348.8L422.1 350.2M423.7 346.1L422.1 350.2M371.4 356.0L370.8 358.3M370.8 358.3L374.2 357.6M370.8 358.3L370.3 360.8M367.8 359.4L370.8 358.3M368.2 356.9L370.8 358.3M393.5 359.3L397.1 359.7M393.5 359.3L394.7 361.8M395.6 357.1L393.5 359.3M393.1 354.9L392.1 357.0M389.4 355.6L392.1 357.0M392.1 357.0L389.8 358.6M389.4 355.6L389.8 358.6M392.1 357.0L393.5 359.3M389.8 358.6L393.5 359.3M392.1 357.0L395.6 357.1M387.5 360.4L388.5 362.8M389.4 355.6L386.7 357.8M385.8 355.4L386.7 357.8M386.7 357.8L389.8 358.6M383.4 357.5L386.7 357.8M385.8 355.4L383.4 357.5M386.7 357.8L387.5 360.4M389.8 358.6L387.5 360.4M350.2 351.0L348.0 352.3M348.0 352.3L345.9 353.5M344.5 358.9L346.6 360.0M346.6 360.0L348.8 361.2M349.2 359.1L346.6 360.0M346.9 358.0L346.6 360.0M377.5 358.8L375.7 360.7M374.2 357.6L375.7 360.7M375.7 360.7L378.7 361.3M375.7 360.7L376.1 363.1M375.7 360.7L373.0 362.2M351.0 371.0L350.5 372.9M351.0 371.0L353.3 372.2M358.3 370.0L360.9 370.9M358.3 370.0L358.4 372.2M358.1 367.9L358.3 370.0M360.8 368.5L358.3 370.0M360.6 379.7L359.8 381.8M363.0 381.2L360.6 379.7M360.9 377.6L363.6 378.8M363.9 376.5L363.6 378.8M366.7 377.9L363.6 378.8M363.6 378.8L366.2 380.3M363.6 378.8L360.6 379.7M360.9 377.6L360.6 379.7M363.6 378.8L363.0 381.2M380.5 352.4L382.6 355.1M379.7 354.8L382.6 355.1M384.1 353.0L382.6 355.1M382.6 355.1L385.8 355.4M382.6 355.1L383.4 357.5M382.6 355.1L380.2 357.1M394.1 333.3L390.6 333.1M390.6 333.1L391.7 335.6M390.6 333.1L388.3 335.2M387.0 332.9L390.6 333.1M392.8 330.8L390.6 333.1M376.7 339.7L380.1 340.4M380.1 340.4L383.0 339.1M380.1 340.4L377.6 342.2M380.1 340.4L381.0 343.1M380.1 340.4L383.7 341.5M352.1 325.6L354.8 325.5M352.1 325.6L353.8 327.3M353.1 323.8L352.1 325.6M350.5 324.1L352.1 325.6M349.5 325.8L352.1 325.6M376.3 317.8L379.9 317.5M377.3 315.6L379.9 317.5M379.9 317.5L378.5 319.8M390.9 306.8L390.4 309.5M390.4 309.5L393.7 308.7M387.6 307.8L390.4 309.5M383.3 313.6L386.4 312.9M383.9 311.2L386.4 312.9M400.5 317.7L405.3 317.7M402.0 315.1L400.5 317.7M396.5 325.9L394.8 328.4M396.5 325.9L398.5 328.6M174.3 333.4L176.3 335.7M177.6 333.3L174.3 333.4M174.3 333.4L172.5 335.4M176.3 331.2L174.3 333.4M176.3 331.2L177.6 333.3M172.7 331.1L174.3 333.4M174.3 333.4L170.7 333.2M170.7 333.2L172.5 335.4M168.8 335.5L167.2 337.8M168.8 335.5L170.6 337.8M172.5 335.4L168.8 335.5M168.8 335.5L165.1 335.4M167.2 333.2L168.8 335.5M170.7 333.2L168.8 335.5M159.1 325.6L155.7 325.3M153.7 323.1L155.7 325.3M147.8 328.7L144.1 328.4M146.2 325.9L147.8 328.7M147.8 328.7L150.1 331.2M190.4 304.5L191.0 306.6M193.3 305.2L190.4 304.5M192.7 303.1L190.4 304.5M192.7 303.1L193.3 305.2M192.7 303.1L189.9 302.3M190.4 304.5L189.9 302.3M190.4 304.5L188.1 306.0M201.2 307.0L198.7 306.4M198.7 306.4L199.3 308.4M200.5 320.8L197.7 320.7M199.2 319.1L197.7 320.7M197.7 320.7L199.0 322.4M196.4 318.9L197.7 320.7M197.7 320.7L196.4 322.4M199.0 322.4L196.4 322.4M199.3 325.8L197.8 324.1M199.0 322.4L197.8 324.1M196.4 322.4L197.8 324.1M196.4 322.4L195.0 324.2M197.8 324.1L195.0 324.2M195.0 324.2L196.6 325.8M177.8 329.1L176.3 331.2M177.8 329.1L174.4 329.0M176.4 326.9L177.8 329.1M187.1 318.5L183.9 317.7M187.1 318.5L184.1 320.1M187.1 318.5L190.4 318.7M189.1 316.6L187.1 318.5M186.1 316.1L187.1 318.5M160.1 328.5L157.7 330.5M160.1 328.5L161.7 330.8M159.1 325.6L160.1 328.5M162.3 326.8L160.1 328.5M163.9 328.7L160.1 328.5M163.8 338.0L161.8 340.1M159.6 338.0L161.8 340.1M158.0 340.1L161.8 340.1M161.8 340.1L160.1 342.3M161.8 340.1L163.8 342.3M165.7 340.1L161.8 340.1M409.0 322.9L404.2 324.7M405.4 321.6L409.0 322.9M405.4 321.6L404.2 324.7M409.0 319.7L409.0 322.9M194.6 299.7L192.3 301.0M194.6 299.7L191.9 298.9M191.9 298.9L192.3 301.0M192.7 303.1L192.3 301.0M192.3 301.0L189.9 302.3M189.5 300.2L192.3 301.0M194.3 297.7L194.6 299.7M196.9 298.5L194.6 299.7M196.9 298.5L194.3 297.7M194.3 297.7L191.9 298.9M191.6 296.8L194.3 297.7M194.0 295.6L194.3 297.7M194.0 295.6L191.6 296.8M197.4 300.5L196.9 298.5M199.6 299.3L197.4 300.5M197.4 300.5L194.6 299.7M180.1 290.1L180.1 292.7M180.1 292.7L177.0 291.6M180.3 295.1L180.1 292.7M183.1 293.8L180.3 295.1M183.1 293.8L180.1 292.7M189.8 287.2L191.8 289.7M189.8 287.2L187.1 285.3M189.8 287.2L186.3 287.7M185.9 290.2L183.1 288.8M186.3 287.7L185.9 290.2M180.3 295.1L177.1 294.1M177.1 294.1L177.6 296.6M180.3 295.1L177.6 296.6M177.1 294.1L174.3 295.6M177.6 296.6L174.3 295.6M180.1 292.7L177.1 294.1M177.0 291.6L177.1 294.1M177.1 294.1L173.6 293.0M180.3 295.1L183.3 296.1M183.1 293.8L183.3 296.1M186.3 297.1L183.3 296.1M186.1 294.8L183.3 296.1M191.6 296.8L191.6 294.5M194.0 295.6L191.6 294.5M188.8 293.6L191.6 294.5M191.5 292.4L191.6 294.5M191.5 292.4L188.8 293.6M191.6 294.5L188.9 295.8M194.3 293.3L191.6 294.5M194.3 293.3L191.5 292.4M194.3 293.3L193.9 291.3M193.9 291.3L191.5 292.4M191.8 289.7L193.9 291.3M191.8 289.7L191.5 292.4M359.9 317.2L357.6 318.5M357.6 318.5L357.4 320.9M357.7 315.6L357.6 318.5M344.3 316.6L343.8 318.5M355.4 317.3L357.7 315.6M355.4 317.3L357.6 318.5M381.7 304.9L384.9 303.7M381.9 302.3L381.7 304.9M378.4 306.1L381.7 304.9M381.7 304.9L381.5 307.3M381.7 304.9L384.7 306.2M364.4 290.5L368.5 291.0M368.5 291.0L371.0 289.4M368.5 291.0L371.9 292.0M369.1 293.4L365.9 294.5M369.1 293.4L372.2 294.5M369.1 293.4L371.9 292.0M177.2 316.3L174.8 318.2M173.9 315.8L174.8 318.2M174.8 318.2L171.5 317.7M174.8 318.2L172.5 320.1M174.8 318.2L175.9 320.6M191.1 326.4L188.1 326.7M189.1 324.7L191.1 326.4M189.1 324.7L188.1 326.7M183.5 331.6L180.2 330.5M180.2 330.5L180.7 332.7M177.8 329.1L180.2 330.5M180.2 330.5L176.3 331.2M180.2 330.5L177.6 333.3M184.5 322.7L181.6 321.7M184.1 320.1L184.5 322.7M184.5 322.7L181.7 323.9M175.0 298.1L172.5 299.8M175.0 298.1L171.7 297.3M174.3 295.6L175.0 298.1M177.6 296.6L175.0 298.1M175.0 298.1L175.6 300.6M402.5 294.0L405.6 296.5M406.8 292.1L405.6 296.5M405.6 296.5L410.6 295.2M414.3 298.4L412.0 302.1M415.3 361.6L415.6 366.5M411.6 364.4L415.6 366.5M419.4 364.3L415.6 366.5M415.6 366.5L411.1 368.4M415.6 366.5L415.8 370.4M415.6 366.5L421.4 368.3M422.1 350.2L416.8 351.2M416.8 351.2L420.1 354.2M412.0 352.0L416.8 351.2M416.8 351.2L414.9 354.8M419.5 343.9L418.3 347.5M418.3 347.5L416.8 351.2M418.3 347.5L422.1 350.2M423.7 346.1L418.3 347.5M391.0 361.1L392.0 363.7M391.0 361.1L394.7 361.8M393.5 359.3L391.0 361.1M391.0 361.1L388.5 362.8M389.8 358.6L391.0 361.1M387.5 360.4L391.0 361.1M348.0 352.3L348.2 354.2M346.0 355.3L348.2 354.2M350.4 353.0L348.2 354.2M348.2 354.2L347.9 356.2M346.6 360.0L346.2 361.9M348.8 361.2L346.2 361.9M346.2 361.9L345.8 363.9M346.2 361.9L348.4 363.3M370.8 358.3L373.1 359.8M374.2 357.6L373.1 359.8M373.1 359.8L375.7 360.7M373.1 359.8L370.3 360.8M373.1 359.8L373.0 362.2M349.8 366.9L347.8 368.8M349.8 366.9L346.8 367.1M347.9 365.3L349.8 366.9M352.7 365.9L349.8 366.9M350.5 369.0L347.8 368.8M350.5 369.0L348.7 370.6M350.5 369.0L351.0 371.0M350.5 369.0L349.8 366.9M355.7 371.1L353.3 372.2M355.7 371.1L355.8 373.3M355.7 371.1L358.4 372.2M358.3 370.0L355.7 371.1M357.9 379.0L356.9 381.7M357.9 379.0L359.8 381.8M357.9 379.0L360.6 379.7M355.1 379.8L357.9 379.0M355.6 377.6L357.9 379.0M358.3 376.6L357.9 379.0M360.9 377.6L357.9 379.0M394.1 323.5L396.5 325.9M396.5 325.9L397.6 323.1M394.1 323.5L397.6 323.1M351.0 327.3L349.8 329.0M351.0 327.3L353.8 327.3M380.6 324.2L382.3 326.3M383.8 324.0L382.3 326.3M383.8 324.0L380.6 324.2M384.4 308.7L387.1 310.4M387.6 307.8L387.1 310.4M387.1 310.4L390.4 309.5M383.9 311.2L387.1 310.4M387.1 310.4L386.4 312.9M387.1 310.4L389.7 312.2M390.4 309.5L389.7 312.2M386.4 312.9L389.7 312.2M389.7 312.2L388.6 314.8M386.4 312.9L388.6 314.8M388.6 314.8L390.8 316.8M401.5 322.6L404.2 324.7M401.5 322.6L405.4 321.6M399.9 325.1L401.8 327.1M399.9 325.1L398.5 328.6M396.5 325.9L399.9 325.1M397.6 323.1L399.9 325.1M401.5 322.6L399.9 325.1M401.5 322.6L397.6 323.1M399.9 325.1L404.2 324.7M157.5 323.0L155.7 325.3M157.5 323.0L159.1 325.6M155.2 321.1L157.5 323.0M159.6 320.4L157.5 323.0M157.5 323.0L153.7 323.1M206.8 322.9L207.4 324.9M197.7 320.7L195.0 320.7M196.4 318.9L195.0 320.7M193.5 318.8L195.0 320.7M195.0 320.7L192.1 320.6M195.0 320.7L196.4 322.4M193.5 322.5L190.6 322.6M192.1 320.6L193.5 322.5M192.1 320.6L190.6 322.6M195.0 320.7L193.5 322.5M196.4 322.4L193.5 322.5M193.5 322.5L195.0 324.2M192.2 324.4L191.1 326.4M192.2 324.4L189.1 324.7M192.2 324.4L190.6 322.6M190.6 322.6L189.1 324.7M193.5 322.5L192.2 324.4M195.0 324.2L192.2 324.4M205.8 313.0L204.0 314.5M408.0 325.6L410.7 328.0M408.0 325.6L405.5 327.7M404.2 324.7L408.0 325.6M409.0 322.9L408.0 325.6M412.5 325.0L410.7 328.0M412.5 325.0L415.7 327.5M412.5 325.0L417.2 324.1M408.0 325.6L412.5 325.0M409.0 322.9L412.5 325.0M196.6 296.5L196.9 298.5M196.6 296.5L194.3 297.7M196.3 294.5L196.6 296.5M194.0 295.6L196.6 296.5M200.0 301.2L197.4 300.5M195.1 301.7L194.6 299.7M195.1 301.7L192.3 301.0M195.1 301.7L192.7 303.1M183.0 291.4L180.1 292.7M183.0 291.4L183.1 293.8M183.0 291.4L180.1 290.1M183.1 288.8L183.0 291.4M185.9 290.2L183.0 291.4M186.0 292.5L183.0 291.4M185.9 290.2L186.0 292.5M186.0 292.5L188.8 293.6M189.8 287.2L188.9 289.2M188.9 289.2L186.3 287.7M188.9 289.2L185.9 290.2M191.8 289.7L188.9 289.2M355.1 319.6L357.4 320.9M355.1 319.6L354.5 321.8M357.6 318.5L355.1 319.6M355.4 317.3L355.1 319.6M344.3 316.6L346.2 317.9M346.7 316.0L346.2 317.9M346.2 317.9L345.6 319.8M378.8 303.8L381.9 302.3M379.0 301.5L378.8 303.8M378.8 303.8L381.7 304.9M378.8 303.8L378.4 306.1M376.0 302.4L378.8 303.8M375.6 304.8L378.8 303.8M369.1 293.4L368.9 295.7M365.9 294.5L368.9 295.7M368.9 295.7L368.5 298.0M365.7 296.8L368.9 295.7M368.9 295.7L371.7 296.9M368.9 295.7L372.2 294.5M178.1 318.6L174.8 318.2M177.2 316.3L178.1 318.6M181.3 319.2L178.1 318.6M178.1 318.6L178.9 320.8M178.1 318.6L175.9 320.6M180.6 317.0L178.1 318.6M196.6 325.8L194.0 326.1M194.0 326.1L191.1 326.4M195.0 324.2L194.0 326.1M192.2 324.4L194.0 326.1M188.1 326.7L190.3 328.4M191.1 326.4L190.3 328.4M190.3 328.4L189.7 330.5M182.3 328.7L180.2 330.5M182.3 328.7L183.5 331.6M184.5 322.7L185.7 324.9M185.7 324.9L181.7 323.9M185.7 324.9L188.1 326.7M185.7 324.9L189.1 324.7M187.1 318.5L186.5 320.8M186.5 320.8L184.1 320.1M186.5 320.8L184.5 322.7M408.8 299.1L414.3 298.4M353.2 370.0L353.3 372.2M353.2 370.0L355.7 371.1M350.5 369.0L353.2 370.0M383.8 324.0L387.1 323.9M387.1 323.9L390.6 323.7M388.0 321.5L390.6 323.7M388.0 321.5L387.1 323.9M394.1 323.5L392.8 326.0M392.8 326.0L396.5 325.9M392.8 326.0L394.8 328.4M390.6 323.7L392.8 326.0M390.6 323.7L394.1 323.5M398.9 320.4L401.5 322.6M398.9 320.4L397.6 323.1M390.8 316.8L393.1 318.8M352.3 328.7L351.2 330.5M352.3 328.7L355.7 328.9M380.5 321.9L380.6 324.2M380.5 321.9L383.8 324.0M378.5 319.8L380.5 321.9M377.4 324.1L380.6 324.2M374.1 323.9L377.4 324.1M380.5 321.9L377.4 324.1M160.9 322.7L159.1 325.6M160.9 322.7L162.5 324.7M160.9 322.7L157.5 323.0M160.9 322.7L159.6 320.4M163.3 320.9L160.9 322.7M413.3 321.7L412.5 325.0M413.3 321.7L417.2 324.1M413.3 321.7L418.3 320.5M409.0 322.9L413.3 321.7M409.0 319.7L413.3 321.7M198.2 304.4L196.0 305.8M198.2 304.4L198.7 306.4M191.8 289.7L188.9 291.4M188.9 291.4L191.5 292.4M188.9 289.2L188.9 291.4M188.9 291.4L188.8 293.6M188.9 291.4L186.0 292.5M188.9 291.4L185.9 290.2M176.4 326.9L179.8 327.4M178.9 325.1L179.8 327.4M179.8 327.4L177.8 329.1M179.8 327.4L180.2 330.5M179.8 327.4L182.3 328.7M184.8 329.6L183.5 331.6M186.8 331.2L184.8 329.6M182.3 328.7L184.8 329.6M185.7 324.9L185.2 327.3M188.1 326.7L185.2 327.3M185.2 327.3L184.8 329.6M185.2 327.3L182.3 328.7M187.1 318.5L189.2 320.6M190.4 318.7L189.2 320.6M189.2 320.6L186.5 320.8M192.1 320.6L189.2 320.6M189.2 320.6L190.6 322.6M186.5 320.8L187.6 322.9M187.6 322.9L184.5 322.7M187.6 322.9L185.7 324.9M187.6 322.9L189.1 324.7M190.6 322.6L187.6 322.9M189.2 320.6L187.6 322.9M355.5 369.0L353.2 370.0M355.5 369.0L355.7 371.1M358.3 370.0L355.5 369.0M358.1 367.9L355.5 369.0M352.7 367.9L353.2 370.0M350.5 369.0L352.7 367.9M352.7 367.9L349.8 366.9M352.7 365.9L352.7 367.9M352.7 367.9L355.5 369.0M402.7 319.9L401.5 322.6M402.7 319.9L405.4 321.6M402.7 319.9L398.9 320.4M400.5 317.7L402.7 319.9M400.5 317.7L398.9 320.4M402.7 319.9L405.3 317.7M393.1 318.8L396.7 318.3M396.7 318.3L398.9 320.4M396.7 318.3L400.5 317.7M395.3 320.9L394.1 323.5M395.3 320.9L397.6 323.1M395.3 320.9L398.9 320.4M396.7 318.3L395.3 320.9M393.1 318.8L395.3 320.9M390.8 316.8L389.5 319.2M389.5 319.2L393.1 318.8M389.5 319.2L388.0 321.5M380.5 321.9L384.3 321.7M384.3 321.7L383.8 324.0M384.3 321.7L388.0 321.5M384.3 321.7L387.1 323.9M376.6 321.9L380.5 321.9M378.5 319.8L376.6 321.9M376.6 321.9L377.4 324.1M374.9 319.9L376.6 321.9M372.9 321.8L376.6 321.9M376.6 321.9L374.1 323.9M200.0 301.2L200.4 303.1M200.4 303.1L200.8 305.1M200.4 303.1L198.2 304.4M200.8 305.1L198.2 304.4M200.8 305.1L201.2 307.0M200.8 305.1L198.7 306.4M198.2 304.4L195.5 303.8M195.1 301.7L195.5 303.8M192.7 303.1L195.5 303.8M195.5 303.8L193.3 305.2M197.8 302.4L195.1 301.7M197.4 300.5L197.8 302.4M200.4 303.1L197.8 302.4M197.8 302.4L198.2 304.4M197.8 302.4L195.5 303.8M200.0 301.2L197.8 302.4M190.3 328.4L187.6 328.9M188.1 326.7L187.6 328.9M185.2 327.3L187.6 328.9M187.6 328.9L184.8 329.6M187.6 328.9L189.7 330.5M187.6 328.9L186.8 331.2M185.7 324.9L182.6 326.1M181.7 323.9L182.6 326.1M182.6 326.1L185.2 327.3M182.6 326.1L178.9 325.1M182.6 326.1L179.8 327.4M182.6 326.1L182.3 328.7M355.3 367.0L352.7 367.9M355.3 367.0L355.5 369.0M358.0 366.1L355.3 367.0M352.7 365.9L355.3 367.0M355.3 367.0L358.1 367.9M391.7 321.3L390.6 323.7M388.0 321.5L391.7 321.3M389.5 319.2L391.7 321.3M391.7 321.3L394.1 323.5M391.7 321.3L395.3 320.9M393.1 318.8L391.7 321.3M268.0 335.6L272.7 335.6M268.0 335.6L263.2 335.6M253.6 335.6L248.7 335.7M241.4 337.9L244.8 337.1M241.9 335.5L241.4 337.9M241.9 335.5L244.8 337.1M282.2 335.5L287.0 335.5M277.4 335.5L272.7 335.6M277.4 335.5L282.2 335.5M305.0 334.2L301.2 335.5M296.5 335.5L301.2 335.5M287.0 335.5L291.7 335.5M296.5 335.5L291.7 335.5M245.2 334.2L248.7 335.7M245.2 334.2L244.8 337.1M248.7 335.7L244.8 337.1M242.1 333.1L245.2 334.2M245.2 334.2L241.9 335.5M242.1 333.1L241.9 335.5M308.1 333.8L307.8 336.9M305.0 334.2L307.8 336.9M305.0 334.2L308.1 333.8M233.3 334.0L232.8 335.9M234.9 332.7L234.9 335.1M239.2 335.9L241.4 337.9M241.9 335.5L239.2 335.9M258.4 335.6L253.6 335.6M258.4 335.6L263.2 335.6M318.9 333.2L318.3 335.7M317.2 333.8L318.3 335.7M318.3 335.7L318.8 337.5M316.8 337.3L318.3 335.7M307.8 336.9L310.2 335.4M310.2 335.4L310.5 338.0M307.8 336.9L310.5 338.0M308.1 333.8L310.2 335.4M304.7 337.0L307.8 336.9M305.0 334.2L304.7 337.0M301.2 335.5L304.7 337.0M237.1 332.5L237.0 334.5M234.9 332.7L237.0 334.5M239.4 333.4L242.1 333.1M239.4 333.4L241.9 335.5M239.4 333.4L239.2 335.9M239.4 333.4L237.0 334.5M237.1 332.5L239.4 333.4M237.0 334.5L239.2 335.9M310.2 335.4L312.4 336.6M312.4 336.6L310.5 338.0M312.9 334.6L310.2 335.4M312.9 334.6L312.4 336.6M310.9 333.0L308.1 333.8M310.9 333.0L310.2 335.4M310.9 333.0L312.9 334.6M237.0 334.5L236.6 336.7M234.9 335.1L236.6 336.7M236.6 336.7L239.2 335.9M315.0 334.2L314.6 336.5M312.9 334.6L314.6 336.5M236.6 336.7L238.5 338.3M239.2 335.9L238.5 338.3M238.5 338.3L241.4 337.9M314.6 336.5L313.1 338.6M312.4 336.6L313.1 338.6M310.5 338.0L313.1 338.6M234.9 335.1L234.3 337.2" stroke="#ffe359"/>
<path d="M174.6 342.7L172.7 344.8M172.7 344.8L170.8 347.0M107.8 341.5L110.4 346.2M110.4 346.2L107.0 351.1M112.9 354.3L119.6 358.4M162.7 298.3L159.2 298.8M162.7 298.3L160.6 296.1M117.5 337.9L121.3 343.3M181.3 389.7L177.2 391.3M177.6 388.1L177.2 391.3M413.0 281.4L420.1 284.9M136.9 374.3L140.8 377.0M136.9 374.3L131.4 375.3M131.4 375.3L135.3 378.5M131.4 375.3L129.3 380.0M136.9 374.3L135.3 378.5M125.3 376.3L131.4 375.3M127.9 371.6L125.3 376.3M121.7 372.3L127.9 371.6M114.2 341.5L110.4 346.2M114.2 341.5L116.5 345.6M107.0 351.1L114.2 350.0M114.2 350.0L112.9 354.3M107.0 351.1L107.4 357.0M135.2 363.5L131.1 367.1M135.2 363.5L136.5 367.1M131.0 361.5L131.1 367.1M127.4 364.1L131.1 367.1M140.1 364.3L136.5 367.1M138.8 370.5L142.1 373.3M127.7 385.1L133.1 388.2M134.0 383.2L133.1 388.2M139.3 385.5L133.1 388.2M133.1 388.2L141.4 389.6M197.3 354.1L196.8 356.3M176.2 345.1L172.7 344.8M174.6 342.7L176.2 345.1M162.4 300.8L159.2 298.8M164.7 296.0L160.6 296.1M178.1 385.2L177.6 388.1M177.6 388.1L181.3 386.7M181.3 386.7L181.3 389.7M420.1 284.9L425.4 289.3M160.8 365.0L164.0 366.5M160.8 365.0L160.8 367.6M141.5 367.4L138.8 370.5M143.1 349.4L142.8 352.4M160.8 365.0L157.4 366.2M157.7 363.5L157.4 366.2M375.2 386.4L371.8 388.1M197.0 330.9L198.5 332.8M176.1 360.0L175.7 362.0M179.1 360.0L176.1 360.0M176.8 357.8L179.1 360.0M184.1 362.8L181.4 363.8M181.4 363.8L184.5 364.8M184.8 360.7L181.6 361.5M178.2 343.1L174.6 342.7M172.7 344.8L174.3 347.1M167.1 362.8L164.2 361.3M167.4 360.2L164.2 361.3M172.9 363.1L175.9 364.2M172.9 363.1L175.7 362.0M158.7 358.2L158.2 360.8M158.7 358.2L161.5 359.8M169.2 344.6L167.3 346.9M169.2 344.6L165.6 344.5M164.7 358.7L164.2 361.3M164.7 358.7L161.5 359.8M162.0 357.1L161.5 359.8M372.6 279.6L376.6 282.0M382.2 277.0L385.8 280.9M380.9 280.3L385.8 280.9M387.7 276.4L385.8 280.9M371.2 314.4L373.8 316.0M374.6 313.9L373.8 316.0M105.0 327.0L104.8 332.6M115.8 327.8L110.5 330.3M115.8 327.8L115.8 333.1M413.6 286.3L420.1 284.9M124.7 367.9L127.9 371.6M124.7 367.9L131.1 367.1M164.0 363.9L164.0 366.5M167.0 365.3L164.0 363.9M167.1 362.8L164.0 363.9M177.6 388.1L173.6 389.2M157.7 363.5L154.1 364.7M361.0 339.5L361.9 341.7M364.0 339.9L361.0 339.5M361.9 341.7L359.8 343.3M359.8 343.3L362.7 344.1M398.3 346.8L402.0 347.7M401.2 345.0L402.0 347.7M398.3 346.8L399.1 349.5M395.5 348.5L399.1 349.5M399.1 349.5L396.4 350.9M371.9 325.9L375.3 326.1M374.1 323.9L375.3 326.1M374.6 313.9L377.3 315.6M371.9 325.9L373.3 328.2M368.8 382.0L371.5 385.0M371.9 381.5L371.5 385.0M386.8 395.0L393.5 392.3M389.2 390.1L386.8 395.0M386.8 395.0L381.1 394.4M384.7 391.5L386.8 395.0M173.2 340.1L174.6 342.7M194.4 331.4L191.8 332.0M194.4 331.4L193.8 333.4M197.3 354.1L199.3 355.6M199.5 353.6L199.3 355.6M203.7 352.0L201.5 350.9M201.9 349.0L201.5 350.9M203.7 353.9L201.6 352.8M173.0 360.7L175.7 362.0M179.9 357.6L179.1 360.0M176.7 340.9L174.6 342.7M176.7 340.9L173.2 340.1M167.5 342.3L165.6 344.5M167.5 342.3L163.8 342.3M165.7 340.1L167.5 342.3M385.8 280.9L391.1 279.8M385.8 280.9L390.1 283.5M385.8 280.9L385.3 284.8M162.7 293.7L164.7 296.0M158.0 288.5L160.4 291.2M167.0 293.9L164.7 296.0M162.4 300.8L164.2 302.7M162.4 300.8L161.2 303.9M133.5 319.6L131.9 323.1M133.5 319.6L128.2 320.1M120.9 330.3L115.8 333.1M130.5 316.5L133.5 319.6M156.5 353.9L153.1 354.6M153.6 352.0L153.1 354.6M150.0 352.8L153.1 354.6M174.5 386.0L177.6 388.1M161.4 388.2L159.3 392.0M415.5 342.0L414.3 345.3M365.8 344.3L366.4 346.3M365.8 344.3L369.1 344.9M370.7 340.9L368.2 342.6M367.3 340.4L370.7 340.9M368.2 342.6L369.1 344.9M368.2 342.6L371.6 343.2M367.3 340.4L369.7 338.6M363.1 337.7L364.0 339.9M359.0 341.1L361.9 341.7M396.4 350.9L399.4 352.5M399.4 352.5L394.8 352.9M399.4 352.5L397.3 354.8M369.7 365.6L366.6 366.5M367.0 364.2L366.6 366.5M361.0 366.1L363.6 367.4M389.7 370.6L393.4 371.8M393.2 369.0L389.7 370.6M378.3 330.6L381.9 330.6M380.3 328.5L381.9 330.6M378.3 330.6L379.7 332.8M378.3 330.6L376.3 332.8M368.9 312.5L367.8 314.7M367.8 314.7L371.2 314.4M365.6 312.8L368.9 312.5M369.8 327.9L373.3 328.2M357.1 342.6L359.8 343.3M357.1 342.6L357.6 344.8M359.0 341.1L357.1 342.6M356.4 340.5L359.0 341.1M383.0 373.2L382.8 376.0M394.2 384.8L389.6 386.4M196.1 352.4L194.8 354.6M196.1 352.4L193.1 352.9M199.5 353.6L201.6 354.8M201.6 352.8L201.6 354.8M182.3 359.2L179.1 360.0M182.3 359.2L181.6 361.5M169.2 319.6L166.9 321.4M165.7 319.0L166.9 321.4M166.9 321.4L163.3 320.9M163.3 320.9L164.8 323.3M162.4 300.8L158.7 301.3M139.9 333.7L135.1 333.2M138.1 331.0L139.9 333.7M197.9 329.2L199.3 331.1M169.4 326.4L170.9 328.7M169.4 326.4L167.4 328.5M180.8 379.3L179.9 381.7M183.9 379.9L179.9 381.7M176.8 380.4L179.9 381.7M176.0 383.1L179.9 381.7M179.9 381.7L178.1 385.2M181.4 363.8L181.8 366.1M181.8 366.1L178.8 365.1M178.8 365.1L179.1 367.4M178.8 365.1L176.1 366.5M183.3 375.3L186.3 376.1M159.3 355.6L156.0 356.4M156.5 353.9L156.0 356.4M156.0 356.4L158.7 358.2M381.1 283.5L385.8 280.9M381.1 283.5L385.3 284.8M381.1 283.5L381.2 286.6M376.6 282.0L381.1 283.5M374.6 313.9L378.0 313.4M166.5 300.9L164.2 302.7M166.5 300.9L162.4 300.8M167.0 293.9L168.3 296.5M426.8 298.2L433.5 298.6M429.7 293.8L426.8 298.2M420.1 284.9L418.6 289.8M158.7 358.2L155.3 359.2M151.7 360.2L147.2 360.4M151.7 360.2L151.2 362.9M150.0 352.8L149.6 355.5M146.3 354.0L149.6 355.5M399.4 352.5L401.2 355.1M403.3 352.9L401.2 355.1M403.3 352.9L405.6 355.2M362.7 344.1L360.4 345.7M362.7 344.1L363.3 346.6M365.8 344.3L363.3 346.6M355.3 338.5L356.4 340.5M358.0 338.9L356.4 340.5M405.7 349.0L409.4 349.5M407.2 352.2L405.6 355.2M407.2 352.2L410.0 355.0M407.2 352.2L412.0 352.0M363.4 369.7L360.9 370.9M369.7 365.6L369.0 368.0M364.0 365.1L366.6 366.5M393.3 374.8L389.7 373.4M389.7 373.4L389.5 376.3M393.4 371.8L389.7 373.4M389.6 367.9L386.3 369.3M389.6 367.9L389.7 370.6M386.2 366.8L386.3 369.3M376.1 363.1L377.1 365.3M383.4 332.8L385.5 330.6M381.9 330.6L385.5 330.6M371.2 314.4L370.0 316.7M355.0 344.1L357.6 344.8M355.0 344.1L355.3 346.1M355.0 344.1L352.7 345.2M374.6 383.3L371.5 385.0M378.2 384.6L375.2 386.4M380.0 371.7L383.0 373.2M380.2 369.0L383.2 370.4M176.4 338.4L173.2 340.1M165.7 340.1L169.4 340.1M170.6 337.8L169.4 340.1M170.6 337.8L173.2 340.1M194.1 350.8L196.1 352.4M196.7 339.6L197.9 341.3M138.1 331.0L142.2 331.0M139.9 328.2L142.2 331.0M144.8 323.2L140.5 322.9M140.5 322.9L142.1 325.6M200.0 327.9L197.9 329.2M169.2 319.6L170.4 322.0M172.5 320.1L170.4 322.0M137.4 336.3L142.0 336.3M139.9 333.7L137.4 336.3M142.0 336.3L139.9 339.0M152.2 333.2L148.3 333.5M148.3 333.5L150.4 335.7M179.9 381.7L183.6 382.2M181.3 389.7L184.7 387.3M444.0 325.9L443.9 331.2M415.4 339.1L415.5 342.0M376.6 282.0L377.2 285.2M381.1 283.5L377.2 285.2M377.2 285.2L381.2 286.6M373.1 309.8L374.9 307.2M371.4 307.9L373.1 309.8M373.1 309.8L375.9 309.3M375.9 309.3L375.3 311.7M375.3 311.7L378.4 310.9M375.3 311.7L378.0 313.4M373.1 309.8L375.3 311.7M185.2 305.3L185.8 307.5M188.1 306.0L185.2 305.3M185.2 305.3L182.9 306.8M169.9 301.6L166.5 300.9M170.8 294.6L168.3 296.5M169.3 299.1L169.9 301.6M178.7 301.4L176.2 303.0M178.7 301.4L175.6 300.6M178.7 301.4L179.2 303.8M181.7 302.2L179.2 303.8M155.3 359.2L154.8 361.9M154.8 361.9L157.7 363.5M158.2 360.8L154.8 361.9M149.4 358.2L147.2 360.4M436.2 343.1L442.0 346.9M436.2 343.1L442.8 341.7M442.0 346.9L437.8 350.6M434.2 347.4L442.0 346.9M442.0 346.9L442.8 353.0M437.3 338.4L436.2 343.1M430.8 340.0L437.3 338.4M366.3 338.1L367.3 340.4M366.3 338.1L364.0 339.9M401.2 345.0L405.1 346.1M403.9 343.1L407.7 344.0M403.9 343.1L405.1 346.1M365.3 357.9L362.4 358.9M363.4 369.7L363.6 372.1M365.9 371.1L363.6 372.1M371.9 367.3L369.0 368.0M369.0 368.0L371.5 369.7M371.5 369.7L368.6 370.4M386.2 374.8L389.5 376.3M386.2 374.8L386.0 377.7M386.2 374.8L382.8 376.0M386.3 369.3L383.2 370.4M383.1 367.7L383.2 370.4M383.1 367.7L386.3 369.3M407.2 341.1L407.7 344.0M407.2 341.1L411.2 342.6M373.3 328.2L371.3 330.2M374.8 330.5L376.3 332.8M374.8 330.5L372.8 332.5M371.3 330.2L374.8 330.5M385.5 330.6L387.0 332.9M352.6 343.4L349.9 344.4M371.5 385.0L368.2 386.9M173.8 337.6L173.2 340.1M167.2 337.8L169.4 340.1M201.9 349.0L199.5 349.7M165.7 326.0L167.4 328.5M162.5 324.7L165.7 326.0M165.7 326.0L162.3 326.8M164.8 323.3L162.5 324.7M144.1 328.4L142.2 331.0M144.1 328.4L146.2 331.1M142.9 320.4L144.8 323.2M145.2 318.0L142.9 320.4M147.1 320.9L142.9 320.4M165.7 326.0L163.9 328.7M150.1 331.2L148.3 333.5M150.1 331.2L146.2 331.1M142.0 336.3L144.3 338.6M431.7 330.4L437.7 333.3M437.9 328.5L443.9 331.2M410.8 339.2L411.2 342.6M349.8 320.8L351.6 322.2M349.8 320.8L349.0 322.6M355.4 309.7L354.3 311.6M359.1 313.4L356.0 313.6M348.2 312.1L351.2 311.8M349.4 310.3L351.2 311.8M371.4 307.9L370.0 310.2M368.0 308.4L370.0 310.2M363.8 287.9L367.2 288.7M367.2 288.7L364.4 290.5M367.2 288.7L371.0 289.4M367.2 288.7L370.0 286.9M170.4 322.0L174.0 322.5M174.0 322.5L171.7 324.3M189.5 300.2L187.0 301.6M187.0 301.6L189.9 302.3M187.6 303.8L188.1 306.0M189.9 302.3L187.6 303.8M182.2 304.5L179.2 303.8M182.2 304.5L182.9 306.8M182.2 304.5L179.8 306.1M171.7 297.3L168.3 296.5M171.7 297.3L169.3 299.1M426.8 298.2L430.1 302.9M430.1 302.9L423.8 302.3M423.8 302.3L426.5 306.8M149.4 358.2L146.1 357.1M149.6 355.5L146.1 357.1M413.5 348.6L412.0 352.0M409.4 349.5L413.5 348.6M432.2 335.6L437.3 338.4M368.6 370.4L370.7 372.2M365.9 371.1L367.3 373.1M368.6 370.4L367.3 373.1M196.9 350.3L199.5 349.7M197.6 348.3L196.9 350.3M194.9 348.7L196.9 350.3M196.9 350.3L194.1 350.8M136.2 322.5L131.9 323.1M138.8 314.2L140.9 317.3M143.5 315.0L140.9 317.3M145.2 318.0L140.9 317.3M138.8 314.2L136.0 316.7M133.6 313.4L136.0 316.7M140.9 317.3L136.0 316.7M196.6 325.8L195.7 327.7M173.0 326.6L169.4 326.4M171.7 324.3L173.0 326.6M178.1 299.0L175.6 300.6M348.0 319.3L347.3 321.2M356.0 313.6L357.7 315.6M354.5 315.4L357.7 315.6M346.7 316.0L348.8 317.4M349.2 315.5L348.8 317.4M348.2 312.1L350.0 313.6M347.3 314.1L350.0 313.6M350.0 313.6L349.2 315.5M349.2 315.5L351.8 315.1M352.4 310.0L351.2 311.8M352.4 310.0L354.3 311.6M366.8 310.6L370.0 310.2M366.8 310.6L368.9 312.5M366.3 286.1L367.2 288.7M177.7 322.9L175.3 324.7M178.9 325.1L175.3 324.7M177.7 322.9L178.9 325.1M175.3 324.7L171.7 324.3M186.6 299.3L187.0 301.6M186.6 299.3L184.1 300.7M186.6 299.3L183.7 298.5M186.3 297.1L183.7 298.5M169.3 299.1L172.5 299.8M420.5 305.9L423.8 302.3M417.6 302.1L420.5 305.9M414.7 305.6L417.6 302.1M418.6 289.8L416.5 294.4M412.4 291.0L416.5 294.4M410.6 295.2L416.5 294.4M419.5 343.9L414.3 345.3M379.2 337.8L380.1 340.4M378.8 326.3L382.3 326.3M382.3 326.3L380.3 328.5M390.8 316.8L394.4 316.2M392.0 314.2L390.8 316.8M397.2 307.7L396.4 310.7M393.7 308.7L396.4 310.7M396.4 310.7L400.0 309.9M398.0 315.6L400.5 317.7M398.0 315.6L402.0 315.1M147.8 328.7L146.2 331.1M190.4 304.5L187.6 303.8M183.3 296.1L183.7 298.5M186.1 294.8L183.1 293.8M180.3 295.1L180.7 297.5M180.7 297.5L177.6 296.6M177.6 296.6L178.1 299.0M183.3 296.1L180.7 297.5M357.6 318.5L359.9 319.9M354.5 315.4L355.4 317.3M349.2 315.5L351.5 316.9M351.5 316.9L355.4 317.3M367.2 288.7L368.5 291.0M368.5 291.0L369.1 293.4M178.1 299.0L175.0 298.1M418.6 289.8L422.9 293.9M422.9 293.9L425.4 289.3M422.9 293.9L429.7 293.8M410.6 295.2L414.3 298.4M413.5 348.6L416.8 351.2M413.5 348.6L418.3 347.5M414.3 345.3L418.3 347.5M380.6 324.2L378.8 326.3M388.6 314.8L392.0 314.2M389.7 312.2L392.0 314.2M389.7 312.2L393.0 311.5M390.4 309.5L393.0 311.5M393.7 308.7L393.0 311.5M399.2 312.8L403.0 312.1M399.2 312.8L402.0 315.1M400.0 309.9L399.2 312.8M197.4 300.5L195.1 301.7M186.0 292.5L186.1 294.8M186.0 292.5L183.1 293.8M346.2 317.9L348.0 319.3M194.0 326.1L195.7 327.7M194.0 326.1L193.1 328.0M193.1 328.0L191.1 326.4M193.1 328.0L190.3 328.4M192.4 329.9L190.3 328.4M385.7 326.2L382.3 326.3M383.8 324.0L385.7 326.2M387.1 323.9L385.7 326.2M387.1 323.9L389.3 326.1M390.6 323.7L389.3 326.1M389.3 326.1L392.8 326.0M394.4 316.2L393.1 318.8M382.3 326.3L383.9 328.5M383.9 328.5L381.9 330.6M389.2 330.7L387.0 332.9M389.2 330.7L390.6 333.1M389.2 330.7L392.8 330.8M377.4 324.1L375.3 326.1M352.5 320.4L351.6 322.2M352.5 320.4L354.5 321.8M352.5 320.4L355.1 319.6M355.4 317.3L353.1 318.4M353.1 318.4L355.1 319.6M392.8 326.0L391.2 328.4M391.2 328.4L394.8 328.4M391.2 328.4L392.8 330.8M394.4 316.2L396.7 318.3M398.0 315.6L396.7 318.3" stroke="#ffcb59"/>
<path d="M172.7 344.8L169.2 344.6M169.2 344.6L170.8 347.0M104.8 332.6L104.2 337.8M104.2 337.8L107.8 341.5M127.9 371.6L131.4 375.3M115.8 333.1L117.5 337.9M177.6 388.1L181.3 389.7M114.2 341.5L107.8 341.5M117.5 337.9L114.2 341.5M121.3 343.3L114.2 341.5M107.0 351.1L112.9 354.3M131.1 367.1L127.9 371.6M136.5 367.1L131.1 367.1M136.5 367.1L138.8 370.5M138.8 370.5L136.9 374.3M175.7 362.0L175.9 364.2M162.7 298.3L162.4 300.8M164.7 296.0L162.7 298.3M110.5 330.3L115.8 333.1M157.7 363.5L160.8 365.0M365.8 344.3L362.7 344.1M364.0 339.9L361.9 341.7M361.9 341.7L362.7 344.1M181.6 361.5L181.4 363.8M179.1 360.0L181.6 361.5M181.6 361.5L184.1 362.8M175.9 364.2L173.0 365.4M161.5 359.8L158.2 360.8M161.5 359.8L164.2 361.3M371.2 314.4L374.6 313.9M105.0 327.0L110.5 330.3M110.8 324.6L110.5 330.3M160.8 365.0L164.0 363.9M164.2 361.3L164.0 363.9M402.0 347.7L399.1 349.5M375.3 326.1L373.3 328.2M371.5 385.0L371.8 388.1M371.5 385.0L375.2 386.4M197.0 330.9L194.4 331.4M167.5 342.3L169.2 344.6M158.2 360.8L157.7 363.5M415.5 342.0L411.2 342.6M411.2 342.6L414.3 345.3M367.3 340.4L368.2 342.6M365.8 344.3L368.2 342.6M399.1 349.5L399.4 352.5M363.6 367.4L360.8 368.5M380.3 328.5L378.3 330.6M368.9 312.5L371.2 314.4M356.4 340.5L357.1 342.6M352.1 341.5L352.6 343.4M383.0 373.2L379.7 374.3M196.1 352.4L197.3 354.1M166.9 321.4L164.8 323.3M192.4 329.9L191.8 332.0M139.9 333.7L142.0 336.3M181.4 363.8L178.8 365.1M175.9 364.2L176.1 366.5M153.1 354.6L156.0 356.4M168.3 296.5L164.7 296.0M155.3 359.2L151.7 360.2M155.3 359.2L158.2 360.8M156.0 356.4L155.3 359.2M153.1 354.6L149.6 355.5M399.4 352.5L403.3 352.9M405.7 349.0L407.2 352.2M409.4 349.5L407.2 352.2M402.0 347.7L405.7 349.0M407.7 344.0L411.2 342.6M360.8 368.5L363.4 369.7M363.4 369.7L365.9 371.1M366.6 366.5L369.0 368.0M364.0 365.1L363.6 367.4M389.7 370.6L389.7 373.4M386.3 369.3L389.7 370.6M357.1 342.6L355.0 344.1M355.3 338.5L353.8 340.1M352.6 338.3L353.8 340.1M383.2 370.4L383.0 373.2M169.4 340.1L167.5 342.3M173.2 340.1L169.4 340.1M146.2 331.1L142.2 331.0M142.2 331.0L139.9 333.7M195.7 327.7L197.9 329.2M192.4 329.9L189.7 330.5M171.7 324.3L169.4 326.4M170.4 322.0L166.9 321.4M170.4 322.0L171.7 324.3M146.2 331.1L148.3 333.5M375.3 311.7L374.6 313.9M169.3 299.1L168.3 296.5M169.3 299.1L166.5 300.9M181.7 302.2L178.7 301.4M426.8 298.2L423.8 302.3M151.7 360.2L154.8 361.9M149.4 358.2L151.7 360.2M149.6 355.5L149.4 358.2M442.8 341.7L442.0 346.9M437.3 338.4L442.8 341.7M407.7 344.0L405.1 346.1M405.1 346.1L405.7 349.0M405.1 346.1L402.0 347.7M368.6 370.4L365.9 371.1M389.7 373.4L386.2 374.8M373.3 328.2L374.8 330.5M169.4 326.4L165.7 326.0M164.8 323.3L165.7 326.0M140.5 322.9L137.0 325.6M142.9 320.4L140.5 322.9M437.9 328.5L437.7 333.3M354.5 315.4L356.0 313.6M354.3 311.6L356.0 313.6M351.8 315.1L354.5 315.4M351.2 311.8L354.3 311.6M370.0 310.2L373.1 309.8M370.0 310.2L368.9 312.5M187.6 303.8L185.2 305.3M187.0 301.6L187.6 303.8M181.7 302.2L182.2 304.5M182.2 304.5L185.2 305.3M414.3 345.3L413.5 348.6M437.7 333.3L432.2 335.6M196.9 350.3L196.1 352.4M136.2 322.5L137.0 325.6M140.5 322.9L136.2 322.5M133.5 319.6L136.2 322.5M140.9 317.3L142.9 320.4M136.0 316.7L133.5 319.6M178.1 299.0L178.7 301.4M348.0 319.3L349.8 320.8M348.8 317.4L348.0 319.3M350.0 313.6L351.2 311.8M350.0 313.6L351.8 315.1M187.0 301.6L184.1 300.7M183.7 298.5L184.1 300.7M184.1 300.7L181.7 302.2M417.6 302.1L423.8 302.3M378.8 326.3L380.3 328.5M375.3 326.1L378.8 326.3M392.0 314.2L394.4 316.2M394.4 316.2L398.0 315.6M180.7 297.5L178.1 299.0M183.7 298.5L180.7 297.5M348.8 317.4L351.5 316.9M354.5 315.4L351.5 316.9M195.7 327.7L193.1 328.0M193.1 328.0L192.4 329.9M416.5 294.4L422.9 293.9M422.9 293.9L426.8 298.2M414.3 298.4L416.5 294.4M414.3 298.4L417.6 302.1M393.0 311.5L392.0 314.2M393.0 311.5L396.4 310.7M399.2 312.8L398.0 315.6M396.4 310.7L399.2 312.8M385.7 326.2L389.3 326.1M383.9 328.5L385.5 330.6M383.9 328.5L380.3 328.5M385.7 326.2L383.9 328.5M389.2 330.7L385.5 330.6M377.4 324.1L378.8 326.3M164.8 323.3L160.9 322.7M349.8 320.8L352.5 320.4M353.1 318.4L352.5 320.4M389.3 326.1L391.2 328.4M391.2 328.4L389.2 330.7" stroke="#ffb259"/>
<path d="M110.5 330.3L104.8 332.6M364.0 339.9L367.3 340.4M178.7 362.5L181.4 363.8M176.1 360.0L178.7 362.5M161.1 362.4L164.2 361.3M161.1 362.4L164.0 363.9M161.1 362.4L157.7 363.5M366.6 366.5L363.6 367.4M192.4 329.9L194.4 331.4M144.2 333.6L142.0 336.3M175.9 364.2L178.8 365.1M437.7 333.3L443.9 331.2M166.5 300.9L166.0 298.6M403.3 352.9L407.2 352.2M402.5 350.5L405.7 349.0M402.0 347.7L402.5 350.5M409.8 346.4L409.4 349.5M363.6 367.4L363.4 369.7M353.8 340.1L356.4 340.5M142.2 331.0L144.2 333.6M146.2 331.1L144.2 333.6M168.1 324.0L169.4 326.4M437.7 333.3L437.3 338.4M369.0 368.0L368.6 370.4M383.0 373.2L386.2 374.8M374.8 330.5L378.3 330.6M168.1 324.0L165.7 326.0M353.0 313.4L356.0 313.6M353.0 313.4L354.5 315.4M140.9 317.3L138.5 319.8M136.0 316.7L138.5 319.8M181.2 299.9L184.1 300.7M180.7 297.5L181.2 299.9" stroke="#ff9959"/>
<path d="M174.6 342.7L171.1 342.4M171.1 342.4L172.7 344.8M171.1 342.4L169.2 344.6M133.6 370.9L127.9 371.6M133.6 370.9L131.4 375.3M104.8 332.6L110.9 336.4M110.9 336.4L104.2 337.8M110.9 336.4L117.5 337.9M115.8 333.1L110.9 336.4M110.9 336.4L107.8 341.5M133.6 370.9L136.9 374.3M110.9 336.4L114.2 341.5M131.1 367.1L133.6 370.9M136.5 367.1L133.6 370.9M138.8 370.5L133.6 370.9M178.7 362.5L175.9 364.2M178.7 362.5L175.7 362.0M110.5 330.3L110.9 336.4M364.9 342.1L365.8 344.3M364.9 342.1L362.7 344.1M367.3 340.4L364.9 342.1M364.0 339.9L364.9 342.1M361.9 341.7L364.9 342.1M181.6 361.5L178.7 362.5M179.1 360.0L178.7 362.5M372.1 312.1L374.6 313.9M372.1 312.1L371.2 314.4M173.2 340.1L171.1 342.4M198.9 351.7L197.3 354.1M201.5 350.9L198.9 351.7M167.5 342.3L171.1 342.4M161.5 359.8L161.1 362.4M158.2 360.8L161.1 362.4M161.1 362.4L160.8 365.0M166.0 298.6L162.4 300.8M166.0 298.6L162.7 298.3M164.7 296.0L166.0 298.6M443.5 336.5L442.8 341.7M364.9 342.1L368.2 342.6M368.9 312.5L372.1 312.1M373.3 328.2L376.8 328.4M375.3 326.1L376.8 328.4M376.8 328.4L380.3 328.5M376.8 328.4L378.3 330.6M164.8 323.3L168.1 324.0M166.9 321.4L168.1 324.0M139.9 333.7L144.2 333.6M178.7 362.5L178.8 365.1M443.9 331.2L443.5 336.5M168.3 296.5L166.0 298.6M402.5 350.5L399.4 352.5M402.5 350.5L403.3 352.9M399.1 349.5L402.5 350.5M402.5 350.5L407.2 352.2M409.8 346.4L405.7 349.0M409.8 346.4L414.3 345.3M411.2 342.6L409.8 346.4M407.7 344.0L409.8 346.4M354.6 342.0L352.6 343.4M354.6 342.0L355.0 344.1M169.4 340.1L171.1 342.4M197.9 329.2L195.2 329.5M197.0 330.9L195.2 329.5M171.7 324.3L168.1 324.0M170.4 322.0L168.1 324.0M148.3 333.5L144.2 333.6M372.1 312.1L375.3 311.7M373.1 309.8L372.1 312.1M169.3 299.1L166.0 298.6M420.3 298.2L423.8 302.3M420.3 298.2L426.8 298.2M443.5 336.5L437.3 338.4M405.1 346.1L409.8 346.4M386.3 372.0L383.0 373.2M383.2 370.4L386.3 372.0M386.3 369.3L386.3 372.0M386.3 372.0L386.2 374.8M386.3 372.0L389.7 373.4M389.7 370.6L386.3 372.0M376.8 328.4L374.8 330.5M199.5 349.7L198.9 351.7M142.9 320.4L138.5 319.8M138.5 319.8L140.5 322.9M354.3 311.6L353.0 313.4M351.2 311.8L353.0 313.4M370.0 310.2L372.1 312.1M409.8 346.4L413.5 348.6M196.9 350.3L198.9 351.7M138.5 319.8L136.2 322.5M138.5 319.8L133.5 319.6M348.8 317.4L350.5 318.9M350.5 318.9L349.8 320.8M350.0 313.6L353.0 313.4M420.3 298.2L417.6 302.1M378.8 326.3L376.8 328.4M183.7 298.5L181.2 299.9M181.2 299.9L178.1 299.0M181.2 299.9L178.7 301.4M181.2 299.9L181.7 302.2M350.5 318.9L351.5 316.9M193.1 328.0L195.2 329.5M416.5 294.4L420.3 298.2M422.9 293.9L420.3 298.2M414.3 298.4L420.3 298.2M385.7 326.2L387.5 328.4M389.3 326.1L387.5 328.4M383.9 328.5L387.5 328.4M387.5 328.4L385.5 330.6M387.5 328.4L389.2 330.7M350.5 318.9L352.5 320.4M350.5 318.9L353.1 318.4M387.5 328.4L391.2 328.4" stroke="#ff8059"/>
<path d="M198.9 351.7L199.5 353.6M198.9 351.7L201.6 352.8M366.6 366.5L366.2 368.8M198.9 351.7L196.1 352.4M153.1 354.6L152.7 357.3M156.0 356.4L152.7 357.3M437.7 333.3L443.5 336.5M152.7 357.3L155.3 359.2M149.6 355.5L152.7 357.3M366.2 368.8L365.9 371.1M369.0 368.0L366.2 368.8M354.6 342.0L357.1 342.6M356.4 340.5L354.6 342.0M353.8 340.1L354.6 342.0M195.2 329.5L194.4 331.4M195.2 329.5L192.4 329.9M152.7 357.3L149.4 358.2M187.6 303.8L184.6 303.0M184.6 303.0L185.2 305.3M184.6 303.0L182.2 304.5M187.0 301.6L184.6 303.0M184.1 300.7L184.6 303.0M395.5 313.5L394.4 316.2M392.0 314.2L395.5 313.5M393.0 311.5L395.5 313.5M395.5 313.5L399.2 312.8" stroke="#ff6859"/>
<path d="M363.6 367.4L366.2 368.8M152.7 357.3L151.7 360.2M366.2 368.8L363.4 369.7M366.2 368.8L368.6 370.4M181.7 302.2L184.6 303.0M395.5 313.5L398.0 315.6M396.4 310.7L395.5 313.5" stroke="#f55959"/>
</g>
<g transform="scale(1.20,1)" stroke-width="1.9" stroke-linecap="round" fill="none">
<path d="M158.2 287.2h0M155.9 285.3h0M153.4 283.4h0M150.4 281.5h0M159.9 289.7h0M157.4 289.2h0M152.9 286.1h0M147.2 282.8h0M147.0 279.6h0M143.0 277.8h0M138.3 276.4h0M161.9 293.3h0M161.5 291.3h0M157.4 291.4h0M155.0 290.2h0M152.6 288.8h0M150.3 284.5h0M144.2 284.5h0M143.6 281.3h0M133.0 275.6h0M163.6 294.5h0M161.7 295.6h0M159.6 292.4h0M155.0 292.5h0M152.5 291.4h0M147.4 285.9h0M127.3 275.3h0M163.8 296.5h0M157.3 293.6h0M150.0 290.1h0M147.4 288.8h0M144.7 287.5h0M141.4 286.5h0M166.4 299.3h0M159.7 296.8h0M159.6 294.5h0M157.4 295.8h0M150.2 295.1h0M150.1 292.7h0M147.5 291.6h0M144.8 290.5h0M137.9 286.0h0M121.4 276.8h0M166.7 301.2h0M164.1 298.5h0M161.9 297.7h0M157.6 298.0h0M155.2 297.1h0M152.8 296.1h0M147.6 294.1h0M144.7 293.0h0M142.2 289.4h0M139.2 289.0h0M134.0 285.7h0M116.3 279.2h0M167.0 303.1h0M164.8 302.4h0M162.5 301.7h0M162.2 299.7h0M159.9 298.9h0M157.9 300.2h0M155.5 299.3h0M148.0 296.6h0M145.3 295.6h0M142.3 294.6h0M137.5 291.4h0M135.6 288.7h0M127.7 282.4h0M121.2 281.7h0M167.3 305.1h0M160.6 303.1h0M160.2 301.0h0M145.8 298.1h0M143.1 297.3h0M139.2 293.9h0M131.6 288.5h0M116.2 284.0h0M111.1 281.9h0M169.7 307.6h0M167.7 307.0h0M165.6 306.4h0M162.9 303.8h0M161.1 305.2h0M158.7 304.5h0M158.3 302.3h0M146.4 300.6h0M135.6 293.7h0M122.8 288.9h0M120.3 285.8h0M168.2 309.0h0M166.1 308.4h0M159.2 306.6h0M149.4 303.8h0M143.8 299.8h0M131.8 293.8h0M129.6 291.3h0M117.6 289.1h0M171.1 311.2h0M170.4 309.5h0M168.9 310.8h0M166.7 310.4h0M159.7 308.8h0M156.8 306.0h0M149.9 306.1h0M146.8 303.0h0M144.3 302.3h0M141.6 301.6h0M133.8 296.1h0M128.0 294.2h0M121.0 292.2h0M171.5 313.0h0M169.4 312.6h0M167.3 312.3h0M164.4 309.9h0M160.3 310.9h0M157.3 308.2h0M154.9 307.5h0M152.4 306.8h0M147.8 307.8h0M147.3 305.4h0M144.8 304.7h0M142.2 304.1h0M139.5 303.4h0M132.7 298.8h0M130.4 296.6h0M124.0 294.9h0M120.1 296.0h0M116.8 293.4h0M113.1 290.9h0M112.2 286.9h0M106.8 285.7h0M172.0 314.8h0M170.0 314.5h0M167.9 314.1h0M165.7 313.8h0M165.0 311.9h0M162.7 311.4h0M155.5 309.8h0M152.9 309.1h0M150.4 308.5h0M145.2 307.1h0M137.2 305.1h0M136.9 302.7h0M132.3 301.3h0M129.5 299.4h0M123.2 298.3h0M116.0 297.3h0M112.0 294.9h0M107.9 291.4h0M170.7 316.3h0M168.6 316.0h0M163.4 313.4h0M161.0 313.1h0M158.6 312.6h0M156.1 312.1h0M153.6 311.4h0M151.0 310.8h0M148.4 310.1h0M145.7 309.5h0M143.1 308.8h0M142.6 306.5h0M139.9 305.8h0M134.3 303.9h0M131.5 303.6h0M128.9 302.1h0M126.2 300.3h0M119.6 299.6h0M107.2 296.3h0M102.2 293.9h0M171.5 318.0h0M164.2 315.4h0M161.8 315.1h0M159.3 314.8h0M156.8 314.3h0M154.3 313.8h0M146.3 311.8h0M143.6 311.2h0M140.4 308.2h0M137.6 307.5h0M134.8 306.6h0M128.9 304.9h0M122.9 301.6h0M115.9 301.2h0M111.8 299.0h0M172.3 319.6h0M169.4 317.8h0M167.3 317.5h0M165.1 317.3h0M162.7 317.1h0M160.2 316.8h0M157.6 316.6h0M155.1 316.1h0M151.7 313.1h0M149.0 312.4h0M140.9 310.6h0M138.2 309.9h0M135.4 309.1h0M132.5 308.4h0M129.4 307.6h0M126.2 306.4h0M126.0 303.4h0M123.0 304.9h0M119.6 303.2h0M107.7 301.0h0M173.2 321.2h0M170.3 319.5h0M168.2 319.3h0M166.0 319.1h0M163.7 318.9h0M161.2 318.8h0M155.9 318.5h0M152.5 315.4h0M149.7 314.7h0M147.0 314.1h0M144.3 313.5h0M141.5 312.9h0M138.8 312.3h0M136.0 311.6h0M133.1 310.9h0M130.1 310.1h0M126.9 309.2h0M123.5 308.0h0M120.1 306.6h0M116.3 305.0h0M171.3 321.2h0M169.2 321.0h0M167.0 320.8h0M164.8 320.7h0M158.7 318.7h0M153.2 317.7h0M150.5 317.0h0M147.7 316.3h0M144.9 315.8h0M142.2 315.3h0M139.4 314.7h0M136.6 314.1h0M133.8 313.4h0M130.8 312.7h0M124.4 310.9h0M117.1 308.6h0M112.3 303.2h0M172.3 322.9h0M168.1 322.4h0M162.5 320.7h0M160.1 320.6h0M157.7 320.6h0M155.4 320.8h0M153.4 320.1h0M151.1 319.2h0M148.4 318.6h0M145.7 318.2h0M142.9 317.7h0M140.1 317.2h0M134.6 315.9h0M131.6 315.1h0M127.6 311.8h0M120.9 309.8h0M113.0 307.2h0M108.6 305.4h0M171.1 324.2h0M169.1 323.9h0M166.9 323.9h0M165.9 322.4h0M163.6 322.4h0M161.3 322.5h0M146.5 320.6h0M143.8 320.1h0M141.0 319.6h0M138.1 319.0h0M137.3 316.6h0M132.5 317.6h0M129.4 316.9h0M128.5 314.4h0M125.3 313.7h0M118.2 311.9h0M114.2 310.9h0M109.7 309.7h0M105.2 308.0h0M99.8 306.5h0M94.0 305.3h0M172.8 324.9h0M171.5 326.0h0M169.7 325.5h0M167.9 325.2h0M166.1 325.8h0M164.8 324.1h0M162.5 324.2h0M160.1 324.4h0M158.8 322.6h0M156.3 322.9h0M153.7 322.7h0M151.3 321.7h0M149.1 320.8h0M136.1 320.9h0M135.2 318.5h0M130.5 319.1h0M127.5 318.9h0M126.3 316.4h0M123.1 315.8h0M119.6 315.0h0M115.7 314.2h0M111.3 313.4h0M106.5 312.8h0M102.0 310.9h0M173.1 326.6h0M171.8 327.7h0M170.0 327.2h0M168.1 326.7h0M165.0 327.3h0M163.9 325.8h0M161.6 326.1h0M154.7 324.9h0M151.4 323.9h0M148.1 322.9h0M145.0 322.5h0M134.1 322.7h0M133.0 320.4h0M129.3 321.1h0M124.3 318.6h0M121.0 318.0h0M108.8 316.5h0M103.8 316.7h0M96.7 310.1h0M91.2 310.0h0M173.4 328.2h0M170.4 328.9h0M168.5 328.3h0M166.6 327.9h0M157.6 324.7h0M152.1 326.1h0M147.0 326.9h0M135.4 324.7h0M131.3 323.0h0M128.0 323.1h0M124.1 323.6h0M122.6 320.9h0M99.7 314.2h0M172.1 329.3h0M168.9 329.7h0M167.0 329.5h0M159.3 326.4h0M156.7 326.7h0M154.3 327.3h0M149.8 327.4h0M144.1 326.6h0M135.2 326.8h0M132.6 325.6h0M129.8 325.3h0M120.6 323.2h0M109.9 323.1h0M106.9 320.1h0M102.3 321.2h0M98.5 318.3h0M94.6 314.6h0M173.7 330.2h0M170.3 330.6h0M168.1 331.0h0M166.1 331.1h0M158.6 328.4h0M156.3 328.9h0M151.9 328.7h0M148.1 329.1h0M145.3 329.0h0M142.4 328.7h0M139.5 328.5h0M136.6 328.7h0M133.4 328.5h0M121.9 325.9h0M118.4 325.6h0M109.7 326.5h0M105.8 324.2h0M88.1 321.0h0M173.1 331.8h0M171.3 332.0h0M169.4 332.1h0M167.4 332.4h0M165.4 332.8h0M163.5 332.6h0M159.8 332.0h0M158.1 330.5h0M155.7 331.2h0M154.0 329.6h0M152.9 331.6h0M146.9 331.2h0M143.9 331.1h0M140.9 330.9h0M138.0 330.8h0M134.8 330.8h0M131.4 330.5h0M123.2 328.7h0M120.1 328.4h0M116.6 328.2h0M115.1 331.0h0M112.8 328.8h0M101.3 325.8h0M97.3 322.9h0M93.3 319.5h0M92.3 324.6h0M177.4 332.9h0M175.7 332.9h0M174.0 333.1h0M172.3 333.3h0M170.5 333.5h0M168.7 333.7h0M166.9 333.9h0M161.5 333.4h0M157.6 332.6h0M155.0 333.3h0M152.6 334.1h0M150.5 332.7h0M148.0 333.3h0M145.3 333.4h0M142.3 333.2h0M136.5 332.9h0M132.8 332.7h0M129.9 333.0h0M125.1 331.2h0M109.3 330.2h0M105.4 328.2h0M100.8 330.3h0M96.5 327.8h0M87.5 327.0h0M176.6 334.1h0M175.0 334.3h0M173.4 334.5h0M171.6 334.7h0M169.8 335.0h0M167.8 335.2h0M165.3 334.7h0M159.5 334.1h0M149.9 335.0h0M146.9 335.7h0M143.7 335.4h0M139.4 333.2h0M134.6 334.3h0M126.9 333.2h0M112.6 333.2h0M108.8 333.6h0M105.0 332.1h0M176.1 335.4h0M174.4 335.7h0M172.8 336.0h0M171.1 336.2h0M169.3 336.5h0M167.6 336.8h0M165.9 336.4h0M163.8 336.2h0M157.1 334.7h0M154.6 335.5h0M152.1 336.6h0M149.4 337.1h0M140.7 335.5h0M137.6 335.4h0M134.7 336.3h0M131.7 335.4h0M128.5 335.5h0M114.5 336.3h0M110.6 336.5h0M176.5 337.7h0M175.5 336.7h0M173.9 337.1h0M172.2 337.5h0M170.5 337.8h0M168.7 338.1h0M166.7 338.1h0M164.9 337.9h0M160.8 337.5h0M158.6 337.8h0M156.7 336.8h0M154.4 337.8h0M147.0 338.4h0M144.8 337.6h0M139.3 337.8h0M136.5 338.0h0M130.1 337.8h0M127.0 338.0h0M175.0 338.2h0M173.3 338.6h0M171.6 339.0h0M169.8 339.3h0M167.8 339.6h0M165.9 339.7h0M161.8 339.5h0M159.7 339.4h0M156.7 339.1h0M152.1 339.1h0M149.5 339.3h0M142.2 337.8h0M138.0 340.1h0M133.0 338.0h0M131.7 340.1h0M128.6 340.2h0M120.3 338.6h0M116.5 339.0h0M112.6 339.4h0M174.2 339.9h0M172.6 340.2h0M170.9 340.6h0M167.0 341.1h0M164.9 341.3h0M162.8 341.3h0M160.6 341.2h0M150.3 341.3h0M148.5 343.1h0M147.3 340.9h0M134.9 340.1h0M133.4 342.3h0M125.5 340.4h0M122.2 340.8h0M118.7 341.4h0M114.9 341.9h0M110.8 342.5h0M106.1 342.9h0M173.7 341.4h0M172.0 341.8h0M169.0 340.9h0M166.2 342.8h0M163.9 343.1h0M161.5 343.0h0M151.4 343.5h0M136.5 342.3h0M135.0 344.5h0M130.3 342.4h0M127.3 342.5h0M124.2 342.9h0M123.0 345.6h0M120.9 343.5h0M117.4 344.3h0M113.6 345.1h0M104.8 346.8h0M97.0 345.6h0M92.0 346.2h0M173.3 342.9h0M170.2 342.1h0M168.3 342.5h0M163.9 344.9h0M161.9 344.9h0M159.7 344.6h0M157.9 345.9h0M155.3 345.7h0M152.6 345.6h0M149.7 345.4h0M146.8 345.1h0M138.0 344.5h0M132.0 344.6h0M129.0 344.7h0M126.1 345.0h0M125.1 347.5h0M119.9 346.4h0M116.4 347.4h0M112.6 348.4h0M109.3 345.9h0M100.3 348.7h0M169.7 343.7h0M167.8 344.1h0M165.3 346.4h0M160.7 346.7h0M158.8 347.7h0M156.3 347.7h0M153.7 347.7h0M148.1 347.4h0M145.3 347.1h0M142.4 347.0h0M139.4 346.9h0M136.5 346.8h0M133.6 346.8h0M130.6 346.9h0M122.4 348.4h0M112.2 351.9h0M108.5 349.6h0M104.3 351.3h0M99.4 353.4h0M95.2 350.0h0M172.9 344.5h0M171.1 345.0h0M169.2 345.4h0M167.3 345.9h0M163.1 346.8h0M146.6 349.5h0M143.7 349.3h0M137.8 349.1h0M135.1 349.0h0M131.9 349.0h0M128.9 349.4h0M127.8 347.2h0M125.6 350.1h0M122.3 351.1h0M115.8 350.6h0M108.3 353.5h0M89.5 357.0h0M172.5 346.1h0M170.6 346.6h0M168.7 347.2h0M166.7 347.8h0M164.6 348.3h0M162.4 348.7h0M160.2 349.2h0M155.0 349.8h0M151.0 347.6h0M149.5 349.7h0M140.8 349.1h0M136.3 351.6h0M133.7 350.9h0M128.0 352.0h0M125.0 352.8h0M121.9 354.0h0M119.0 352.4h0M112.2 355.6h0M104.0 355.6h0M94.7 358.8h0M172.1 347.7h0M170.2 348.3h0M168.3 349.0h0M161.8 350.8h0M157.7 349.7h0M152.3 349.8h0M145.0 351.6h0M142.2 351.3h0M133.2 353.1h0M130.4 353.9h0M99.7 358.4h0M173.6 348.8h0M171.8 349.4h0M169.9 350.1h0M159.3 351.3h0M156.6 351.7h0M153.9 351.9h0M152.9 354.2h0M151.1 351.9h0M147.9 351.6h0M146.4 353.7h0M143.5 354.0h0M132.7 355.6h0M121.8 357.1h0M119.2 359.0h0M112.5 359.3h0M108.4 357.5h0M104.5 359.9h0M91.0 362.5h0M173.4 350.4h0M171.6 351.2h0M169.8 352.0h0M160.9 352.9h0M158.3 353.4h0M155.7 353.8h0M149.3 353.6h0M148.1 355.7h0M142.6 356.6h0M140.3 355.4h0M137.6 356.2h0M135.0 357.1h0M132.2 358.2h0M122.7 360.4h0M116.0 360.9h0M112.7 363.5h0M109.1 361.5h0M106.2 364.1h0M101.4 363.4h0M96.5 363.3h0M93.4 367.6h0M169.8 353.9h0M162.3 354.6h0M160.0 355.1h0M157.5 355.6h0M152.6 356.8h0M150.7 355.4h0M145.3 356.0h0M139.9 357.7h0M137.2 358.7h0M126.0 362.9h0M119.7 362.2h0M116.8 364.3h0M103.9 367.9h0M98.8 367.9h0M96.0 372.5h0M171.5 353.0h0M168.0 354.8h0M166.1 355.6h0M155.0 356.1h0M149.9 357.6h0M147.3 357.8h0M144.6 358.3h0M142.0 359.1h0M139.5 360.2h0M128.4 364.7h0M123.0 363.3h0M120.8 365.4h0M101.4 372.3h0M171.5 355.0h0M169.7 355.9h0M167.8 356.9h0M165.7 357.7h0M164.0 356.3h0M159.3 357.3h0M156.9 357.9h0M154.5 358.5h0M154.0 360.7h0M151.9 359.2h0M144.1 360.7h0M141.7 361.7h0M139.2 362.8h0M131.1 366.2h0M125.1 365.9h0M99.0 377.1h0M171.6 356.9h0M169.6 357.9h0M167.6 358.9h0M163.5 358.4h0M161.7 356.8h0M161.2 359.0h0M156.4 360.3h0M144.0 363.1h0M141.7 364.2h0M139.2 365.3h0M131.4 368.9h0M125.6 370.0h0M122.5 371.9h0M171.6 358.8h0M169.5 359.9h0M167.2 361.0h0M165.4 359.8h0M163.1 360.6h0M160.7 361.1h0M153.4 362.8h0M141.8 366.6h0M136.7 366.5h0M134.0 367.6h0M125.2 373.9h0M121.5 375.4h0M107.8 380.0h0M164.9 361.9h0M162.6 362.9h0M160.3 363.1h0M144.2 365.4h0M139.3 367.8h0M136.8 369.1h0M134.2 370.4h0M124.8 377.4h0M117.3 377.0h0M116.5 381.1h0M112.8 378.5h0M102.4 381.3h0M168.7 362.4h0M166.7 363.1h0M156.1 365.5h0M153.7 364.8h0M146.7 366.5h0M144.3 367.8h0M141.9 369.1h0M139.4 370.4h0M136.9 371.8h0M134.3 373.2h0M131.4 374.7h0M128.3 376.0h0M120.8 379.1h0M120.4 383.0h0M111.7 383.2h0M106.4 385.1h0M170.5 361.6h0M164.6 364.1h0M162.7 365.5h0M160.4 365.1h0M158.5 366.5h0M154.0 367.0h0M151.7 368.4h0M149.2 367.4h0M146.9 368.8h0M144.5 370.2h0M142.1 371.6h0M139.7 373.0h0M137.1 374.6h0M134.4 376.2h0M131.5 377.8h0M128.2 379.2h0M124.5 380.8h0M121.2 386.9h0M116.1 385.5h0M168.6 364.4h0M166.7 365.1h0M164.8 366.3h0M160.9 367.3h0M156.4 367.8h0M154.2 369.3h0M147.2 371.2h0M144.8 372.7h0M142.4 374.1h0M139.9 375.7h0M137.4 377.5h0M134.7 379.2h0M131.8 381.1h0M124.7 384.4h0M125.9 388.2h0M117.8 389.6h0M163.2 367.9h0M161.4 369.5h0M158.9 368.7h0M156.5 370.0h0M154.4 371.5h0M152.0 370.7h0M149.7 372.1h0M147.5 373.6h0M145.2 375.2h0M142.8 376.7h0M140.3 378.5h0M138.0 380.6h0M135.3 382.3h0M132.5 384.7h0M128.7 385.5h0M122.8 391.2h0M168.9 366.7h0M165.5 368.4h0M164.0 369.9h0M158.7 370.8h0M156.8 372.3h0M152.3 373.0h0M150.1 374.4h0M147.8 375.9h0M143.1 379.1h0M119.4 394.4h0M167.9 368.7h0M166.5 370.2h0M162.9 371.7h0M160.8 371.5h0M159.1 373.1h0M154.8 373.8h0M152.7 375.3h0M150.5 376.8h0M148.4 378.2h0M145.6 377.9h0M141.2 381.4h0M139.6 384.0h0M136.3 385.2h0M130.5 388.6h0M127.9 391.9h0M124.9 395.5h0M165.2 371.8h0M163.8 373.6h0M161.4 373.5h0M157.3 374.6h0M153.0 377.6h0M147.4 380.4h0M144.5 381.2h0M134.5 388.2h0M130.4 395.8h0M167.5 372.0h0M162.4 375.3h0M159.8 375.2h0M153.2 379.9h0M150.7 379.3h0M146.7 383.1h0M145.4 386.0h0M141.9 386.8h0M138.5 387.8h0M137.1 391.3h0M164.7 375.6h0M163.5 377.3h0M161.1 376.9h0M157.8 376.9h0M155.5 378.4h0M148.4 385.2h0M141.1 390.4h0M135.5 395.3h0M159.7 378.3h0M157.8 379.4h0M155.6 380.8h0M153.0 382.2h0M144.6 389.2h0M162.1 379.0h0M160.3 380.4h0M158.2 381.7h0M155.8 383.2h0M153.6 384.8h0M151.1 386.7h0M147.7 391.3h0M144.1 392.9h0M158.5 384.0h0M156.4 385.7h0M154.0 387.3h0M177.2 336.4h0M177.8 335.0h0M302.2 285.3h0M304.4 283.4h0M307.0 281.3h0M310.5 279.6h0M314.1 278.3h0M295.8 292.3h0M303.2 287.9h0M305.2 286.1h0M318.5 277.0h0M323.1 276.4h0M294.4 295.5h0M296.3 294.4h0M298.2 293.1h0M298.8 289.1h0M301.3 289.6h0M311.0 285.0h0M291.8 298.1h0M292.6 296.6h0M296.3 296.5h0M298.4 295.4h0M300.4 294.1h0M300.2 291.7h0M303.7 290.5h0M309.2 289.4h0M308.3 286.9h0M311.6 287.6h0M325.9 279.8h0M328.3 275.7h0M291.2 299.8h0M294.3 297.6h0M298.2 297.7h0M300.4 296.6h0M302.6 292.9h0M307.6 293.4h0M312.0 290.3h0M314.6 288.3h0M321.1 284.8h0M333.9 276.5h0M290.6 301.5h0M293.5 299.4h0M296.0 298.7h0M300.1 299.0h0M302.4 297.9h0M302.6 295.4h0M304.9 294.5h0M310.0 292.0h0M317.7 286.6h0M328.1 286.3h0M325.1 283.5h0M329.9 283.1h0M334.7 281.3h0M289.9 303.3h0M292.9 301.2h0M295.4 300.6h0M297.8 299.9h0M302.1 300.3h0M304.8 296.8h0M307.4 295.7h0M310.1 294.5h0M314.7 291.1h0M317.5 289.7h0M320.7 288.3h0M324.1 287.1h0M333.9 285.4h0M339.1 278.7h0M288.9 305.0h0M291.4 304.9h0M292.2 303.0h0M294.7 302.6h0M297.2 302.0h0M299.7 301.3h0M304.5 299.0h0M307.1 298.0h0M309.8 296.9h0M312.6 295.9h0M312.9 293.2h0M316.9 292.6h0M320.0 291.5h0M326.9 289.6h0M339.1 283.8h0M288.8 306.8h0M290.8 306.7h0M293.8 304.5h0M296.4 304.0h0M298.9 303.5h0M301.5 302.8h0M304.3 301.1h0M306.8 300.2h0M309.4 299.3h0M312.0 298.3h0M315.0 297.6h0M315.5 295.0h0M319.0 294.4h0M322.3 293.7h0M331.1 288.6h0M287.8 308.3h0M293.1 306.4h0M295.5 306.0h0M298.0 305.6h0M300.6 305.1h0M303.9 303.1h0M306.4 302.5h0M308.9 301.6h0M311.4 300.8h0M314.1 299.9h0M317.9 296.9h0M321.3 296.5h0M329.2 292.1h0M344.2 281.4h0M289.9 308.6h0M294.6 308.0h0M297.1 307.7h0M299.6 307.3h0M303.0 305.0h0M305.7 304.6h0M308.3 304.0h0M317.2 299.5h0M320.0 298.7h0M324.4 296.1h0M325.6 293.0h0M333.0 291.6h0M335.8 289.0h0M344.6 286.3h0M288.8 310.5h0M291.2 310.3h0M302.2 307.0h0M307.6 306.2h0M310.9 303.2h0M313.4 302.4h0M315.9 301.5h0M320.8 301.0h0M326.6 298.3h0M340.1 288.0h0M287.9 312.6h0M290.2 312.1h0M293.7 310.0h0M296.2 309.7h0M303.9 308.8h0M304.9 306.7h0M310.3 305.6h0M313.0 304.8h0M315.7 303.8h0M323.3 302.4h0M335.4 294.0h0M339.0 292.1h0M343.7 291.0h0M348.8 289.8h0M287.3 314.6h0M289.5 314.1h0M302.9 311.0h0M306.7 308.4h0M309.5 307.9h0M315.3 306.1h0M318.1 304.9h0M320.7 303.7h0M323.3 305.1h0M325.9 301.1h0M329.0 300.3h0M332.5 300.8h0M338.0 296.5h0M342.2 295.2h0M285.0 317.3h0M286.9 316.6h0M288.9 316.0h0M291.0 315.5h0M299.2 313.4h0M305.6 310.6h0M312.5 307.2h0M317.9 307.3h0M328.9 302.9h0M331.7 304.4h0M354.5 289.3h0M358.1 293.8h0M286.5 318.5h0M288.5 317.9h0M300.8 315.2h0M304.7 312.8h0M313.2 309.3h0M315.4 308.4h0M317.7 309.8h0M320.3 308.7h0M323.0 307.8h0M325.8 306.8h0M328.6 305.8h0M284.7 319.1h0M296.2 317.3h0M298.1 315.6h0M299.9 317.2h0M303.7 314.9h0M306.5 314.7h0M315.3 310.9h0M319.9 311.2h0M322.6 310.4h0M325.3 309.5h0M328.1 308.7h0M331.0 307.7h0M334.0 306.6h0M337.4 305.6h0M341.4 305.3h0M345.6 305.6h0M358.4 302.9h0M361.3 298.6h0M286.1 320.3h0M288.0 319.8h0M302.7 316.8h0M305.5 316.8h0M308.3 316.7h0M315.0 313.4h0M317.4 312.3h0M319.4 313.6h0M322.0 312.9h0M324.7 312.2h0M333.3 309.9h0M336.3 309.0h0M339.6 308.2h0M350.4 305.9h0M363.9 303.6h0M285.6 322.1h0M289.4 321.2h0M296.0 319.6h0M297.8 320.9h0M299.9 319.9h0M301.8 318.7h0M310.6 318.0h0M311.5 316.0h0M314.4 315.6h0M323.9 314.8h0M335.8 312.1h0M339.2 311.2h0M347.6 309.1h0M355.5 306.8h0M286.8 323.3h0M287.5 321.6h0M290.8 322.6h0M293.0 322.2h0M295.5 321.8h0M300.5 322.0h0M302.6 320.8h0M304.3 318.9h0M307.0 319.0h0M313.6 317.8h0M316.5 317.5h0M325.7 316.8h0M335.0 315.1h0M344.9 311.8h0M348.9 313.0h0M352.3 310.2h0M285.2 324.0h0M287.7 324.7h0M288.7 323.0h0M289.9 324.4h0M292.1 324.1h0M294.2 323.8h0M298.3 322.9h0M305.1 321.1h0M309.5 319.8h0M312.4 319.9h0M315.4 319.8h0M324.6 319.2h0M327.6 318.8h0M330.6 318.3h0M333.8 317.7h0M357.2 311.6h0M360.6 307.8h0M283.6 325.8h0M285.5 325.6h0M287.2 326.3h0M291.2 325.8h0M296.4 323.6h0M303.1 323.2h0M305.9 323.4h0M310.7 321.8h0M313.9 321.9h0M317.1 321.9h0M320.3 321.7h0M323.4 321.5h0M326.4 321.3h0M329.4 320.9h0M335.6 319.9h0M337.7 317.7h0M345.1 315.2h0M362.2 312.8h0M366.0 308.9h0M284.8 327.1h0M286.5 327.7h0M288.5 327.7h0M289.2 326.0h0M295.7 325.5h0M298.1 325.1h0M300.3 324.2h0M302.1 325.4h0M308.8 323.7h0M311.7 323.9h0M314.5 324.1h0M319.8 324.0h0M322.6 323.9h0M325.5 323.7h0M328.4 323.5h0M332.4 320.4h0M334.5 322.6h0M337.8 321.6h0M340.9 319.7h0M341.3 316.6h0M358.2 316.6h0M364.0 317.5h0M367.9 314.2h0M284.2 328.7h0M285.8 329.1h0M290.4 327.5h0M292.5 327.3h0M294.9 327.3h0M297.3 327.0h0M300.0 326.6h0M302.5 327.5h0M304.4 325.4h0M307.1 325.7h0M309.9 325.9h0M317.2 324.2h0M327.4 326.0h0M330.4 325.9h0M331.3 323.1h0M340.8 322.9h0M344.4 321.7h0M348.6 320.5h0M360.9 320.8h0M287.7 329.2h0M289.6 329.2h0M293.6 328.7h0M296.4 328.9h0M298.9 328.4h0M301.0 329.5h0M305.3 327.6h0M308.2 327.9h0M318.6 326.3h0M333.3 325.1h0M336.8 324.7h0M340.0 325.6h0M343.7 325.0h0M347.7 324.1h0M356.6 322.0h0M369.1 319.9h0M284.8 330.3h0M286.7 330.5h0M288.7 330.7h0M291.5 329.0h0M298.3 330.3h0M302.5 331.4h0M303.8 329.6h0M305.1 331.8h0M306.6 329.8h0M309.4 330.2h0M329.0 328.4h0M332.1 328.6h0M334.8 327.1h0M337.9 327.7h0M342.2 328.0h0M346.4 327.5h0M350.8 326.9h0M365.2 323.4h0M284.1 331.8h0M285.7 331.8h0M287.5 331.8h0M290.7 330.7h0M294.7 330.0h0M296.3 331.1h0M300.0 331.6h0M303.6 333.7h0M307.8 332.1h0M318.2 330.6h0M327.3 330.8h0M330.2 331.0h0M335.1 329.8h0M338.3 330.4h0M349.4 330.4h0M354.1 330.1h0M364.9 328.5h0M370.0 325.9h0M281.9 333.4h0M282.8 334.7h0M283.5 333.3h0M285.1 333.2h0M286.8 333.2h0M290.2 332.5h0M292.1 332.2h0M294.1 331.8h0M301.4 333.4h0M306.2 334.1h0M310.6 332.5h0M313.6 332.8h0M316.4 332.8h0M319.5 332.8h0M328.4 333.3h0M333.0 331.8h0M341.5 330.9h0M345.1 330.6h0M351.7 333.7h0M281.2 334.7h0M284.4 334.7h0M286.1 334.7h0M287.9 334.6h0M289.7 334.3h0M291.5 333.9h0M293.5 333.6h0M301.7 335.5h0M304.3 335.9h0M307.1 336.3h0M309.0 334.5h0M311.9 334.9h0M317.6 334.9h0M320.7 334.9h0M322.5 332.9h0M325.5 333.1h0M331.2 334.0h0M343.2 333.5h0M280.5 335.9h0M282.0 336.0h0M283.6 336.1h0M285.3 336.1h0M287.1 336.1h0M289.0 336.0h0M291.0 335.7h0M293.0 335.3h0M295.1 335.0h0M300.1 337.4h0M302.6 337.7h0M305.2 338.1h0M310.0 336.8h0M314.8 335.2h0M321.5 337.3h0M323.6 335.2h0M326.4 335.6h0M329.2 336.1h0M332.0 336.8h0M341.0 336.2h0M344.8 336.4h0M347.2 333.6h0M356.2 333.7h0M282.7 337.4h0M284.4 337.4h0M286.2 337.5h0M288.1 337.5h0M288.9 339.0h0M290.1 337.4h0M292.5 336.9h0M294.8 336.7h0M308.1 338.6h0M313.0 337.2h0M318.7 336.9h0M324.4 337.7h0M327.2 338.2h0M330.0 338.8h0M332.8 339.5h0M338.5 338.3h0M342.3 339.2h0M346.2 339.1h0M349.3 336.7h0M354.2 337.6h0M360.2 335.6h0M281.5 338.6h0M283.5 338.7h0M285.2 338.8h0M287.0 338.9h0M290.6 339.5h0M291.7 338.2h0M293.9 338.3h0M296.1 338.5h0M298.4 338.9h0M300.8 339.5h0M308.9 340.9h0M311.0 339.1h0M313.9 339.7h0M322.1 339.7h0M327.8 340.9h0M333.6 342.3h0M336.0 340.3h0M339.3 341.1h0M350.2 340.2h0M359.0 340.0h0M284.2 340.1h0M286.0 340.3h0M291.4 341.1h0M292.7 339.8h0M299.2 341.1h0M311.8 341.5h0M314.6 342.2h0M317.5 343.1h0M330.6 341.5h0M331.3 344.2h0M336.6 343.1h0M349.6 343.9h0M354.1 341.9h0M358.1 344.4h0M283.4 341.4h0M286.7 341.9h0M288.5 342.2h0M309.7 343.2h0M312.5 344.0h0M320.4 343.9h0M328.4 343.5h0M334.3 345.0h0M363.5 343.1h0M283.9 342.9h0M285.6 343.2h0M292.0 342.8h0M299.9 343.3h0M305.4 346.3h0M307.6 344.9h0M310.3 345.7h0M315.2 344.8h0M318.1 345.6h0M321.0 346.4h0M326.1 345.4h0M328.9 346.0h0M331.9 346.8h0M356.6 348.8h0M361.8 347.4h0M284.4 344.5h0M286.2 344.8h0M287.5 343.6h0M289.4 344.0h0M291.6 344.4h0M293.9 345.2h0M296.1 346.1h0M298.0 344.8h0M300.3 345.7h0M302.8 346.6h0M305.4 348.4h0M308.0 347.2h0M313.0 346.6h0M315.8 347.4h0M318.7 348.1h0M321.6 348.9h0M323.9 347.3h0M326.7 348.0h0M329.6 348.5h0M348.6 347.5h0M351.7 350.2h0M354.9 353.1h0M359.9 352.0h0M369.0 353.0h0M284.9 346.1h0M288.1 345.2h0M290.1 345.6h0M292.1 346.2h0M298.2 347.1h0M300.5 348.0h0M310.6 348.2h0M313.4 349.1h0M316.4 349.8h0M319.2 350.6h0M322.0 351.2h0M324.5 350.0h0M327.4 350.5h0M330.4 350.9h0M343.3 352.0h0M347.3 351.2h0M350.1 354.2h0M358.4 356.5h0M364.8 350.6h0M367.7 358.3h0M288.6 346.9h0M290.5 347.4h0M292.5 348.0h0M296.0 348.3h0M298.2 349.3h0M302.7 351.6h0M314.3 351.3h0M317.1 352.4h0M320.1 353.0h0M329.0 352.9h0M331.1 354.8h0M334.4 355.1h0M338.0 355.2h0M341.7 355.0h0M345.8 354.8h0M353.2 357.3h0M363.6 355.3h0M365.7 363.4h0M287.2 348.2h0M289.1 348.7h0M291.2 349.3h0M293.8 349.6h0M300.4 350.3h0M310.5 350.7h0M312.0 352.5h0M314.3 353.7h0M325.8 352.7h0M327.6 354.9h0M332.7 357.4h0M336.2 357.7h0M339.9 358.0h0M343.9 358.1h0M351.4 361.0h0M356.6 360.8h0M362.0 360.0h0M285.7 349.4h0M287.6 349.9h0M289.6 350.5h0M291.8 351.0h0M293.9 351.7h0M296.0 350.5h0M298.2 351.5h0M300.3 352.7h0M302.5 354.0h0M307.2 354.5h0M311.9 355.0h0M316.4 354.8h0M318.8 355.1h0M321.5 355.4h0M324.5 355.6h0M326.7 357.0h0M329.7 357.1h0M334.2 360.1h0M337.7 360.5h0M341.7 361.0h0M349.5 364.3h0M354.5 364.9h0M359.9 364.7h0M363.3 368.4h0M284.3 350.6h0M288.0 351.7h0M290.0 352.3h0M292.0 353.0h0M296.0 352.7h0M298.1 353.9h0M300.2 355.1h0M302.3 356.5h0M304.7 355.4h0M306.8 356.9h0M309.5 356.0h0M314.2 356.3h0M316.8 357.1h0M319.5 357.5h0M322.3 357.8h0M327.9 359.3h0M330.9 359.7h0M346.1 361.6h0M286.1 351.1h0M288.2 353.5h0M293.9 353.9h0M295.9 355.0h0M306.5 359.4h0M309.0 358.3h0M311.8 357.6h0M314.6 358.8h0M317.4 359.5h0M322.9 360.4h0M325.8 361.1h0M328.9 361.8h0M332.0 362.4h0M335.4 363.0h0M339.0 363.5h0M343.0 364.4h0M346.4 366.5h0M286.3 352.9h0M288.3 355.3h0M290.1 354.2h0M293.7 356.1h0M295.6 357.3h0M297.9 356.2h0M299.9 357.5h0M310.9 359.8h0M313.1 360.7h0M315.5 361.3h0M323.8 362.8h0M326.7 363.7h0M327.3 366.3h0M329.7 364.5h0M332.9 365.3h0M339.7 366.6h0M351.2 368.3h0M356.8 369.3h0M360.9 373.0h0M286.5 354.8h0M289.9 356.2h0M291.6 357.2h0M293.3 358.3h0M297.6 358.5h0M302.0 358.9h0M304.1 360.4h0M308.6 360.8h0M310.9 362.2h0M318.2 362.0h0M330.5 367.3h0M336.3 366.1h0M342.6 368.4h0M346.5 370.4h0M350.8 372.5h0M355.2 374.2h0M287.2 356.9h0M289.1 358.0h0M295.2 359.5h0M297.2 360.7h0M299.6 359.8h0M301.7 361.3h0M306.2 361.8h0M308.4 363.3h0M310.8 364.6h0M316.3 363.8h0M321.7 364.5h0M324.4 365.4h0M327.7 369.0h0M334.0 368.4h0M334.5 371.5h0M342.0 372.0h0M346.0 374.5h0M350.4 377.0h0M354.5 380.4h0M287.1 358.9h0M292.9 360.4h0M294.8 361.6h0M299.3 362.1h0M303.7 362.8h0M305.9 364.2h0M308.1 365.6h0M312.2 366.5h0M316.8 366.4h0M321.8 366.8h0M324.7 367.9h0M330.9 370.2h0M331.0 373.2h0M334.4 374.8h0M338.0 373.3h0M341.5 375.9h0M348.9 381.4h0M352.9 385.1h0M288.8 360.0h0M290.7 361.2h0M301.3 363.7h0M303.3 365.1h0M309.9 367.3h0M314.5 367.8h0M319.3 367.7h0M327.8 371.8h0M327.7 374.8h0M347.6 385.9h0M288.5 361.9h0M298.8 364.2h0M300.8 366.1h0M309.5 369.7h0M312.0 368.9h0M316.9 369.0h0M330.9 376.3h0M334.0 378.4h0M337.5 377.1h0M343.4 383.0h0M290.3 363.3h0M292.5 362.5h0M298.3 366.1h0M300.7 368.5h0M311.6 371.3h0M314.3 370.3h0M316.7 371.7h0M324.6 376.3h0M327.6 377.9h0M330.8 379.6h0M332.0 382.8h0M335.9 381.5h0M338.3 384.7h0M342.2 387.4h0M288.2 363.9h0M293.9 365.9h0M296.1 367.0h0M298.4 367.9h0M298.6 370.0h0M308.9 372.2h0M313.9 372.8h0M316.4 374.3h0M319.0 376.0h0M321.7 377.7h0M324.6 379.5h0M327.8 381.3h0M333.4 386.4h0M289.9 365.3h0M292.1 369.0h0M294.0 367.9h0M296.3 369.0h0M300.8 370.9h0M303.0 372.1h0M306.1 373.1h0M308.4 374.5h0M311.2 373.7h0M313.6 375.3h0M316.1 376.9h0M318.7 378.9h0M321.5 380.9h0M324.7 382.9h0M291.5 366.9h0M294.3 370.0h0M296.5 371.1h0M298.7 372.2h0M300.9 373.2h0M303.5 374.2h0M305.8 375.4h0M308.1 377.0h0M310.8 376.1h0M313.2 377.8h0M315.7 379.5h0M318.3 381.9h0M321.5 384.2h0M328.5 384.8h0M337.4 389.2h0M341.9 392.3h0M289.0 367.1h0M289.9 368.8h0M292.5 371.0h0M294.4 372.2h0M296.5 373.3h0M301.0 375.4h0M303.3 376.5h0M305.5 377.9h0M307.8 379.5h0M310.4 378.7h0M312.7 380.4h0M315.1 382.0h0M315.2 384.6h0M318.4 385.0h0M328.8 388.3h0M332.7 390.8h0M290.6 370.6h0M292.1 372.9h0M298.7 374.4h0M300.8 377.6h0M303.0 378.8h0M309.9 381.5h0M312.2 383.3h0M316.3 387.6h0M320.6 387.8h0M336.8 394.0h0M294.2 376.3h0M296.4 375.4h0M298.6 376.6h0M302.5 381.2h0M305.1 380.3h0M307.3 382.0h0M316.8 390.7h0M324.4 390.1h0M296.3 377.6h0M295.9 379.8h0M298.3 379.0h0M300.5 379.7h0M304.5 382.8h0M313.1 389.5h0M328.0 392.3h0M297.4 381.7h0M299.8 381.8h0M306.9 386.9h0M313.6 393.0h0M299.2 384.1h0M304.1 385.4h0M303.9 388.0h0M306.8 389.8h0M317.6 394.4h0M301.3 386.2h0M310.0 391.4h0M280.2 333.6h0M178.0 333.1h0M178.0 337.7h0M279.7 333.1h0M279.7 337.7h0M231.2 335.5h0M179.6 333.0h0M180.5 332.7h0M181.4 332.7h0M182.4 332.7h0M183.5 332.6h0M191.6 333.3h0M254.2 334.2h0M275.9 332.9h0M276.9 332.6h0M278.8 332.6h0M178.8 333.6h0M180.3 333.8h0M181.2 333.8h0M182.1 333.8h0M183.1 333.7h0M184.2 333.6h0M186.4 333.5h0M188.9 333.7h0M190.3 333.4h0M193.0 333.2h0M195.8 332.7h0M197.5 332.5h0M247.0 335.5h0M259.1 333.0h0M265.8 333.2h0M267.3 333.1h0M268.6 333.2h0M269.8 333.6h0M272.3 333.3h0M273.6 333.2h0M274.7 333.3h0M275.7 333.9h0M276.8 333.8h0M277.8 333.2h0M278.7 333.7h0M179.6 334.3h0M180.6 334.9h0M181.6 334.9h0M182.6 334.8h0M183.7 334.7h0M184.8 334.7h0M185.3 333.5h0M187.6 333.6h0M189.9 334.9h0M191.2 334.9h0M192.7 334.8h0M194.4 334.0h0M199.5 333.4h0M201.8 333.1h0M204.3 334.2h0M215.4 335.6h0M223.3 335.6h0M256.7 333.8h0M262.5 334.2h0M264.3 333.8h0M267.8 334.8h0M270.5 334.8h0M271.2 333.6h0M272.8 334.2h0M273.9 334.4h0M274.9 334.7h0M276.0 335.0h0M277.8 334.3h0M179.7 335.4h0M180.4 336.1h0M181.2 336.0h0M182.2 335.9h0M183.2 335.9h0M184.3 335.8h0M185.4 335.8h0M185.9 334.7h0M187.1 334.8h0M188.4 334.9h0M189.2 336.1h0M190.7 336.5h0M194.0 335.9h0M195.7 335.1h0M197.5 334.5h0M201.6 335.5h0M211.4 335.6h0M235.1 335.5h0M251.0 335.5h0M253.9 337.0h0M260.7 334.6h0M263.7 335.5h0M266.4 334.6h0M269.1 334.9h0M269.9 336.0h0M271.8 334.9h0M273.1 335.4h0M274.2 335.6h0M275.2 335.9h0M276.9 334.9h0M277.9 335.5h0M179.7 336.7h0M180.7 337.3h0M181.6 337.1h0M182.7 337.0h0M183.7 337.0h0M184.7 337.0h0M185.9 337.0h0M186.5 336.0h0M187.8 336.1h0M191.9 338.0h0M193.5 337.7h0M197.2 336.7h0M199.3 335.9h0M207.3 335.7h0M239.1 335.5h0M256.5 336.9h0M258.5 335.4h0M260.3 336.6h0M268.2 336.4h0M271.1 336.1h0M272.3 336.3h0M273.5 336.7h0M274.6 336.9h0M276.2 336.2h0M277.1 336.1h0M277.8 336.7h0M278.8 337.2h0M178.8 337.2h0M179.7 337.7h0M182.2 338.1h0M183.1 338.2h0M185.2 338.1h0M187.1 337.3h0M188.3 337.3h0M189.6 337.3h0M190.5 338.3h0M195.3 337.2h0M198.8 338.3h0M201.1 337.9h0M204.0 337.1h0M258.7 338.0h0M262.2 336.5h0M264.0 337.3h0M266.8 336.2h0M269.3 337.2h0M272.8 337.7h0M275.6 337.1h0M276.8 337.2h0M277.8 337.9h0M178.8 338.3h0M180.5 338.5h0M184.1 338.1h0M243.1 335.5h0M265.6 337.5h0M268.4 338.2h0M269.7 338.6h0M270.5 337.3h0M271.7 337.5h0M276.0 338.2h0M277.0 338.4h0M278.7 338.4h0M219.3 335.6h0M227.2 335.6h0M261.0 338.6h0M267.1 337.8h0" stroke="#ffd500"/>
<path d="M155.3 287.7h0M150.1 287.3h0M155.0 294.8h0M152.6 293.8h0M164.5 300.5h0M165.2 304.4h0M133.7 291.2h0M154.3 305.3h0M138.7 300.9h0M157.9 310.4h0M126.9 297.3h0M132.0 306.0h0M170.3 322.6h0M121.9 312.9h0M125.8 321.2h0M117.4 317.3h0M113.3 316.7h0M149.1 325.1h0M146.1 324.7h0M89.4 315.4h0M172.1 330.7h0M114.2 325.6h0M121.8 331.1h0M96.5 333.1h0M163.9 339.6h0M144.3 340.1h0M101.1 343.3h0M145.5 342.7h0M165.8 344.5h0M119.3 349.4h0M94.1 354.3h0M130.9 351.4h0M164.1 350.3h0M166.2 349.7h0M164.4 354.1h0M129.0 361.9h0M146.7 360.0h0M104.4 376.3h0M114.1 374.3h0M151.2 363.8h0M151.5 366.1h0M149.5 369.8h0M166.9 367.0h0M155.3 376.1h0M132.7 392.0h0M140.1 394.2h0M148.0 388.1h0M297.5 290.9h0M306.0 288.7h0M313.8 282.0h0M307.1 291.0h0M317.5 283.5h0M314.3 285.2h0M323.3 290.5h0M292.2 308.4h0M323.3 299.1h0M318.3 302.3h0M293.2 315.1h0M310.9 309.8h0M320.6 306.2h0M326.0 304.0h0M312.8 311.7h0M298.0 318.5h0M307.7 321.5h0M293.4 325.6h0M320.0 328.5h0M288.6 333.0h0M281.0 337.2h0M316.0 337.8h0M316.8 340.4h0M346.2 342.0h0M285.0 341.6h0M304.8 344.3h0M353.1 346.1h0M341.2 349.5h0M286.7 346.5h0M294.2 347.1h0M302.8 349.1h0M348.3 358.0h0M285.3 347.7h0M323.1 353.3h0M324.9 358.6h0M291.9 355.1h0M304.4 357.9h0M313.4 363.1h0M338.0 369.7h0M291.0 359.1h0M314.3 365.3h0M345.0 378.7h0M319.3 370.4h0M294.4 374.2h0M324.6 386.4h0M331.8 395.3h0M312.6 386.4h0M309.8 388.1h0M301.8 383.6h0M279.8 338.2h0M192.3 336.4h0M265.2 335.7h0M273.9 337.9h0M275.0 338.1h0M181.4 338.3h0M186.3 338.2h0" stroke="#ffaf00"/>
<path d="M130.3 279.0h0M141.4 291.9h0M166.5 315.7h0M174.5 325.6h0M150.2 330.5h0M175.3 341.0h0M171.6 343.4h0M128.4 382.3h0M121.1 399.2h0M143.2 383.8h0M300.3 287.2h0M307.6 284.2h0M317.4 280.3h0M286.3 311.5h0M292.6 330.5h0M359.8 330.4h0M319.2 339.1h0M282.8 344.1h0M340.2 380.1h0M320.6 391.5h0M178.9 339.6h0M186.7 339.2h0" stroke="#fffa00"/>
<path d="M140.5 283.5h0M139.6 280.1h0M135.1 279.3h0M132.3 282.5h0M125.3 279.3h0M129.6 285.5h0M169.4 305.8h0M124.8 285.1h0M163.3 305.8h0M161.5 307.3h0M125.4 291.7h0M162.1 309.3h0M97.5 296.8h0M103.5 303.5h0M98.0 301.7h0M126.8 325.0h0M130.7 327.9h0M124.8 326.5h0M128.4 330.6h0M126.1 329.0h0M163.4 334.4h0M159.2 336.0h0M125.3 335.7h0M106.0 336.2h0M101.4 334.9h0M162.9 337.8h0M177.0 338.8h0M158.1 340.8h0M154.6 339.9h0M123.7 338.3h0M108.1 339.5h0M153.0 341.5h0M159.0 342.7h0M156.9 343.9h0M154.2 343.6h0M86.7 345.8h0M139.2 351.3h0M115.6 353.9h0M118.8 355.6h0M140.8 353.2h0M135.5 354.5h0M117.9 367.4h0M173.2 354.0h0M128.0 367.5h0M122.6 368.2h0M158.8 359.6h0M118.5 373.3h0M155.9 362.9h0M131.5 371.8h0M128.4 372.9h0M158.1 364.2h0M114.0 392.2h0M166.0 373.7h0M150.9 384.0h0M310.3 282.5h0M305.1 292.3h0M298.7 309.4h0M327.9 295.4h0M331.5 294.8h0M285.7 313.4h0M301.3 309.2h0M334.0 297.5h0M297.7 311.5h0M301.9 313.1h0M336.4 300.0h0M340.7 299.1h0M335.0 303.2h0M343.3 302.1h0M284.2 320.9h0M317.3 315.1h0M321.0 315.3h0M343.1 308.9h0M322.7 317.2h0M338.3 314.5h0M283.4 324.2h0M318.4 319.6h0M321.4 319.4h0M344.8 318.5h0M353.4 314.6h0M353.3 318.9h0M282.7 329.0h0M352.0 323.1h0M282.9 330.5h0M360.5 325.6h0M280.9 332.4h0M295.7 333.1h0M297.8 332.5h0M299.4 333.8h0M336.2 332.6h0M299.1 335.7h0M334.1 334.7h0M339.5 333.3h0M297.1 336.7h0M335.1 337.5h0M287.8 340.5h0M319.7 341.5h0M325.0 340.3h0M325.5 342.8h0M290.2 342.5h0M323.3 344.7h0M307.9 349.6h0M283.1 345.7h0M305.2 350.6h0M283.5 347.3h0M305.0 353.0h0M283.9 348.9h0M309.7 353.4h0M320.2 359.9h0M285.1 356.0h0M319.0 364.7h0M296.8 362.9h0M296.3 364.9h0M286.5 362.7h0M346.9 390.1h0M292.0 364.6h0M306.8 384.3h0M326.8 396.1h0M190.9 331.8h0M276.2 331.7h0M178.8 332.4h0M185.7 332.3h0M269.2 331.7h0M274.1 332.1h0M277.9 332.0h0M264.8 331.8h0M270.5 332.4h0M179.6 338.9h0M189.1 338.6h0M274.4 339.1h0M193.0 339.4h0M267.6 339.6h0M271.0 338.7h0M276.6 339.4h0" stroke="#deff21"/>
<path d="M153.1 298.5h0M150.6 297.5h0M155.9 301.6h0M148.4 299.0h0M153.4 300.7h0M148.9 301.4h0M141.1 299.1h0M140.3 296.5h0M156.3 303.8h0M151.9 304.5h0M135.6 298.3h0M135.3 300.8h0M142.0 322.0h0M139.1 321.4h0M163.1 327.7h0M143.0 324.3h0M119.1 320.4h0M111.2 319.6h0M164.9 329.2h0M160.9 328.0h0M141.1 326.4h0M138.1 326.0h0M117.1 322.9h0M164.2 330.9h0M162.0 331.4h0M118.5 331.0h0M87.3 332.6h0M118.4 336.3h0M97.9 337.9h0M86.8 337.8h0M141.1 340.1h0M139.6 342.3h0M95.2 341.5h0M89.8 341.5h0M143.9 344.8h0M89.2 351.1h0M127.6 354.6h0M124.7 355.5h0M130.0 356.4h0M124.5 358.2h0M167.9 350.9h0M163.4 352.4h0M129.4 359.2h0M126.4 360.2h0M168.0 352.8h0M166.3 353.6h0M134.6 359.8h0M131.8 360.8h0M131.4 363.5h0M113.7 367.1h0M109.3 367.1h0M149.3 360.0h0M136.9 361.3h0M134.0 365.0h0M106.6 371.6h0M136.7 363.9h0M109.5 375.3h0M146.4 362.0h0M149.0 365.1h0M110.9 388.2h0M149.9 381.7h0M321.5 280.9h0M350.1 284.9h0M291.7 313.6h0M292.6 311.8h0M295.2 311.6h0M345.2 298.4h0M352.4 293.9h0M290.6 317.4h0M295.4 315.4h0M296.7 313.6h0M307.4 312.5h0M355.7 298.2h0M293.0 316.9h0M309.3 314.4h0M348.0 302.1h0M290.0 319.3h0M294.3 318.4h0M312.2 313.9h0M327.5 311.5h0M330.4 310.7h0M353.1 302.3h0M291.5 320.8h0M293.7 320.4h0M326.7 314.2h0M332.6 312.8h0M328.6 316.2h0M331.7 315.6h0M312.8 326.1h0M321.4 326.2h0M311.1 328.2h0M326.0 328.4h0M316.9 328.5h0M324.3 330.7h0M321.3 330.6h0M370.0 331.2h0M306.1 340.4h0M297.0 340.5h0M301.6 341.7h0M339.7 344.0h0M342.6 342.6h0M364.4 338.4h0M293.4 341.5h0M306.9 342.6h0M337.6 346.1h0M369.0 341.7h0M293.8 343.4h0M295.9 344.1h0M302.3 344.1h0M335.0 347.7h0M345.2 345.3h0M368.3 346.9h0M332.6 349.5h0M338.1 349.0h0M344.6 348.6h0M332.8 352.5h0M305.5 366.5h0M321.9 369.3h0M324.8 370.6h0M307.5 368.0h0M321.8 374.8h0M304.9 371.1h0M309.6 385.0h0M322.3 395.0h0" stroke="#ff8900"/>
<path d="M165.9 297.4h0M136.6 282.8h0M169.0 303.8h0M102.9 289.2h0M172.7 316.5h0M173.4 318.2h0M174.2 324.0h0M176.4 331.7h0M174.7 331.7h0M175.0 342.5h0M174.0 347.2h0M138.1 353.6h0M173.3 352.1h0M303.7 280.5h0M294.1 293.7h0M330.4 279.4h0M286.9 309.8h0M285.3 315.4h0M339.0 302.5h0M283.8 322.6h0M341.7 313.3h0M283.1 327.4h0M282.5 332.0h0M297.2 334.6h0M322.7 342.2h0M284.6 352.3h0M320.9 362.3h0M358.7 377.6h0M285.3 357.9h0M286.6 360.7h0M292.4 374.9h0M294.2 378.3h0M279.7 331.9h0M279.7 338.8h0M179.7 331.8h0M181.7 331.7h0M183.8 331.6h0M192.4 331.6h0M194.1 332.0h0M267.9 331.6h0M272.9 332.1h0M277.2 331.5h0M186.9 332.3h0M188.1 332.4h0M189.4 332.4h0M266.5 331.6h0M275.2 332.0h0M196.6 338.8h0M187.7 338.6h0M262.8 338.7h0M273.3 339.0h0M277.7 339.2h0M181.2 339.4h0M182.2 339.2h0M183.3 339.3h0M184.4 339.2h0M185.5 339.2h0M194.7 339.1h0M266.2 339.3h0M275.5 339.3h0" stroke="#b8ff47"/>
<path d="M151.4 302.2h0M137.2 296.0h0M137.3 323.3h0M113.5 322.5h0M160.4 329.9h0M123.5 333.5h0M116.6 333.7h0M92.1 330.3h0M141.0 344.6h0M115.6 370.5h0M151.3 361.5h0M146.6 364.2h0M151.1 389.7h0M308.3 310.2h0M347.1 294.4h0M324.4 326.1h0M315.6 326.3h0M312.3 330.5h0M315.2 330.6h0M364.7 333.3h0M303.4 339.9h0M294.8 340.1h0M297.6 342.6h0M336.1 352.9h0M339.4 352.2h0M303.0 367.4h0M324.8 373.4h0M307.2 370.4h0M319.2 373.2h0M302.8 369.7h0" stroke="#ff6300"/>
<path d="M163.8 307.8h0M102.7 298.9h0M174.1 322.4h0M174.7 327.3h0M174.8 328.9h0M175.7 339.5h0M174.7 344.0h0M115.8 357.4h0M87.6 366.9h0M158.2 361.8h0M128.8 370.2h0M100.5 386.7h0M170.5 363.4h0M356.9 284.6h0M367.3 299.1h0M355.6 326.3h0M282.5 339.8h0M284.7 354.1h0M294.3 363.8h0M287.6 365.6h0M323.7 399.6h0M298.5 386.5h0M314.0 396.9h0M178.0 331.9h0M178.0 338.8h0M180.7 331.6h0M182.7 331.6h0M184.6 332.4h0M271.7 332.2h0M261.2 332.4h0M263.1 332.2h0M257.3 340.0h0M264.6 339.1h0M272.2 338.8h0M278.7 339.5h0" stroke="#92ff6d"/>
<path d="M151.0 299.9h0M140.1 324.0h0M115.4 319.8h0M120.1 333.6h0M134.2 362.4h0M294.2 313.4h0M335.4 350.5h0" stroke="#ff1800"/>
<path d="M161.6 335.5h0M121.9 336.0h0M155.9 341.8h0M103.0 339.4h0M174.4 345.6h0M119.7 370.0h0M143.6 396.9h0M159.2 386.4h0M330.3 297.8h0M300.3 311.3h0M349.1 316.9h0M337.4 335.5h0M289.5 340.8h0M374.1 344.8h0M373.9 350.0h0M307.6 351.9h0M213.4 332.2h0M217.4 339.0h0M245.1 338.9h0M200.3 340.3h0" stroke="#6dff92"/>
<path d="M156.6 282.7h0M127.2 288.4h0M128.0 327.4h0M84.2 354.9h0M90.2 372.3h0M139.0 398.4h0M306.8 278.3h0M301.1 282.7h0M319.7 272.9h0M325.3 271.9h0M369.8 304.6h0M319.5 317.3h0M360.5 382.6h0M352.7 390.8h0M294.9 381.9h0M329.8 400.0h0M225.3 332.2h0M241.2 332.1h0M221.4 339.0h0M229.2 338.9h0M209.4 338.9h0" stroke="#47ffb8"/>
<path d="M138.3 298.6h0M92.4 336.4h0M142.6 342.4h0M111.3 370.9h0M148.9 362.5h0M310.1 312.1h0M350.3 298.2h0M292.1 318.9h0M323.0 328.4h0M314.0 328.4h0M369.6 336.5h0M304.1 342.1h0M341.5 346.4h0M321.9 372.0h0M178.0 334.2h0M178.0 336.5h0M279.7 334.2h0M279.7 336.5h0M178.8 334.8h0M278.8 334.9h0M278.8 336.1h0M178.9 336.0h0" stroke="#f10000"/>
<path d="M147.0 276.1h0M161.0 287.5h0M163.9 291.6h0M162.6 289.5h0M165.2 293.3h0M172.6 309.8h0M105.3 280.4h0M88.0 304.9h0M176.1 326.3h0M83.9 316.9h0M82.9 349.2h0M176.6 341.9h0M176.3 343.5h0M175.2 349.7h0M93.2 377.5h0M173.3 355.9h0M114.6 397.3h0M133.5 399.6h0M168.1 373.7h0M154.7 389.6h0M153.7 391.7h0M297.5 286.9h0M293.4 291.7h0M291.9 293.4h0M285.8 308.0h0M372.0 310.4h0M374.8 339.8h0M280.8 339.9h0M281.8 346.9h0M369.6 367.3h0M282.9 353.3h0M347.7 394.9h0M318.6 398.4h0M296.5 384.0h0M303.6 391.0h0M306.6 393.1h0M180.4 329.6h0M182.4 329.6h0M275.2 329.7h0M278.3 329.5h0M189.1 329.8h0M277.9 330.7h0M186.1 331.1h0M189.8 331.2h0M233.1 332.1h0M245.1 332.1h0M255.1 331.3h0M221.4 332.1h0M205.9 339.3h0M180.2 339.7h0M191.4 339.7h0M202.9 339.9h0M237.1 338.9h0M259.6 340.4h0M273.8 340.2h0M274.9 340.3h0M178.8 340.6h0M274.3 341.4h0M278.0 340.4h0M275.4 341.5h0" stroke="#21ffde"/>
<path d="M162.7 329.5h0M165.8 351.7h0M295.5 342.0h0" stroke="#cb0000"/>
<path d="M167.3 296.1h0M165.7 295.2h0M168.6 300.0h0M110.7 276.6h0M173.2 311.7h0M171.8 308.2h0M173.4 313.5h0M100.6 284.5h0M97.0 289.6h0M175.2 318.5h0M175.3 321.1h0M91.4 299.7h0M175.7 322.9h0M176.2 327.9h0M175.4 330.4h0M175.1 351.3h0M174.9 353.0h0M96.6 382.3h0M173.5 357.7h0M109.0 394.2h0M168.9 370.6h0M127.4 399.9h0M166.9 375.6h0M165.7 377.6h0M150.7 393.2h0M310.5 276.2h0M314.7 274.4h0M296.2 288.7h0M290.5 296.3h0M292.1 294.9h0M289.6 298.2h0M331.4 271.8h0M288.9 300.0h0M287.7 303.3h0M343.5 275.1h0M348.5 277.8h0M284.3 312.0h0M283.1 318.1h0M282.4 321.3h0M282.0 323.0h0M281.7 326.4h0M281.4 328.0h0M281.2 331.0h0M374.7 322.6h0M281.9 341.0h0M282.3 342.5h0M281.2 343.6h0M371.9 361.7h0M282.4 350.1h0M357.5 387.3h0M284.9 361.9h0M285.9 364.5h0M341.7 397.5h0M286.7 367.1h0M287.7 368.9h0M289.7 372.3h0M292.1 377.6h0M279.8 330.2h0M178.0 329.6h0M178.0 341.1h0M279.7 329.6h0M279.7 340.0h0M183.5 329.5h0M184.6 329.6h0M190.4 330.0h0M272.1 329.7h0M273.2 329.7h0M178.8 330.1h0M179.9 330.7h0M182.0 330.6h0M183.0 330.6h0M186.7 329.8h0M194.9 330.4h0M209.5 332.3h0M265.6 330.1h0M269.7 329.9h0M272.5 331.0h0M276.7 330.6h0M278.8 330.2h0M178.9 331.2h0M185.0 331.1h0M187.3 331.1h0M188.5 331.1h0M200.6 330.9h0M203.3 331.1h0M252.2 331.8h0M261.9 330.5h0M270.4 331.1h0M271.5 331.0h0M274.7 330.9h0M278.7 331.4h0M257.5 331.1h0M255.0 339.7h0M241.2 339.0h0M188.5 339.9h0M269.0 339.8h0M180.7 340.6h0M188.0 341.3h0M189.3 341.2h0M192.3 341.1h0M198.0 340.5h0M265.2 340.9h0M269.6 341.2h0M278.9 340.6h0M179.1 341.6h0M182.3 341.5h0M184.4 341.5h0M185.5 341.5h0M195.9 340.7h0M263.4 340.7h0M272.1 341.3h0M273.2 341.4h0M277.5 341.5h0" stroke="#00faff"/>
<path d="M153.8 280.5h0M150.7 278.3h0M142.0 274.0h0M136.4 272.4h0M123.2 272.0h0M116.8 273.8h0M170.4 302.6h0M168.7 301.8h0M171.0 304.6h0M171.4 306.5h0M173.9 315.0h0M174.6 316.7h0M93.0 294.0h0M174.3 319.8h0M175.9 324.6h0M176.4 329.3h0M177.1 330.6h0M82.8 323.2h0M82.5 342.0h0M176.9 340.3h0M176.1 345.1h0M175.8 346.7h0M175.5 348.2h0M174.8 354.9h0M173.5 359.5h0M104.8 390.4h0M172.1 364.4h0M170.4 365.4h0M171.0 367.1h0M170.1 368.9h0M164.4 379.5h0M162.8 381.2h0M160.8 382.5h0M161.1 384.5h0M294.9 290.2h0M286.7 306.5h0M353.1 280.7h0M284.9 309.8h0M283.7 314.2h0M283.3 316.3h0M282.8 319.7h0M281.4 329.6h0M375.4 328.7h0M375.2 334.4h0M281.5 345.2h0M373.6 355.8h0M282.1 348.5h0M367.1 372.7h0M282.8 351.6h0M364.4 377.8h0M283.6 357.3h0M284.6 359.7h0M288.5 370.7h0M290.2 374.0h0M290.7 375.9h0M293.4 380.0h0M300.9 388.8h0M310.0 395.0h0M178.0 330.8h0M178.0 340.0h0M279.7 330.8h0M279.7 341.1h0M181.4 329.6h0M191.7 330.1h0M268.6 330.1h0M276.2 329.6h0M277.3 329.6h0M180.9 330.6h0M184.1 330.6h0M185.6 329.8h0M193.3 330.2h0M196.6 330.6h0M263.9 330.3h0M267.2 330.1h0M270.9 329.7h0M273.6 331.0h0M274.2 329.7h0M275.7 330.8h0M217.4 332.1h0M198.6 330.7h0M259.8 330.7h0M237.1 332.2h0M213.3 339.0h0M270.3 340.0h0M179.7 340.6h0M181.8 340.4h0M182.8 340.3h0M183.8 340.4h0M184.9 340.4h0M187.4 340.2h0M268.3 341.1h0M271.5 340.0h0M272.7 340.1h0M277.0 340.4h0M180.2 341.6h0M181.3 341.5h0M183.3 341.5h0M186.7 341.4h0M190.7 341.2h0M266.8 341.0h0M270.9 341.3h0M276.4 341.5h0" stroke="#00d4ff"/>
<path d="M153.9 303.0h0M127.2 357.3h0M329.6 313.5h0M305.1 368.8h0M178.0 335.4h0M279.7 335.4h0" stroke="#800000"/>
<path d="M159.0 285.0h0M130.3 271.5h0M168.0 298.1h0M85.6 310.8h0M81.8 335.5h0M172.0 360.5h0M172.5 362.3h0M147.5 395.1h0M157.1 388.3h0M299.1 284.9h0M288.4 301.7h0M337.7 272.9h0M286.7 304.8h0M360.8 289.0h0M281.8 324.7h0M373.6 316.4h0M280.8 341.7h0M283.2 355.2h0M335.7 399.2h0M179.5 329.5h0M187.8 329.8h0M249.0 332.2h0M206.2 331.8h0M225.3 338.9h0M233.1 339.0h0M189.9 339.8h0M248.9 338.8h0M194.0 340.9h0M252.1 339.3h0M261.6 340.6h0M275.9 340.4h0M186.1 340.4h0M278.5 341.6h0" stroke="#00afff"/>
<path d="M82.2 329.4h0M85.5 361.0h0M364.3 293.8h0M229.2 332.2h0" stroke="#0089ff"/>
<path d="M279.9 342.8h0M280.7 350.0h0M197.4 328.5h0M180.9 342.6h0M194.0 342.6h0M266.7 342.6h0" stroke="#003dff" stroke-width="1.5"/>
<path d="M172.9 305.5h0M166.6 292.1h0M102.9 275.0h0M94.0 283.4h0M79.4 312.3h0M175.1 358.8h0M285.7 303.2h0M295.8 285.2h0M303.1 277.4h0M309.9 272.5h0M359.4 278.9h0M354.8 396.6h0M284.8 366.1h0M244.0 328.5h0" stroke="#003dff" stroke-width="2.15"/>
<path d="M177.6 327.1h0M176.6 352.0h0M177.4 346.2h0M177.6 344.5h0M280.2 325.4h0M281.1 319.6h0M281.1 352.0h0M280.1 344.5h0M178.0 328.5h0M179.9 328.5h0M182.9 328.5h0M186.1 328.5h0M188.4 328.5h0M192.4 328.5h0M194.0 328.5h0M195.6 328.5h0M260.2 328.5h0M263.7 328.5h0M265.2 328.5h0M266.7 328.5h0M268.0 328.5h0M269.3 328.5h0M270.5 328.5h0M272.7 328.5h0M274.8 328.5h0M279.7 328.5h0M186.1 342.6h0M191.0 342.6h0M192.4 342.6h0M260.2 342.6h0M262.0 342.6h0M263.7 342.6h0M268.0 342.6h0M278.7 342.6h0" stroke="#0018ff" stroke-width="1.5"/>
<path d="M174.5 310.4h0M173.7 308.0h0M169.0 296.4h0M165.2 289.9h0M163.7 287.6h0M161.9 285.2h0M157.3 280.0h0M151.4 274.9h0M147.8 272.5h0M124.3 266.7h0M83.8 299.7h0M81.3 305.9h0M77.9 318.9h0M76.9 346.0h0M77.9 352.7h0M79.4 359.3h0M98.2 392.7h0M107.9 399.9h0M134.7 404.3h0M154.5 394.2h0M157.3 391.6h0M167.8 377.4h0M171.1 370.7h0M172.0 368.4h0M284.0 308.0h0M284.8 305.5h0M286.6 300.9h0M288.7 296.4h0M289.8 294.2h0M291.1 292.1h0M294.0 287.6h0M297.9 282.7h0M306.3 274.9h0M313.8 270.4h0M328.0 266.6h0M333.4 266.7h0M349.8 271.7h0M367.6 288.4h0M373.9 299.7h0M376.3 305.9h0M380.8 346.0h0M359.4 392.7h0M349.8 399.9h0M344.5 402.4h0M333.4 404.9h0M318.2 403.0h0M309.9 399.1h0M306.3 396.7h0M297.9 388.9h0M295.8 386.4h0M292.5 381.7h0M210.3 328.5h0M213.7 328.5h0M217.1 328.5h0M220.4 328.5h0M227.2 328.5h0M233.9 328.5h0M258.2 328.5h0M201.7 342.6h0M207.1 342.6h0M210.3 342.6h0M237.2 342.6h0M250.6 342.6h0" stroke="#0018ff" stroke-width="2.15"/>
<path d="M177.7 328.8h0M177.7 342.8h0M279.9 328.8h0M177.4 325.4h0M177.2 323.5h0M176.6 319.6h0M176.2 317.4h0M175.7 315.2h0M176.2 354.2h0M177.2 348.1h0M280.5 323.5h0M281.5 317.4h0M282.0 315.2h0M281.5 354.2h0M280.5 348.1h0M280.2 346.2h0M179.0 328.5h0M180.9 328.5h0M181.9 328.5h0M183.9 328.5h0M185.0 328.5h0M189.7 328.5h0M262.0 328.5h0M271.6 328.5h0M275.8 328.5h0M276.8 328.5h0M277.8 328.5h0M278.7 328.5h0M181.9 342.6h0M182.9 342.6h0M185.0 342.6h0M188.4 342.6h0M189.7 342.6h0M195.6 342.6h0M197.4 342.6h0M265.2 342.6h0M272.7 342.6h0M274.8 342.6h0M276.8 342.6h0M277.8 342.6h0M279.7 342.6h0" stroke="#0000f1" stroke-width="1.5"/>
<path d="M172.0 303.2h0M171.1 300.9h0M167.8 294.2h0M139.5 268.6h0M134.7 267.3h0M129.6 266.6h0M118.7 267.5h0M107.9 271.7h0M98.2 278.9h0M86.7 293.9h0M76.9 325.6h0M76.4 332.4h0M76.4 339.2h0M81.3 365.7h0M83.8 371.9h0M86.7 377.7h0M90.1 383.2h0M94.0 388.2h0M102.9 396.6h0M113.2 402.4h0M129.6 405.0h0M139.5 403.0h0M147.8 399.1h0M151.4 396.7h0M159.8 388.9h0M161.9 386.4h0M165.2 381.7h0M166.6 379.5h0M169.0 375.2h0M170.0 373.0h0M172.9 366.1h0M174.5 361.2h0M287.6 298.6h0M300.4 280.0h0M318.2 268.6h0M339.0 267.5h0M354.8 275.0h0M363.7 283.4h0M371.0 293.9h0M379.8 318.9h0M380.8 325.6h0M381.3 332.4h0M381.3 339.2h0M379.8 352.7h0M376.3 365.7h0M373.9 371.9h0M367.6 383.2h0M339.0 404.1h0M328.0 405.0h0M322.9 404.3h0M313.8 401.2h0M303.1 394.2h0M300.4 391.6h0M294.0 384.0h0M291.1 379.5h0M287.6 373.0h0M285.7 368.4h0M283.2 361.2h0M282.5 358.8h0M201.7 328.5h0M207.1 328.5h0M223.8 328.5h0M237.2 328.5h0M240.6 328.5h0M247.3 328.5h0M253.5 328.5h0M199.4 342.6h0M204.2 342.6h0M217.1 342.6h0M220.4 342.6h0M223.8 342.6h0M227.2 342.6h0M230.5 342.6h0M233.9 342.6h0M240.6 342.6h0M244.0 342.6h0M247.3 342.6h0M253.5 342.6h0M256.0 342.6h0M258.2 342.6h0" stroke="#0000f1" stroke-width="2.15"/>
<path d="M176.9 321.6h0M176.9 350.0h0M280.1 327.1h0M280.7 321.6h0M282.0 356.4h0M187.2 328.5h0M191.0 328.5h0M178.0 342.6h0M179.0 342.6h0M179.9 342.6h0M183.9 342.6h0M187.2 342.6h0M269.3 342.6h0M270.5 342.6h0M271.6 342.6h0M273.8 342.6h0M275.8 342.6h0" stroke="#0000cb" stroke-width="1.5"/>
<path d="M170.0 298.6h0M159.8 282.7h0M154.5 277.4h0M143.8 270.4h0M113.2 269.2h0M90.1 288.4h0M118.7 404.1h0M124.3 404.9h0M143.8 401.2h0M173.7 363.6h0M282.5 312.8h0M322.9 267.3h0M344.5 269.2h0M378.3 312.3h0M371.0 377.7h0M363.7 388.2h0M289.8 377.4h0M288.7 375.2h0M284.0 363.6h0M199.4 328.5h0M204.2 328.5h0M230.5 328.5h0" stroke="#0000cb" stroke-width="2.15"/>
<path d="M175.1 312.8h0M283.2 310.4h0M292.5 289.9h0M378.3 359.3h0M250.6 328.5h0" stroke="#0000a5" stroke-width="2.15"/>
<path d="M273.8 328.5h0" stroke="#0000a5" stroke-width="1.5"/>
<path d="M286.6 370.7h0M256.0 328.5h0M213.7 342.6h0" stroke="#000080" stroke-width="2.15"/>
<path d="M163.7 384.0h0" stroke="#000080" stroke-width="2.15"/>
<path d="M175.7 356.4h0" stroke="#000080" stroke-width="1.5"/>
</g>
<ellipse cx="214.2" cy="335.5" rx="3.1" ry="2.6" fill="#ff7a00" fill-opacity="0.75"/><ellipse cx="214.2" cy="335.5" rx="1.8" ry="1.5" fill="#e00800"/><ellipse cx="214.2" cy="335.5" rx="0.8" ry="0.7" fill="#500000"/>
<ellipse cx="336.0" cy="335.5" rx="3.1" ry="2.6" fill="#ff7a00" fill-opacity="0.75"/><ellipse cx="336.0" cy="335.5" rx="1.8" ry="1.5" fill="#e00800"/><ellipse cx="336.0" cy="335.5" rx="0.8" ry="0.7" fill="#500000"/>
<rect x="521" y="244.5" width="6.9" height="182.2" fill="url(#gC)"/>
<g font-family="'Liberation Sans',sans-serif" font-size="9.6" fill="#222">
<text transform="translate(29.2,256.6) scale(1.33,1)" text-anchor="end">0.6</text>
<text transform="translate(29.2,284.3) scale(1.33,1)" text-anchor="end">0.4</text>
<text transform="translate(29.2,312.0) scale(1.33,1)" text-anchor="end">0.2</text>
<text transform="translate(29.2,339.7) scale(1.33,1)" text-anchor="end">0</text>
<text transform="translate(29.2,367.4) scale(1.33,1)" text-anchor="end">-0.2</text>
<text transform="translate(29.2,395.1) scale(1.33,1)" text-anchor="end">-0.4</text>
<text transform="translate(29.2,422.8) scale(1.33,1)" text-anchor="end">-0.6</text>
<text transform="translate(91.9,440.4) scale(1.33,1)" text-anchor="middle">-1.5</text>
<text transform="translate(152.9,440.4) scale(1.33,1)" text-anchor="middle">-1</text>
<text transform="translate(213.9,440.4) scale(1.33,1)" text-anchor="middle">-0.5</text>
<text transform="translate(274.9,440.4) scale(1.33,1)" text-anchor="middle">0</text>
<text transform="translate(335.9,440.4) scale(1.33,1)" text-anchor="middle">0.5</text>
<text transform="translate(396.9,440.4) scale(1.33,1)" text-anchor="middle">1</text>
<text transform="translate(457.9,440.4) scale(1.33,1)" text-anchor="middle">1.5</text>
<text transform="translate(531.4,430.1) scale(1.33,1)" text-anchor="start">8</text>
<text transform="translate(531.4,403.0) scale(1.33,1)" text-anchor="start">10</text>
<text transform="translate(531.4,375.9) scale(1.33,1)" text-anchor="start">12</text>
<text transform="translate(531.4,348.7) scale(1.33,1)" text-anchor="start">14</text>
<text transform="translate(531.4,321.6) scale(1.33,1)" text-anchor="start">16</text>
<text transform="translate(531.4,294.5) scale(1.33,1)" text-anchor="start">18</text>
<text transform="translate(531.4,267.4) scale(1.33,1)" text-anchor="start">20</text>
</g>
<text x="279.6" y="468.3" text-anchor="middle" font-family="'Liberation Serif',serif" font-size="17.5" fill="#111">(<tspan font-weight="bold">c</tspan>)</text>
</svg></body></html>
